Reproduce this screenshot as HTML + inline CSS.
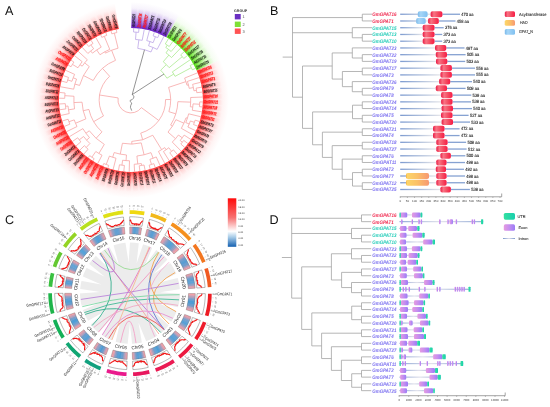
<!DOCTYPE html><html><head><meta charset="utf-8"><style>html,body{margin:0;padding:0;background:#fff;}svg{display:block;}</style></head><body>
<svg width="550" height="407" viewBox="0 0 550 407" font-family="&quot;Liberation Sans&quot;, sans-serif" text-rendering="geometricPrecision" style="will-change:transform">
<rect width="550" height="407" fill="#fff"/>
<defs>
<radialGradient id="gar" gradientUnits="userSpaceOnUse" cx="130.95" cy="99.9" r="98"><stop offset="0.735" stop-color="#ff2b2b" stop-opacity="0.85"/><stop offset="0.786" stop-color="#ff2b2b" stop-opacity="0.45"/><stop offset="0.857" stop-color="#ff2b2b" stop-opacity="0.16"/><stop offset="0.929" stop-color="#ff2b2b" stop-opacity="0.06"/><stop offset="1" stop-color="#ff2b2b" stop-opacity="0"/></radialGradient>
<radialGradient id="gsr" gradientUnits="userSpaceOnUse" cx="130.95" cy="99.9" r="97"><stop offset="0.742" stop-color="#ff2b2b" stop-opacity="0.55"/><stop offset="0.835" stop-color="#ff2b2b" stop-opacity="0.28"/><stop offset="0.897" stop-color="#ff2b2b" stop-opacity="0.08"/><stop offset="0.948" stop-color="#ff2b2b" stop-opacity="0"/><stop offset="1" stop-color="#ff2b2b" stop-opacity="0"/></radialGradient>
<radialGradient id="gap" gradientUnits="userSpaceOnUse" cx="130.95" cy="99.9" r="98"><stop offset="0.735" stop-color="#6a22c6" stop-opacity="1.0"/><stop offset="0.786" stop-color="#6a22c6" stop-opacity="0.62"/><stop offset="0.857" stop-color="#6a22c6" stop-opacity="0.26"/><stop offset="0.929" stop-color="#6a22c6" stop-opacity="0.06"/><stop offset="1" stop-color="#6a22c6" stop-opacity="0"/></radialGradient>
<radialGradient id="gsp" gradientUnits="userSpaceOnUse" cx="130.95" cy="99.9" r="97"><stop offset="0.742" stop-color="#6a22c6" stop-opacity="0.55"/><stop offset="0.835" stop-color="#6a22c6" stop-opacity="0.28"/><stop offset="0.897" stop-color="#6a22c6" stop-opacity="0.08"/><stop offset="0.948" stop-color="#6a22c6" stop-opacity="0"/><stop offset="1" stop-color="#6a22c6" stop-opacity="0"/></radialGradient>
<radialGradient id="gag" gradientUnits="userSpaceOnUse" cx="130.95" cy="99.9" r="98"><stop offset="0.735" stop-color="#5ee01e" stop-opacity="1.0"/><stop offset="0.786" stop-color="#5ee01e" stop-opacity="0.62"/><stop offset="0.857" stop-color="#5ee01e" stop-opacity="0.26"/><stop offset="0.929" stop-color="#5ee01e" stop-opacity="0.06"/><stop offset="1" stop-color="#5ee01e" stop-opacity="0"/></radialGradient>
<radialGradient id="gsg" gradientUnits="userSpaceOnUse" cx="130.95" cy="99.9" r="97"><stop offset="0.742" stop-color="#5ee01e" stop-opacity="0.55"/><stop offset="0.835" stop-color="#5ee01e" stop-opacity="0.28"/><stop offset="0.897" stop-color="#5ee01e" stop-opacity="0.08"/><stop offset="0.948" stop-color="#5ee01e" stop-opacity="0"/><stop offset="1" stop-color="#5ee01e" stop-opacity="0"/></radialGradient>
</defs>
<path d="M131.29,1.90A98.00,98.00 0 0 1 179.17,14.59L166.38,37.22A72.00,72.00 0 0 0 131.20,27.90Z" fill="url(#gap)"/>
<path d="M179.17,14.59A98.00,98.00 0 0 1 220.40,59.87L196.67,70.49A72.00,72.00 0 0 0 166.38,37.22Z" fill="url(#gag)"/>
<path d="M220.40,59.87A98.00,98.00 0 1 1 114.61,3.27L118.94,28.91A72.00,72.00 0 1 0 196.67,70.49Z" fill="url(#gar)"/>
<path d="M132.14,2.91A97.00,97.00 0 0 1 137.21,3.10L135.60,28.05A72.00,72.00 0 0 0 131.83,27.91Z" fill="url(#gsp)"/>
<path d="M139.34,3.26A97.00,97.00 0 0 1 144.39,3.84L140.92,28.59A72.00,72.00 0 0 0 137.18,28.17Z" fill="url(#gsp)"/>
<path d="M146.46,4.15A97.00,97.00 0 0 1 151.45,5.09L146.16,29.53A72.00,72.00 0 0 0 142.46,28.83Z" fill="url(#gsp)"/>
<path d="M153.45,5.55A97.00,97.00 0 0 1 158.36,6.85L151.29,30.83A72.00,72.00 0 0 0 147.65,29.86Z" fill="url(#gsp)"/>
<path d="M160.28,7.44A97.00,97.00 0 0 1 165.08,9.10L156.29,32.50A72.00,72.00 0 0 0 152.72,31.27Z" fill="url(#gsp)"/>
<path d="M166.93,9.82A97.00,97.00 0 0 1 171.59,11.82L161.12,34.52A72.00,72.00 0 0 0 157.65,33.03Z" fill="url(#gsp)"/>
<path d="M173.34,12.65A97.00,97.00 0 0 1 177.85,14.99L165.76,36.88A72.00,72.00 0 0 0 162.42,35.14Z" fill="url(#gsp)"/>
<path d="M179.51,15.93A97.00,97.00 0 0 1 183.83,18.58L170.20,39.54A72.00,72.00 0 0 0 166.99,37.57Z" fill="url(#gsg)"/>
<path d="M185.39,19.62A97.00,97.00 0 0 1 189.52,22.58L174.42,42.51A72.00,72.00 0 0 0 171.36,40.31Z" fill="url(#gsg)"/>
<path d="M190.97,23.70A97.00,97.00 0 0 1 194.88,26.95L178.40,45.75A72.00,72.00 0 0 0 175.50,43.34Z" fill="url(#gsg)"/>
<path d="M196.22,28.15A97.00,97.00 0 0 1 199.89,31.66L182.12,49.25A72.00,72.00 0 0 0 179.40,46.64Z" fill="url(#gsg)"/>
<path d="M201.13,32.94A97.00,97.00 0 0 1 204.54,36.70L185.57,52.99A72.00,72.00 0 0 0 183.04,50.20Z" fill="url(#gsg)"/>
<path d="M205.66,38.04A97.00,97.00 0 0 1 208.80,42.03L188.74,56.95A72.00,72.00 0 0 0 186.41,53.98Z" fill="url(#gsg)"/>
<path d="M209.82,43.43A97.00,97.00 0 0 1 212.66,47.63L191.60,61.10A72.00,72.00 0 0 0 189.49,57.98Z" fill="url(#gsg)"/>
<path d="M213.57,49.08A97.00,97.00 0 0 1 216.12,53.47L194.17,65.44A72.00,72.00 0 0 0 192.28,62.18Z" fill="url(#gsg)"/>
<path d="M216.91,54.96A97.00,97.00 0 0 1 219.14,59.52L196.41,69.92A72.00,72.00 0 0 0 194.75,66.54Z" fill="url(#gsg)"/>
<path d="M219.82,61.04A97.00,97.00 0 0 1 221.74,65.74L198.34,74.55A72.00,72.00 0 0 0 196.92,71.05Z" fill="url(#gsr)"/>
<path d="M222.31,67.29A97.00,97.00 0 0 1 223.89,72.12L199.93,79.28A72.00,72.00 0 0 0 198.76,75.70Z" fill="url(#gsr)"/>
<path d="M224.34,73.70A97.00,97.00 0 0 1 225.59,78.62L201.20,84.10A72.00,72.00 0 0 0 200.27,80.45Z" fill="url(#gsr)"/>
<path d="M225.93,80.21A97.00,97.00 0 0 1 226.83,85.21L202.12,89.00A72.00,72.00 0 0 0 201.45,85.29Z" fill="url(#gsr)"/>
<path d="M227.06,86.82A97.00,97.00 0 0 1 227.62,91.87L202.70,93.94A72.00,72.00 0 0 0 202.29,90.19Z" fill="url(#gsr)"/>
<path d="M227.74,93.48A97.00,97.00 0 0 1 227.94,98.56L202.94,98.90A72.00,72.00 0 0 0 202.79,95.14Z" fill="url(#gsr)"/>
<path d="M227.95,100.17A97.00,97.00 0 0 1 227.80,105.25L202.84,103.87A72.00,72.00 0 0 0 202.95,100.10Z" fill="url(#gsr)"/>
<path d="M227.70,106.87A97.00,97.00 0 0 1 227.20,111.92L202.39,108.82A72.00,72.00 0 0 0 202.76,105.07Z" fill="url(#gsr)"/>
<path d="M226.99,113.53A97.00,97.00 0 0 1 226.14,118.54L201.61,113.73A72.00,72.00 0 0 0 202.24,110.02Z" fill="url(#gsr)"/>
<path d="M225.82,120.13A97.00,97.00 0 0 1 224.63,125.07L200.48,118.58A72.00,72.00 0 0 0 201.37,114.92Z" fill="url(#gsr)"/>
<path d="M224.19,126.65A97.00,97.00 0 0 1 222.66,131.49L199.02,123.35A72.00,72.00 0 0 0 200.16,119.76Z" fill="url(#gsr)"/>
<path d="M222.11,133.05A97.00,97.00 0 0 1 220.25,137.78L197.23,128.01A72.00,72.00 0 0 0 198.61,124.51Z" fill="url(#gsr)"/>
<path d="M219.59,139.30A97.00,97.00 0 0 1 217.40,143.89L195.12,132.55A72.00,72.00 0 0 0 196.74,129.15Z" fill="url(#gsr)"/>
<path d="M216.63,145.38A97.00,97.00 0 0 1 214.13,149.80L192.69,136.94A72.00,72.00 0 0 0 194.55,133.66Z" fill="url(#gsr)"/>
<path d="M213.24,151.25A97.00,97.00 0 0 1 210.44,155.49L189.95,141.16A72.00,72.00 0 0 0 192.03,138.02Z" fill="url(#gsr)"/>
<path d="M209.44,156.89A97.00,97.00 0 0 1 206.35,160.92L186.92,145.19A72.00,72.00 0 0 0 189.21,142.20Z" fill="url(#gsr)"/>
<path d="M205.24,162.27A97.00,97.00 0 0 1 201.88,166.07L183.60,149.02A72.00,72.00 0 0 0 186.09,146.19Z" fill="url(#gsr)"/>
<path d="M200.66,167.35A97.00,97.00 0 0 1 197.03,170.91L180.00,152.61A72.00,72.00 0 0 0 182.69,149.97Z" fill="url(#gsr)"/>
<path d="M195.70,172.12A97.00,97.00 0 0 1 191.83,175.41L176.14,155.95A72.00,72.00 0 0 0 179.01,153.51Z" fill="url(#gsr)"/>
<path d="M190.40,176.55A97.00,97.00 0 0 1 186.30,179.56L172.04,159.03A72.00,72.00 0 0 0 175.08,156.79Z" fill="url(#gsr)"/>
<path d="M184.76,180.60A97.00,97.00 0 0 1 180.47,183.31L167.70,161.81A72.00,72.00 0 0 0 170.89,159.80Z" fill="url(#gsr)"/>
<path d="M178.83,184.26A97.00,97.00 0 0 1 174.35,186.65L163.16,164.29A72.00,72.00 0 0 0 166.49,162.52Z" fill="url(#gsr)"/>
<path d="M172.61,187.50A97.00,97.00 0 0 1 167.97,189.56L158.43,166.45A72.00,72.00 0 0 0 161.87,164.92Z" fill="url(#gsr)"/>
<path d="M166.14,190.29A97.00,97.00 0 0 1 161.36,192.01L153.52,168.27A72.00,72.00 0 0 0 157.07,166.99Z" fill="url(#gsr)"/>
<path d="M159.45,192.62A97.00,97.00 0 0 1 154.56,193.98L148.47,169.73A72.00,72.00 0 0 0 152.11,168.72Z" fill="url(#gsr)"/>
<path d="M152.57,194.46A97.00,97.00 0 0 1 147.59,195.46L143.30,170.83A72.00,72.00 0 0 0 147.00,170.09Z" fill="url(#gsr)"/>
<path d="M145.53,195.80A97.00,97.00 0 0 1 140.49,196.43L138.03,171.55A72.00,72.00 0 0 0 141.77,171.08Z" fill="url(#gsr)"/>
<path d="M138.38,196.62A97.00,97.00 0 0 1 133.30,196.87L132.70,171.88A72.00,72.00 0 0 0 136.46,171.69Z" fill="url(#gsr)"/>
<path d="M131.14,196.90A97.00,97.00 0 0 1 126.06,196.78L127.32,171.81A72.00,72.00 0 0 0 131.09,171.90Z" fill="url(#gsr)"/>
<path d="M123.85,196.64A97.00,97.00 0 0 1 118.80,196.14L121.93,171.33A72.00,72.00 0 0 0 125.68,171.71Z" fill="url(#gsr)"/>
<path d="M116.57,195.83A97.00,97.00 0 0 1 111.57,194.94L116.56,170.45A72.00,72.00 0 0 0 120.28,171.10Z" fill="url(#gsr)"/>
<path d="M109.33,194.46A97.00,97.00 0 0 1 104.41,193.20L111.25,169.15A72.00,72.00 0 0 0 114.90,170.09Z" fill="url(#gsr)"/>
<path d="M102.17,192.53A97.00,97.00 0 0 1 97.36,190.90L106.02,167.45A72.00,72.00 0 0 0 109.59,168.66Z" fill="url(#gsr)"/>
<path d="M95.14,190.05A97.00,97.00 0 0 1 90.47,188.05L100.91,165.33A72.00,72.00 0 0 0 104.37,166.81Z" fill="url(#gsr)"/>
<path d="M88.29,187.02A97.00,97.00 0 0 1 83.79,184.66L95.95,162.82A72.00,72.00 0 0 0 99.29,164.56Z" fill="url(#gsr)"/>
<path d="M81.66,183.45A97.00,97.00 0 0 1 77.36,180.75L91.17,159.91A72.00,72.00 0 0 0 94.37,161.91Z" fill="url(#gsr)"/>
<path d="M75.30,179.35A97.00,97.00 0 0 1 71.22,176.33L86.61,156.63A72.00,72.00 0 0 0 89.64,158.87Z" fill="url(#gsr)"/>
<path d="M69.25,174.75A97.00,97.00 0 0 1 65.42,171.42L82.31,152.98A72.00,72.00 0 0 0 85.15,155.46Z" fill="url(#gsr)"/>
<path d="M63.55,169.66A97.00,97.00 0 0 1 60.00,166.04L78.28,148.99A72.00,72.00 0 0 0 80.92,151.68Z" fill="url(#gsr)"/>
<path d="M58.26,164.12A97.00,97.00 0 0 1 54.99,160.23L74.57,144.68A72.00,72.00 0 0 0 76.99,147.57Z" fill="url(#gsr)"/>
<path d="M53.39,158.16A97.00,97.00 0 0 1 50.45,154.02L71.20,140.07A72.00,72.00 0 0 0 73.38,143.14Z" fill="url(#gsr)"/>
<path d="M49.01,151.81A97.00,97.00 0 0 1 46.40,147.45L68.19,135.19A72.00,72.00 0 0 0 70.13,138.43Z" fill="url(#gsr)"/>
<path d="M45.13,145.10A97.00,97.00 0 0 1 42.88,140.55L65.58,130.07A72.00,72.00 0 0 0 67.25,133.45Z" fill="url(#gsr)"/>
<path d="M41.79,138.10A97.00,97.00 0 0 1 39.91,133.38L63.37,124.75A72.00,72.00 0 0 0 64.77,128.25Z" fill="url(#gsr)"/>
<path d="M39.01,130.83A97.00,97.00 0 0 1 37.52,125.97L61.60,119.25A72.00,72.00 0 0 0 62.71,122.86Z" fill="url(#gsr)"/>
<path d="M36.83,123.35A97.00,97.00 0 0 1 35.73,118.39L60.27,113.62A72.00,72.00 0 0 0 61.09,117.30Z" fill="url(#gsr)"/>
<path d="M35.25,115.71A97.00,97.00 0 0 1 34.55,110.68L59.40,107.90A72.00,72.00 0 0 0 59.91,111.63Z" fill="url(#gsr)"/>
<path d="M34.29,107.96A97.00,97.00 0 0 1 34.00,102.89L58.98,102.12A72.00,72.00 0 0 0 59.20,105.88Z" fill="url(#gsr)"/>
<path d="M33.95,100.15A97.00,97.00 0 0 1 34.07,95.07L59.04,96.32A72.00,72.00 0 0 0 58.95,100.09Z" fill="url(#gsr)"/>
<path d="M34.24,92.34A97.00,97.00 0 0 1 34.77,87.29L59.56,90.54A72.00,72.00 0 0 0 59.17,94.29Z" fill="url(#gsr)"/>
<path d="M35.17,84.59A97.00,97.00 0 0 1 36.10,79.60L60.54,84.83A72.00,72.00 0 0 0 59.85,88.54Z" fill="url(#gsr)"/>
<path d="M36.70,76.95A97.00,97.00 0 0 1 38.04,72.05L61.98,79.22A72.00,72.00 0 0 0 60.99,82.86Z" fill="url(#gsr)"/>
<path d="M38.85,69.46A97.00,97.00 0 0 1 40.57,64.68L63.86,73.76A72.00,72.00 0 0 0 62.59,77.31Z" fill="url(#gsr)"/>
<path d="M41.58,62.18A97.00,97.00 0 0 1 43.68,57.56L66.17,68.47A72.00,72.00 0 0 0 64.62,71.90Z" fill="url(#gsr)"/>
<path d="M44.88,55.17A97.00,97.00 0 0 1 47.34,50.72L68.89,63.40A72.00,72.00 0 0 0 67.06,66.70Z" fill="url(#gsr)"/>
<path d="M48.72,48.45A97.00,97.00 0 0 1 51.52,44.22L71.99,58.57A72.00,72.00 0 0 0 69.91,61.71Z" fill="url(#gsr)"/>
<path d="M53.06,42.08A97.00,97.00 0 0 1 56.20,38.09L75.46,54.02A72.00,72.00 0 0 0 73.14,56.99Z" fill="url(#gsr)"/>
<path d="M57.88,36.10A97.00,97.00 0 0 1 61.32,32.37L79.27,49.77A72.00,72.00 0 0 0 76.71,52.55Z" fill="url(#gsr)"/>
<path d="M63.14,30.54A97.00,97.00 0 0 1 66.86,27.09L83.38,45.85A72.00,72.00 0 0 0 80.62,48.42Z" fill="url(#gsr)"/>
<path d="M68.79,25.43A97.00,97.00 0 0 1 72.77,22.28L87.77,42.29A72.00,72.00 0 0 0 84.81,44.63Z" fill="url(#gsr)"/>
<path d="M74.80,20.80A97.00,97.00 0 0 1 79.02,17.97L92.40,39.09A72.00,72.00 0 0 0 89.27,41.19Z" fill="url(#gsr)"/>
<path d="M81.12,16.68A97.00,97.00 0 0 1 85.55,14.18L97.25,36.27A72.00,72.00 0 0 0 93.96,38.13Z" fill="url(#gsr)"/>
<path d="M87.71,13.07A97.00,97.00 0 0 1 92.31,10.93L102.27,33.86A72.00,72.00 0 0 0 98.85,35.45Z" fill="url(#gsr)"/>
<path d="M94.52,10.00A97.00,97.00 0 0 1 99.28,8.22L107.44,31.85A72.00,72.00 0 0 0 103.91,33.17Z" fill="url(#gsr)"/>
<path d="M101.51,7.47A97.00,97.00 0 0 1 106.39,6.06L112.72,30.25A72.00,72.00 0 0 0 109.10,31.30Z" fill="url(#gsr)"/>
<path d="M108.64,5.50A97.00,97.00 0 0 1 113.61,4.46L118.08,29.06A72.00,72.00 0 0 0 114.39,29.83Z" fill="url(#gsr)"/>
<path d="M133.56,32.04L133.71,27.95 M138.59,32.42L139.05,28.36 M133.56,32.04A67.91,67.91 0 0 1 138.59,32.42 M135.53,39.46L136.08,32.18 M142.20,40.34L144.32,29.15 M135.53,39.46A60.62,60.62 0 0 1 142.20,40.34 M153.12,35.88L154.51,31.86 M157.72,37.66L159.39,33.76 M153.12,35.88A67.76,67.76 0 0 1 157.72,37.66 M146.74,40.62L149.48,30.33 M153.12,42.70L155.44,36.72 M146.74,40.62A61.35,61.35 0 0 1 153.12,42.70 M148.58,45.81L149.96,41.57 M157.14,49.40L164.10,35.99 M148.58,45.81A56.89,56.89 0 0 1 157.14,49.40 M137.75,48.37L138.88,39.81 M151.03,51.96L152.93,47.43 M137.75,48.37A51.97,51.97 0 0 1 151.03,51.96" fill="none" stroke="#b9a2e6" stroke-width="0.75"/>
<path d="M165.30,43.93L168.61,38.54 M169.22,46.54L172.91,41.39 M165.30,43.93A65.67,65.67 0 0 1 169.22,46.54 M165.77,47.48L167.28,45.20 M171.17,51.50L176.97,44.52 M165.77,47.48A62.93,62.93 0 0 1 171.17,51.50 M165.99,52.82L168.52,49.42 M171.56,57.54L180.78,47.93 M165.99,52.82A58.68,58.68 0 0 1 171.56,57.54 M180.69,54.87L184.32,51.58 M183.73,58.48L187.59,55.45 M180.69,54.87A67.10,67.10 0 0 1 183.73,58.48 M163.24,61.72L168.85,55.09 M169.17,67.67L182.24,56.65 M163.24,61.72A50.00,50.00 0 0 1 169.17,67.67 M190.14,65.59L193.24,63.79 M192.38,69.80L195.61,68.22 M190.14,65.59A68.41,68.41 0 0 1 192.38,69.80 M172.35,71.86L190.57,59.53 M175.06,76.35L191.30,67.68 M172.35,71.86A50.00,50.00 0 0 1 175.06,76.35 M160.67,70.22L166.33,64.57 M166.91,78.20L173.76,74.07 M160.67,70.22A42.00,42.00 0 0 1 166.91,78.20" fill="none" stroke="#a6e88a" stroke-width="0.75"/>
<path d="M196.12,88.16L201.81,87.14 M196.78,92.69L202.52,92.06 M196.12,88.16A66.22,66.22 0 0 1 196.78,92.69 M192.65,84.32L200.76,82.27 M193.93,90.79L196.49,90.42 M192.65,84.32A63.64,63.64 0 0 1 193.93,90.79 M187.41,81.40L199.37,77.48 M189.23,88.36L193.38,87.54 M187.41,81.40A59.41,59.41 0 0 1 189.23,88.36 M184.60,78.09L197.65,72.79 M186.98,85.23L188.43,84.85 M184.60,78.09A57.91,57.91 0 0 1 186.98,85.23 M199.71,101.90L202.92,101.99 M199.41,106.64L202.60,106.95 M199.71,101.90A68.79,68.79 0 0 1 199.41,106.64 M193.06,103.85L199.60,104.27 M192.32,110.26L201.95,111.88 M193.06,103.85A62.24,62.24 0 0 1 192.32,110.26 M190.65,97.51L202.89,97.02 M190.30,106.78L192.77,107.06 M190.65,97.51A59.74,59.74 0 0 1 190.30,106.78 M195.11,120.14L199.61,121.56 M193.56,124.54L197.95,126.27 M195.11,120.14A67.28,67.28 0 0 1 193.56,124.54 M190.38,120.94L194.37,122.35 M187.87,127.01L195.95,130.86 M190.38,120.94A63.04,63.04 0 0 1 187.87,127.01 M188.65,113.80L200.95,116.76 M185.79,122.59L189.20,124.01 M188.65,113.80A59.35,59.35 0 0 1 185.79,122.59 M185.97,117.79L187.39,118.25 M181.32,128.35L193.64,135.31 M185.97,117.79A57.85,57.85 0 0 1 181.32,128.35 M183.76,140.39L188.09,143.71 M180.78,144.01L184.86,147.62 M183.76,140.39A66.55,66.55 0 0 1 180.78,144.01 M184.17,135.08L191.01,139.60 M180.18,140.48L182.30,142.23 M184.17,135.08A63.80,63.80 0 0 1 180.18,140.48 M178.45,135.02L182.25,137.83 M172.31,142.08L181.36,151.31 M178.45,135.02A59.07,59.07 0 0 1 172.31,142.08 M175.90,119.66L183.91,123.19 M167.99,132.12L175.52,138.67 M175.90,119.66A49.10,49.10 0 0 1 167.99,132.12 M177.88,101.67L190.65,102.15 M170.61,125.05L172.42,126.19 M177.88,101.67A46.96,46.96 0 0 1 170.61,125.05 M168.64,87.37L185.90,81.62 M168.88,111.69L175.80,113.84 M168.64,87.37A39.72,39.72 0 0 1 168.88,111.69 M173.44,149.86L177.59,154.75 M169.77,152.76L173.57,157.93 M173.44,149.86A65.59,65.59 0 0 1 169.77,152.76 M168.78,147.74L171.63,151.34 M163.44,151.51L169.31,160.83 M168.78,147.74A60.99,60.99 0 0 1 163.44,151.51 M164.69,147.61L166.16,149.69 M158.45,151.46L164.84,163.43 M164.69,147.61A58.44,58.44 0 0 1 158.45,151.46 M153.87,163.65L155.31,167.66 M149.15,165.16L150.30,169.25 M153.87,163.65A67.75,67.75 0 0 1 149.15,165.16 M156.26,156.93L160.16,165.71 M149.90,159.34L151.52,164.45 M156.26,156.93A62.39,62.39 0 0 1 149.90,159.34 M144.05,164.99L145.16,170.48 M139.21,165.78L139.91,171.34 M144.05,164.99A66.39,66.39 0 0 1 139.21,165.78 M141.33,163.52L141.64,165.43 M134.20,164.28L134.58,171.81 M141.33,163.52A64.46,64.46 0 0 1 134.20,164.28 M151.00,152.65L153.11,158.22 M136.92,156.01L137.77,164.00 M151.00,152.65A56.43,56.43 0 0 1 136.92,156.01 M124.41,165.46L123.80,171.54 M119.48,164.77L118.41,170.80 M124.41,165.46A65.88,65.88 0 0 1 119.48,164.77 M129.47,160.78L129.20,171.88 M122.62,160.23L121.94,165.16 M129.47,160.78A60.90,60.90 0 0 1 122.62,160.23 M108.71,165.38L107.79,168.07 M103.75,163.48L102.63,166.10 M108.71,165.38A69.16,69.16 0 0 1 103.75,163.48 M116.00,158.22L113.07,169.64 M109.41,156.12L106.21,164.48 M116.00,158.22A60.21,60.21 0 0 1 109.41,156.12 M126.49,154.98L126.04,160.60 M114.18,152.55L112.67,157.26 M126.49,154.98A55.26,55.26 0 0 1 114.18,152.55 M141.22,142.88L144.07,154.78 M122.41,143.26L120.27,154.12 M141.22,142.88A44.19,44.19 0 0 1 122.41,143.26 M152.75,135.24L161.63,149.63 M131.78,141.41L131.83,144.08 M152.75,135.24A41.52,41.52 0 0 1 131.78,141.41 M165.58,99.56L170.67,99.51 M140.73,133.12L142.68,139.73 M165.58,99.56A34.63,34.63 0 0 1 140.73,133.12 M94.16,158.69L92.76,160.93 M89.69,155.65L88.11,157.77 M94.16,158.69A69.35,69.35 0 0 1 89.69,155.65 M102.04,155.23L97.60,163.71 M95.79,151.49L91.89,157.21 M102.04,155.23A62.43,62.43 0 0 1 95.79,151.49 M88.10,149.19L83.71,154.24 M84.36,145.67L79.59,150.36 M88.10,149.19A65.31,65.31 0 0 1 84.36,145.67 M80.87,141.86L75.76,146.14 M77.70,137.76L72.27,141.62 M80.87,141.86A65.34,65.34 0 0 1 77.70,137.76 M89.92,143.50L86.20,147.47 M83.57,136.50L79.24,139.84 M89.92,143.50A59.87,59.87 0 0 1 83.57,136.50 M89.46,137.54L86.61,140.13 M82.86,128.63L69.14,136.82 M89.46,137.54A56.02,56.02 0 0 1 82.86,128.63 M104.30,144.38L98.86,153.45 M89.29,130.77L85.94,133.25 M104.30,144.38A51.85,51.85 0 0 1 89.29,130.77 M69.85,124.20L64.05,126.51 M68.10,119.23L62.13,121.06 M69.85,124.20A65.76,65.76 0 0 1 68.10,119.23 M77.02,126.53L66.39,131.77 M74.22,119.87L68.92,121.73 M77.02,126.53A60.15,60.15 0 0 1 74.22,119.87 M65.83,108.91L59.63,109.77 M65.31,103.64L59.07,104.00 M65.83,108.91A65.74,65.74 0 0 1 65.31,103.64 M69.23,113.57L60.65,115.47 M68.03,106.04L65.52,106.28 M69.23,113.57A63.22,63.22 0 0 1 68.03,106.04 M64.71,98.34L58.97,98.20 M65.05,93.01L59.34,92.41 M64.71,98.34A66.26,66.26 0 0 1 65.05,93.01 M74.56,108.86L68.52,109.82 M73.97,96.26L64.82,95.67 M74.56,108.86A57.10,57.10 0 0 1 73.97,96.26 M85.84,118.90L75.52,123.24 M82.05,102.19L73.92,102.57 M85.84,118.90A48.95,48.95 0 0 1 82.05,102.19 M101.97,131.87L96.12,138.31 M88.87,109.43L83.21,110.71 M101.97,131.87A43.15,43.15 0 0 1 88.87,109.43 M66.94,82.52L61.46,81.04 M68.54,77.45L63.20,75.52 M66.94,82.52A66.32,66.32 0 0 1 68.54,77.45 M71.95,81.31L67.69,79.97 M74.61,74.36L65.37,70.18 M71.95,81.31A61.86,61.86 0 0 1 74.61,74.36 M73.68,89.20L60.17,86.68 M76.54,79.08L73.18,77.80 M73.68,89.20A58.26,58.26 0 0 1 76.54,79.08 M71.06,66.75L67.96,65.03 M73.89,62.09L70.93,60.13 M71.06,66.75A68.45,68.45 0 0 1 73.89,62.09 M77.98,67.76L72.43,64.39 M82.19,61.68L74.28,55.49 M77.98,67.76A61.95,61.95 0 0 1 82.19,61.68 M82.19,66.18L80.00,64.66 M87.33,59.75L77.97,51.14 M82.19,66.18A59.28,59.28 0 0 1 87.33,59.75 M79.59,85.41L74.88,84.08 M89.27,66.57L84.65,62.88 M79.59,85.41A53.37,53.37 0 0 1 89.27,66.57 M88.72,46.52L86.27,43.44 M93.02,43.38L90.82,40.12 M88.72,46.52A68.07,68.07 0 0 1 93.02,43.38 M87.88,53.48L81.98,47.12 M93.63,48.74L90.83,44.91 M87.88,53.48A63.33,63.33 0 0 1 93.63,48.74 M92.44,53.16L90.68,51.02 M101.21,47.14L95.59,37.18 M92.44,53.16A60.56,60.56 0 0 1 101.21,47.14 M101.84,37.40L100.55,34.63 M106.74,35.35L105.67,32.49 M101.84,37.40A68.94,68.94 0 0 1 106.74,35.35 M99.96,54.72L96.70,49.96 M109.75,49.38L104.27,36.33 M99.96,54.72A54.79,54.79 0 0 1 109.75,49.38 M111.80,33.83L110.90,30.75 M116.88,32.56L116.23,29.42 M111.80,33.83A68.79,68.79 0 0 1 116.88,32.56 M105.43,53.11L104.72,51.80 M118.07,48.19L114.33,33.15 M105.43,53.11A53.29,53.29 0 0 1 118.07,48.19 M93.18,80.49L83.49,75.51 M115.53,60.33L111.60,50.25 M93.18,80.49A42.47,42.47 0 0 1 115.53,60.33 M103.47,115.94L93.69,121.66 M109.64,76.27L102.51,68.36 M103.47,115.94A31.82,31.82 0 0 1 109.64,76.27 M141.40,107.64L158.79,120.51 M118.10,97.90L99.51,95.01 M141.40,107.64A13.00,13.00 0 0 1 118.10,97.90" fill="none" stroke="#f5a0a0" stroke-width="0.75"/>
<path d="M132.2,94.6L144.51,49.73M132.2,94.6L164.03,74.02M132.2,94.6q3.5,2 0,5q-3,0.5 -2,2q3,1 0.5,4q-1,1 1,5" fill="none" stroke="#666" stroke-width="0.7"/>
<text x="133.75" y="26.95" transform="rotate(-87.80 133.75 26.95)" font-size="4.1" font-weight="bold" font-style="italic" fill="#1a1a1a" stroke="#1a1a1a" stroke-width="0.05" dominant-baseline="middle" textLength="13.1" lengthAdjust="spacingAndGlyphs">AtGPAT26</text>
<text x="139.17" y="27.36" transform="rotate(-83.54 139.17 27.36)" font-size="4.2" font-weight="bold" font-style="italic" fill="#ff1c1c" stroke="#ff1c1c" stroke-width="0.2" dominant-baseline="middle" textLength="13.9" lengthAdjust="spacingAndGlyphs">ZmGPAT24</text>
<text x="144.50" y="28.17" transform="rotate(-79.30 144.50 28.17)" font-size="4.2" font-weight="bold" font-style="italic" fill="#ff1c1c" stroke="#ff1c1c" stroke-width="0.2" dominant-baseline="middle" textLength="13.5" lengthAdjust="spacingAndGlyphs">AtGPAT17</text>
<text x="149.74" y="29.36" transform="rotate(-75.09 149.74 29.36)" font-size="4.1" font-weight="bold" font-style="italic" fill="#1a1a1a" stroke="#1a1a1a" stroke-width="0.05" dominant-baseline="middle" textLength="14.2" lengthAdjust="spacingAndGlyphs">SbGPAT1</text>
<text x="154.84" y="30.92" transform="rotate(-70.90 154.84 30.92)" font-size="4.1" font-weight="bold" font-style="italic" fill="#1a1a1a" stroke="#1a1a1a" stroke-width="0.05" dominant-baseline="middle" textLength="13.2" lengthAdjust="spacingAndGlyphs">OsGPAT16</text>
<text x="159.79" y="32.84" transform="rotate(-66.73 159.79 32.84)" font-size="4.1" font-weight="bold" font-style="italic" fill="#1a1a1a" stroke="#1a1a1a" stroke-width="0.05" dominant-baseline="middle" textLength="14.1" lengthAdjust="spacingAndGlyphs">SbGPAT20</text>
<text x="164.56" y="35.10" transform="rotate(-62.59 164.56 35.10)" font-size="4.1" font-weight="bold" font-style="italic" fill="#1a1a1a" stroke="#1a1a1a" stroke-width="0.05" dominant-baseline="middle" textLength="14.1" lengthAdjust="spacingAndGlyphs">ZmGPAT26</text>
<text x="169.13" y="37.68" transform="rotate(-58.46 169.13 37.68)" font-size="4.1" font-weight="bold" font-style="italic" fill="#1a1a1a" stroke="#1a1a1a" stroke-width="0.05" dominant-baseline="middle" textLength="12.9" lengthAdjust="spacingAndGlyphs">OsGPAT12</text>
<text x="173.49" y="40.58" transform="rotate(-54.36 173.49 40.58)" font-size="4.1" font-weight="bold" font-style="italic" fill="#1a1a1a" stroke="#1a1a1a" stroke-width="0.05" dominant-baseline="middle" textLength="13.5" lengthAdjust="spacingAndGlyphs">GmGPAT8</text>
<text x="177.61" y="43.76" transform="rotate(-50.27 177.61 43.76)" font-size="4.2" font-weight="bold" font-style="italic" fill="#ff1c1c" stroke="#ff1c1c" stroke-width="0.2" dominant-baseline="middle" textLength="13.5" lengthAdjust="spacingAndGlyphs">OsGPAT7</text>
<text x="181.47" y="47.21" transform="rotate(-46.21 181.47 47.21)" font-size="4.2" font-weight="bold" font-style="italic" fill="#ff1c1c" stroke="#ff1c1c" stroke-width="0.2" dominant-baseline="middle" textLength="12.8" lengthAdjust="spacingAndGlyphs">BdGPAT27</text>
<text x="185.07" y="50.90" transform="rotate(-42.16 185.07 50.90)" font-size="4.2" font-weight="bold" font-style="italic" fill="#ff1c1c" stroke="#ff1c1c" stroke-width="0.2" dominant-baseline="middle" textLength="13.9" lengthAdjust="spacingAndGlyphs">SbGPAT12</text>
<text x="188.38" y="54.83" transform="rotate(-38.12 188.38 54.83)" font-size="4.1" font-weight="bold" font-style="italic" fill="#1a1a1a" stroke="#1a1a1a" stroke-width="0.05" dominant-baseline="middle" textLength="13.7" lengthAdjust="spacingAndGlyphs">GmGPAT27</text>
<text x="191.40" y="58.97" transform="rotate(-34.10 191.40 58.97)" font-size="4.1" font-weight="bold" font-style="italic" fill="#1a1a1a" stroke="#1a1a1a" stroke-width="0.05" dominant-baseline="middle" textLength="13.8" lengthAdjust="spacingAndGlyphs">ZmGPAT26</text>
<text x="194.11" y="63.29" transform="rotate(-30.10 194.11 63.29)" font-size="4.1" font-weight="bold" font-style="italic" fill="#1a1a1a" stroke="#1a1a1a" stroke-width="0.05" dominant-baseline="middle" textLength="14.0" lengthAdjust="spacingAndGlyphs">AtGPAT16</text>
<text x="196.50" y="67.78" transform="rotate(-26.10 196.50 67.78)" font-size="4.1" font-weight="bold" font-style="italic" fill="#1a1a1a" stroke="#1a1a1a" stroke-width="0.05" dominant-baseline="middle" textLength="13.7" lengthAdjust="spacingAndGlyphs">ZmGPAT26</text>
<text x="198.58" y="72.41" transform="rotate(-22.12 198.58 72.41)" font-size="4.2" font-weight="bold" font-style="italic" fill="#ff1c1c" stroke="#ff1c1c" stroke-width="0.2" dominant-baseline="middle" textLength="14.1" lengthAdjust="spacingAndGlyphs">GmGPAT26</text>
<text x="200.32" y="77.17" transform="rotate(-18.14 200.32 77.17)" font-size="4.2" font-weight="bold" font-style="italic" fill="#ff1c1c" stroke="#ff1c1c" stroke-width="0.2" dominant-baseline="middle" textLength="13.4" lengthAdjust="spacingAndGlyphs">SbGPAT13</text>
<text x="201.73" y="82.03" transform="rotate(-14.17 201.73 82.03)" font-size="4.2" font-weight="bold" font-style="italic" fill="#ff1c1c" stroke="#ff1c1c" stroke-width="0.2" dominant-baseline="middle" textLength="13.8" lengthAdjust="spacingAndGlyphs">SbGPAT3</text>
<text x="202.79" y="86.96" transform="rotate(-10.21 202.79 86.96)" font-size="4.1" font-weight="bold" font-style="italic" fill="#1a1a1a" stroke="#1a1a1a" stroke-width="0.05" dominant-baseline="middle" textLength="12.8" lengthAdjust="spacingAndGlyphs">AtGPAT5</text>
<text x="203.52" y="91.95" transform="rotate(-6.25 203.52 91.95)" font-size="4.1" font-weight="bold" font-style="italic" fill="#1a1a1a" stroke="#1a1a1a" stroke-width="0.05" dominant-baseline="middle" textLength="13.9" lengthAdjust="spacingAndGlyphs">BdGPAT15</text>
<text x="203.89" y="96.98" transform="rotate(-2.29 203.89 96.98)" font-size="4.2" font-weight="bold" font-style="italic" fill="#ff1c1c" stroke="#ff1c1c" stroke-width="0.2" dominant-baseline="middle" textLength="14.0" lengthAdjust="spacingAndGlyphs">AtGPAT20</text>
<text x="203.92" y="102.02" transform="rotate(1.66 203.92 102.02)" font-size="4.2" font-weight="bold" font-style="italic" fill="#ff1c1c" stroke="#ff1c1c" stroke-width="0.2" dominant-baseline="middle" textLength="14.1" lengthAdjust="spacingAndGlyphs">ZmGPAT22</text>
<text x="203.60" y="107.05" transform="rotate(5.62 203.60 107.05)" font-size="4.2" font-weight="bold" font-style="italic" fill="#ff1c1c" stroke="#ff1c1c" stroke-width="0.2" dominant-baseline="middle" textLength="13.6" lengthAdjust="spacingAndGlyphs">AtGPAT18</text>
<text x="202.93" y="112.05" transform="rotate(9.58 202.93 112.05)" font-size="4.2" font-weight="bold" font-style="italic" fill="#ff1c1c" stroke="#ff1c1c" stroke-width="0.2" dominant-baseline="middle" textLength="13.9" lengthAdjust="spacingAndGlyphs">GmGPAT1</text>
<text x="201.92" y="116.99" transform="rotate(13.54 201.92 116.99)" font-size="4.2" font-weight="bold" font-style="italic" fill="#ff1c1c" stroke="#ff1c1c" stroke-width="0.2" dominant-baseline="middle" textLength="12.9" lengthAdjust="spacingAndGlyphs">SbGPAT21</text>
<text x="200.57" y="121.86" transform="rotate(17.51 200.57 121.86)" font-size="4.1" font-weight="bold" font-style="italic" fill="#1a1a1a" stroke="#1a1a1a" stroke-width="0.05" dominant-baseline="middle" textLength="13.4" lengthAdjust="spacingAndGlyphs">SbGPAT5</text>
<text x="198.88" y="126.64" transform="rotate(21.48 198.88 126.64)" font-size="4.1" font-weight="bold" font-style="italic" fill="#1a1a1a" stroke="#1a1a1a" stroke-width="0.05" dominant-baseline="middle" textLength="14.0" lengthAdjust="spacingAndGlyphs">AtGPAT27</text>
<text x="196.86" y="131.29" transform="rotate(25.47 196.86 131.29)" font-size="4.1" font-weight="bold" font-style="italic" fill="#1a1a1a" stroke="#1a1a1a" stroke-width="0.05" dominant-baseline="middle" textLength="13.1" lengthAdjust="spacingAndGlyphs">GmGPAT9</text>
<text x="194.51" y="135.80" transform="rotate(29.46 194.51 135.80)" font-size="4.1" font-weight="bold" font-style="italic" fill="#1a1a1a" stroke="#1a1a1a" stroke-width="0.05" dominant-baseline="middle" textLength="13.9" lengthAdjust="spacingAndGlyphs">BdGPAT8</text>
<text x="191.85" y="140.15" transform="rotate(33.46 191.85 140.15)" font-size="4.1" font-weight="bold" font-style="italic" fill="#1a1a1a" stroke="#1a1a1a" stroke-width="0.05" dominant-baseline="middle" textLength="13.6" lengthAdjust="spacingAndGlyphs">OsGPAT9</text>
<text x="188.88" y="144.32" transform="rotate(37.48 188.88 144.32)" font-size="4.1" font-weight="bold" font-style="italic" fill="#1a1a1a" stroke="#1a1a1a" stroke-width="0.05" dominant-baseline="middle" textLength="14.1" lengthAdjust="spacingAndGlyphs">AtGPAT2</text>
<text x="185.61" y="148.28" transform="rotate(41.51 185.61 148.28)" font-size="4.1" font-weight="bold" font-style="italic" fill="#1a1a1a" stroke="#1a1a1a" stroke-width="0.05" dominant-baseline="middle" textLength="13.7" lengthAdjust="spacingAndGlyphs">OsGPAT15</text>
<text x="182.06" y="152.02" transform="rotate(45.56 182.06 152.02)" font-size="4.1" font-weight="bold" font-style="italic" fill="#1a1a1a" stroke="#1a1a1a" stroke-width="0.05" dominant-baseline="middle" textLength="14.0" lengthAdjust="spacingAndGlyphs">BdGPAT14</text>
<text x="178.24" y="155.51" transform="rotate(49.62 178.24 155.51)" font-size="4.1" font-weight="bold" font-style="italic" fill="#1a1a1a" stroke="#1a1a1a" stroke-width="0.05" dominant-baseline="middle" textLength="13.5" lengthAdjust="spacingAndGlyphs">BdGPAT5</text>
<text x="174.16" y="158.74" transform="rotate(53.70 174.16 158.74)" font-size="4.1" font-weight="bold" font-style="italic" fill="#1a1a1a" stroke="#1a1a1a" stroke-width="0.05" dominant-baseline="middle" textLength="12.8" lengthAdjust="spacingAndGlyphs">BdGPAT17</text>
<text x="169.85" y="161.67" transform="rotate(57.80 169.85 161.67)" font-size="4.1" font-weight="bold" font-style="italic" fill="#1a1a1a" stroke="#1a1a1a" stroke-width="0.05" dominant-baseline="middle" textLength="13.1" lengthAdjust="spacingAndGlyphs">ZmGPAT25</text>
<text x="165.31" y="164.31" transform="rotate(61.92 165.31 164.31)" font-size="4.1" font-weight="bold" font-style="italic" fill="#1a1a1a" stroke="#1a1a1a" stroke-width="0.05" dominant-baseline="middle" textLength="13.9" lengthAdjust="spacingAndGlyphs">GmGPAT25</text>
<text x="160.57" y="166.62" transform="rotate(66.06 160.57 166.62)" font-size="4.1" font-weight="bold" font-style="italic" fill="#1a1a1a" stroke="#1a1a1a" stroke-width="0.05" dominant-baseline="middle" textLength="13.5" lengthAdjust="spacingAndGlyphs">AtGPAT5</text>
<text x="155.64" y="168.60" transform="rotate(70.23 155.64 168.60)" font-size="4.1" font-weight="bold" font-style="italic" fill="#1a1a1a" stroke="#1a1a1a" stroke-width="0.05" dominant-baseline="middle" textLength="13.6" lengthAdjust="spacingAndGlyphs">SbGPAT4</text>
<text x="150.57" y="170.22" transform="rotate(74.41 150.57 170.22)" font-size="4.1" font-weight="bold" font-style="italic" fill="#1a1a1a" stroke="#1a1a1a" stroke-width="0.05" dominant-baseline="middle" textLength="13.5" lengthAdjust="spacingAndGlyphs">OsGPAT22</text>
<text x="145.35" y="171.47" transform="rotate(78.62 145.35 171.47)" font-size="4.1" font-weight="bold" font-style="italic" fill="#1a1a1a" stroke="#1a1a1a" stroke-width="0.05" dominant-baseline="middle" textLength="13.9" lengthAdjust="spacingAndGlyphs">BdGPAT16</text>
<text x="140.03" y="172.33" transform="rotate(82.85 140.03 172.33)" font-size="4.1" font-weight="bold" font-style="italic" fill="#1a1a1a" stroke="#1a1a1a" stroke-width="0.05" dominant-baseline="middle" textLength="12.9" lengthAdjust="spacingAndGlyphs">GmGPAT18</text>
<text x="134.63" y="172.81" transform="rotate(87.11 134.63 172.81)" font-size="4.1" font-weight="bold" font-style="italic" fill="#1a1a1a" stroke="#1a1a1a" stroke-width="0.05" dominant-baseline="middle" textLength="12.9" lengthAdjust="spacingAndGlyphs">AtGPAT9</text>
<text x="129.18" y="172.88" transform="rotate(271.39 129.18 172.88)" font-size="4.1" font-weight="bold" font-style="italic" fill="#1a1a1a" stroke="#1a1a1a" stroke-width="0.05" dominant-baseline="middle" text-anchor="end" textLength="13.4" lengthAdjust="spacingAndGlyphs">GmGPAT17</text>
<text x="123.70" y="172.54" transform="rotate(275.70 123.70 172.54)" font-size="4.1" font-weight="bold" font-style="italic" fill="#1a1a1a" stroke="#1a1a1a" stroke-width="0.05" dominant-baseline="middle" text-anchor="end" textLength="14.1" lengthAdjust="spacingAndGlyphs">GmGPAT25</text>
<text x="118.24" y="171.79" transform="rotate(280.03 118.24 171.79)" font-size="4.1" font-weight="bold" font-style="italic" fill="#1a1a1a" stroke="#1a1a1a" stroke-width="0.05" dominant-baseline="middle" text-anchor="end" textLength="13.3" lengthAdjust="spacingAndGlyphs">GmGPAT15</text>
<text x="112.82" y="170.61" transform="rotate(284.38 112.82 170.61)" font-size="4.1" font-weight="bold" font-style="italic" fill="#1a1a1a" stroke="#1a1a1a" stroke-width="0.05" dominant-baseline="middle" text-anchor="end" textLength="13.5" lengthAdjust="spacingAndGlyphs">BdGPAT20</text>
<text x="107.47" y="169.02" transform="rotate(288.76 107.47 169.02)" font-size="4.1" font-weight="bold" font-style="italic" fill="#1a1a1a" stroke="#1a1a1a" stroke-width="0.05" dominant-baseline="middle" text-anchor="end" textLength="13.4" lengthAdjust="spacingAndGlyphs">SbGPAT9</text>
<text x="102.24" y="167.02" transform="rotate(293.16 102.24 167.02)" font-size="4.2" font-weight="bold" font-style="italic" fill="#ff1c1c" stroke="#ff1c1c" stroke-width="0.2" dominant-baseline="middle" text-anchor="end" textLength="13.5" lengthAdjust="spacingAndGlyphs">BdGPAT26</text>
<text x="97.14" y="164.60" transform="rotate(297.59 97.14 164.60)" font-size="4.2" font-weight="bold" font-style="italic" fill="#ff1c1c" stroke="#ff1c1c" stroke-width="0.2" dominant-baseline="middle" text-anchor="end" textLength="13.5" lengthAdjust="spacingAndGlyphs">AtGPAT23</text>
<text x="92.22" y="161.78" transform="rotate(302.04 92.22 161.78)" font-size="4.2" font-weight="bold" font-style="italic" fill="#ff1c1c" stroke="#ff1c1c" stroke-width="0.2" dominant-baseline="middle" text-anchor="end" textLength="14.0" lengthAdjust="spacingAndGlyphs">OsGPAT18</text>
<text x="87.52" y="158.57" transform="rotate(306.51 87.52 158.57)" font-size="4.2" font-weight="bold" font-style="italic" fill="#ff1c1c" stroke="#ff1c1c" stroke-width="0.2" dominant-baseline="middle" text-anchor="end" textLength="13.4" lengthAdjust="spacingAndGlyphs">AtGPAT27</text>
<text x="83.06" y="154.99" transform="rotate(311.00 83.06 154.99)" font-size="4.1" font-weight="bold" font-style="italic" fill="#1a1a1a" stroke="#1a1a1a" stroke-width="0.05" dominant-baseline="middle" text-anchor="end" textLength="13.3" lengthAdjust="spacingAndGlyphs">ZmGPAT4</text>
<text x="78.87" y="151.06" transform="rotate(315.51 78.87 151.06)" font-size="4.1" font-weight="bold" font-style="italic" fill="#1a1a1a" stroke="#1a1a1a" stroke-width="0.05" dominant-baseline="middle" text-anchor="end" textLength="13.7" lengthAdjust="spacingAndGlyphs">OsGPAT3</text>
<text x="75.00" y="146.78" transform="rotate(320.04 75.00 146.78)" font-size="4.1" font-weight="bold" font-style="italic" fill="#1a1a1a" stroke="#1a1a1a" stroke-width="0.05" dominant-baseline="middle" text-anchor="end" textLength="13.1" lengthAdjust="spacingAndGlyphs">ZmGPAT3</text>
<text x="71.46" y="142.20" transform="rotate(324.59 71.46 142.20)" font-size="4.2" font-weight="bold" font-style="italic" fill="#ff1c1c" stroke="#ff1c1c" stroke-width="0.2" dominant-baseline="middle" text-anchor="end" textLength="13.0" lengthAdjust="spacingAndGlyphs">OsGPAT26</text>
<text x="68.28" y="137.34" transform="rotate(329.15 68.28 137.34)" font-size="4.2" font-weight="bold" font-style="italic" fill="#ff1c1c" stroke="#ff1c1c" stroke-width="0.2" dominant-baseline="middle" text-anchor="end" textLength="13.7" lengthAdjust="spacingAndGlyphs">AtGPAT23</text>
<text x="65.49" y="132.22" transform="rotate(333.72 65.49 132.22)" font-size="4.2" font-weight="bold" font-style="italic" fill="#ff1c1c" stroke="#ff1c1c" stroke-width="0.2" dominant-baseline="middle" text-anchor="end" textLength="13.2" lengthAdjust="spacingAndGlyphs">OsGPAT5</text>
<text x="63.12" y="126.88" transform="rotate(338.31 63.12 126.88)" font-size="4.2" font-weight="bold" font-style="italic" fill="#ff1c1c" stroke="#ff1c1c" stroke-width="0.2" dominant-baseline="middle" text-anchor="end" textLength="13.1" lengthAdjust="spacingAndGlyphs">AtGPAT15</text>
<text x="61.17" y="121.36" transform="rotate(342.91 61.17 121.36)" font-size="4.1" font-weight="bold" font-style="italic" fill="#1a1a1a" stroke="#1a1a1a" stroke-width="0.05" dominant-baseline="middle" text-anchor="end" textLength="14.0" lengthAdjust="spacingAndGlyphs">GmGPAT13</text>
<text x="59.68" y="115.69" transform="rotate(347.51 59.68 115.69)" font-size="4.1" font-weight="bold" font-style="italic" fill="#1a1a1a" stroke="#1a1a1a" stroke-width="0.05" dominant-baseline="middle" text-anchor="end" textLength="14.0" lengthAdjust="spacingAndGlyphs">AtGPAT22</text>
<text x="58.64" y="109.91" transform="rotate(352.12 58.64 109.91)" font-size="4.1" font-weight="bold" font-style="italic" fill="#1a1a1a" stroke="#1a1a1a" stroke-width="0.05" dominant-baseline="middle" text-anchor="end" textLength="13.4" lengthAdjust="spacingAndGlyphs">AtGPAT23</text>
<text x="58.07" y="104.06" transform="rotate(356.74 58.07 104.06)" font-size="4.1" font-weight="bold" font-style="italic" fill="#1a1a1a" stroke="#1a1a1a" stroke-width="0.05" dominant-baseline="middle" text-anchor="end" textLength="13.3" lengthAdjust="spacingAndGlyphs">BdGPAT13</text>
<text x="57.97" y="98.18" transform="rotate(361.35 57.97 98.18)" font-size="4.1" font-weight="bold" font-style="italic" fill="#1a1a1a" stroke="#1a1a1a" stroke-width="0.05" dominant-baseline="middle" text-anchor="end" textLength="13.2" lengthAdjust="spacingAndGlyphs">AtGPAT12</text>
<text x="58.35" y="92.31" transform="rotate(365.97 58.35 92.31)" font-size="4.1" font-weight="bold" font-style="italic" fill="#1a1a1a" stroke="#1a1a1a" stroke-width="0.05" dominant-baseline="middle" text-anchor="end" textLength="12.8" lengthAdjust="spacingAndGlyphs">SbGPAT12</text>
<text x="59.19" y="86.50" transform="rotate(370.58 59.19 86.50)" font-size="4.1" font-weight="bold" font-style="italic" fill="#1a1a1a" stroke="#1a1a1a" stroke-width="0.05" dominant-baseline="middle" text-anchor="end" textLength="13.4" lengthAdjust="spacingAndGlyphs">BdGPAT15</text>
<text x="60.50" y="80.77" transform="rotate(375.19 60.50 80.77)" font-size="4.1" font-weight="bold" font-style="italic" fill="#1a1a1a" stroke="#1a1a1a" stroke-width="0.05" dominant-baseline="middle" text-anchor="end" textLength="13.3" lengthAdjust="spacingAndGlyphs">GmGPAT13</text>
<text x="62.26" y="75.18" transform="rotate(379.79 62.26 75.18)" font-size="4.1" font-weight="bold" font-style="italic" fill="#1a1a1a" stroke="#1a1a1a" stroke-width="0.05" dominant-baseline="middle" text-anchor="end" textLength="13.5" lengthAdjust="spacingAndGlyphs">BdGPAT10</text>
<text x="64.46" y="69.76" transform="rotate(384.38 64.46 69.76)" font-size="4.1" font-weight="bold" font-style="italic" fill="#1a1a1a" stroke="#1a1a1a" stroke-width="0.05" dominant-baseline="middle" text-anchor="end" textLength="14.2" lengthAdjust="spacingAndGlyphs">GmGPAT4</text>
<text x="67.08" y="64.55" transform="rotate(388.96 67.08 64.55)" font-size="4.2" font-weight="bold" font-style="italic" fill="#ff1c1c" stroke="#ff1c1c" stroke-width="0.2" dominant-baseline="middle" text-anchor="end" textLength="12.9" lengthAdjust="spacingAndGlyphs">AtGPAT4</text>
<text x="70.10" y="59.57" transform="rotate(393.53 70.10 59.57)" font-size="4.2" font-weight="bold" font-style="italic" fill="#ff1c1c" stroke="#ff1c1c" stroke-width="0.2" dominant-baseline="middle" text-anchor="end" textLength="14.1" lengthAdjust="spacingAndGlyphs">OsGPAT2</text>
<text x="73.49" y="54.87" transform="rotate(398.09 73.49 54.87)" font-size="4.1" font-weight="bold" font-style="italic" fill="#1a1a1a" stroke="#1a1a1a" stroke-width="0.05" dominant-baseline="middle" text-anchor="end" textLength="13.9" lengthAdjust="spacingAndGlyphs">AtGPAT9</text>
<text x="77.24" y="50.46" transform="rotate(402.63 77.24 50.46)" font-size="4.1" font-weight="bold" font-style="italic" fill="#1a1a1a" stroke="#1a1a1a" stroke-width="0.05" dominant-baseline="middle" text-anchor="end" textLength="13.9" lengthAdjust="spacingAndGlyphs">ZmGPAT22</text>
<text x="81.30" y="46.38" transform="rotate(407.15 81.30 46.38)" font-size="4.1" font-weight="bold" font-style="italic" fill="#1a1a1a" stroke="#1a1a1a" stroke-width="0.05" dominant-baseline="middle" text-anchor="end" textLength="13.0" lengthAdjust="spacingAndGlyphs">OsGPAT13</text>
<text x="85.65" y="42.65" transform="rotate(411.65 85.65 42.65)" font-size="4.1" font-weight="bold" font-style="italic" fill="#1a1a1a" stroke="#1a1a1a" stroke-width="0.05" dominant-baseline="middle" text-anchor="end" textLength="13.5" lengthAdjust="spacingAndGlyphs">BdGPAT19</text>
<text x="90.27" y="39.29" transform="rotate(416.13 90.27 39.29)" font-size="4.1" font-weight="bold" font-style="italic" fill="#1a1a1a" stroke="#1a1a1a" stroke-width="0.05" dominant-baseline="middle" text-anchor="end" textLength="13.2" lengthAdjust="spacingAndGlyphs">OsGPAT3</text>
<text x="95.10" y="36.31" transform="rotate(420.59 95.10 36.31)" font-size="4.1" font-weight="bold" font-style="italic" fill="#1a1a1a" stroke="#1a1a1a" stroke-width="0.05" dominant-baseline="middle" text-anchor="end" textLength="13.4" lengthAdjust="spacingAndGlyphs">SbGPAT6</text>
<text x="100.13" y="33.72" transform="rotate(425.03 100.13 33.72)" font-size="4.1" font-weight="bold" font-style="italic" fill="#1a1a1a" stroke="#1a1a1a" stroke-width="0.05" dominant-baseline="middle" text-anchor="end" textLength="14.1" lengthAdjust="spacingAndGlyphs">GmGPAT9</text>
<text x="105.32" y="31.55" transform="rotate(429.44 105.32 31.55)" font-size="4.1" font-weight="bold" font-style="italic" fill="#1a1a1a" stroke="#1a1a1a" stroke-width="0.05" dominant-baseline="middle" text-anchor="end" textLength="13.9" lengthAdjust="spacingAndGlyphs">SbGPAT3</text>
<text x="110.62" y="29.79" transform="rotate(433.83 110.62 29.79)" font-size="4.1" font-weight="bold" font-style="italic" fill="#1a1a1a" stroke="#1a1a1a" stroke-width="0.05" dominant-baseline="middle" text-anchor="end" textLength="14.0" lengthAdjust="spacingAndGlyphs">GmGPAT20</text>
<text x="116.02" y="28.44" transform="rotate(438.20 116.02 28.44)" font-size="4.1" font-weight="bold" font-style="italic" fill="#1a1a1a" stroke="#1a1a1a" stroke-width="0.05" dominant-baseline="middle" text-anchor="end" textLength="14.0" lengthAdjust="spacingAndGlyphs">GmGPAT9</text>
<text x="234" y="11.6" font-size="3.6" font-weight="bold" fill="#333">GROUP</text>
<rect x="234.8" y="14" width="5.9" height="5.4" fill="#6a2fc2"/>
<text x="242.6" y="18.2" font-size="4" fill="#555">1</text>
<rect x="234.8" y="21.6" width="5.9" height="5.4" fill="#7ee035"/>
<text x="242.6" y="25.8" font-size="4" fill="#555">2</text>
<rect x="234.8" y="28.5" width="5.9" height="5.4" fill="#ff5353"/>
<text x="242.6" y="32.7" font-size="4" fill="#555">3</text>
<defs><linearGradient id="bl" x1="0" x2="1" y1="0" y2="0"><stop offset="0" stop-color="#7d9bd0"/><stop offset="0.6" stop-color="#b8c6de"/><stop offset="1" stop-color="#e6e6ea"/></linearGradient><linearGradient id="acy" x1="0" x2="1" y1="0" y2="0"><stop offset="0" stop-color="#e81a48"/><stop offset="0.1" stop-color="#f03a5a"/><stop offset="0.28" stop-color="#f77484"/><stop offset="0.65" stop-color="#f4485f"/><stop offset="1" stop-color="#f81a45"/></linearGradient><linearGradient id="had" x1="0" x2="1" y1="0" y2="0"><stop offset="0" stop-color="#f4b040"/><stop offset="0.06" stop-color="#fcd468"/><stop offset="0.5" stop-color="#fbc068"/><stop offset="1" stop-color="#f79872"/></linearGradient><linearGradient id="gpn" x1="0" x2="1" y1="0" y2="0"><stop offset="0" stop-color="#7cb8ea"/><stop offset="0.12" stop-color="#8cc6f0"/><stop offset="0.3" stop-color="#a6d6f8"/><stop offset="1" stop-color="#80c0f0"/></linearGradient></defs>
<g transform="translate(292.5,0)"><path d="M-9.80,57.10H0.00M0.00,17.57H69.80M69.80,14.20V20.94M69.80,14.20H79.50M69.80,20.94H79.50M0.00,32.73H59.80M59.80,27.68V37.79M59.80,27.68H79.50M59.80,37.79H69.80M69.80,34.42V41.16M69.80,34.42H79.50M69.80,41.16H79.50M59.80,47.90V58.01M59.80,47.90H79.50M59.80,58.01H69.80M69.80,54.64V61.38M69.80,54.64H79.50M69.80,61.38H79.50M69.80,68.12V74.86M69.80,68.12H79.50M69.80,74.86H79.50M69.80,88.34V95.08M69.80,88.34H79.50M69.80,95.08H79.50M59.80,81.60V91.71M59.80,81.60H79.50M59.80,91.71H69.80M49.90,71.49V86.66M49.90,71.49H69.80M49.90,86.66H59.80M39.70,52.95V79.07M39.70,52.95H59.80M39.70,79.07H49.90M69.80,101.82V108.56M69.80,115.30V122.04M69.80,101.82H79.50M69.80,108.56H79.50M69.80,115.30H79.50M69.80,122.04H79.50M60.00,105.19V118.67M60.00,105.19H69.80M60.00,118.67H69.80M69.80,128.78V135.52M69.80,128.78H79.50M69.80,135.52H79.50M69.80,142.26V149.00M69.80,142.26H79.50M69.80,149.00H79.50M69.80,155.74V162.48M69.80,155.74H79.50M69.80,162.48H79.50M69.80,169.22V175.96M69.80,169.22H79.50M69.80,175.96H79.50M69.80,182.70V189.44M69.80,182.70H79.50M69.80,189.44H79.50M60.00,172.59V186.07M60.00,172.59H69.80M60.00,186.07H69.80M49.70,159.11V179.33M49.70,159.11H69.80M49.70,179.33H60.00M39.70,145.63V169.22M39.70,145.63H69.80M39.70,169.22H49.70M29.90,132.15V157.42M29.90,132.15H69.80M29.90,157.42H39.70M20.10,111.93V144.79M20.10,111.93H60.00M20.10,144.79H29.90M10.00,66.01V128.36M10.00,66.01H39.70M10.00,128.36H20.10M0.00,17.57V97.19M0.00,97.19H10.00" fill="none" stroke="#a3a3a3" stroke-width="0.8"/></g>
<text x="372.2" y="16.10" font-size="5" font-style="italic" font-weight="bold" fill="#f0284e" textLength="24.2" lengthAdjust="spacingAndGlyphs">GmGPAT16</text>
<text x="372.2" y="22.84" font-size="5" font-style="italic" font-weight="bold" fill="#f0284e" textLength="21.4" lengthAdjust="spacingAndGlyphs">GmGPAT1</text>
<text x="372.2" y="29.58" font-size="5" font-style="italic" font-weight="bold" fill="#22ccb8" textLength="24.2" lengthAdjust="spacingAndGlyphs">GmGPAT15</text>
<text x="372.2" y="36.32" font-size="5" font-style="italic" font-weight="bold" fill="#22ccb8" textLength="24.2" lengthAdjust="spacingAndGlyphs">GmGPAT13</text>
<text x="372.2" y="43.06" font-size="5" font-style="italic" font-weight="bold" fill="#22ccb8" textLength="24.2" lengthAdjust="spacingAndGlyphs">GmGPAT10</text>
<text x="372.2" y="49.80" font-size="5" font-style="italic" font-weight="bold" fill="#7c70f0" textLength="24.2" lengthAdjust="spacingAndGlyphs">GmGPAT23</text>
<text x="372.2" y="56.54" font-size="5" font-style="italic" font-weight="bold" fill="#7c70f0" textLength="24.2" lengthAdjust="spacingAndGlyphs">GmGPAT22</text>
<text x="372.2" y="63.28" font-size="5" font-style="italic" font-weight="bold" fill="#7c70f0" textLength="24.2" lengthAdjust="spacingAndGlyphs">GmGPAT19</text>
<text x="372.2" y="70.02" font-size="5" font-style="italic" font-weight="bold" fill="#7c70f0" textLength="24.2" lengthAdjust="spacingAndGlyphs">GmGPAT17</text>
<text x="372.2" y="76.76" font-size="5" font-style="italic" font-weight="bold" fill="#7c70f0" textLength="21.4" lengthAdjust="spacingAndGlyphs">GmGPAT3</text>
<text x="372.2" y="83.50" font-size="5" font-style="italic" font-weight="bold" fill="#7c70f0" textLength="24.2" lengthAdjust="spacingAndGlyphs">GmGPAT26</text>
<text x="372.2" y="90.24" font-size="5" font-style="italic" font-weight="bold" fill="#7c70f0" textLength="21.4" lengthAdjust="spacingAndGlyphs">GmGPAT9</text>
<text x="372.2" y="96.98" font-size="5" font-style="italic" font-weight="bold" fill="#7c70f0" textLength="21.4" lengthAdjust="spacingAndGlyphs">GmGPAT8</text>
<text x="372.2" y="103.72" font-size="5" font-style="italic" font-weight="bold" fill="#7c70f0" textLength="24.2" lengthAdjust="spacingAndGlyphs">GmGPAT24</text>
<text x="372.2" y="110.46" font-size="5" font-style="italic" font-weight="bold" fill="#7c70f0" textLength="24.2" lengthAdjust="spacingAndGlyphs">GmGPAT14</text>
<text x="372.2" y="117.20" font-size="5" font-style="italic" font-weight="bold" fill="#7c70f0" textLength="21.4" lengthAdjust="spacingAndGlyphs">GmGPAT5</text>
<text x="372.2" y="123.94" font-size="5" font-style="italic" font-weight="bold" fill="#7c70f0" textLength="24.2" lengthAdjust="spacingAndGlyphs">GmGPAT20</text>
<text x="372.2" y="130.68" font-size="5" font-style="italic" font-weight="bold" fill="#7c70f0" textLength="24.2" lengthAdjust="spacingAndGlyphs">GmGPAT21</text>
<text x="372.2" y="137.42" font-size="5" font-style="italic" font-weight="bold" fill="#7c70f0" textLength="21.4" lengthAdjust="spacingAndGlyphs">GmGPAT4</text>
<text x="372.2" y="144.16" font-size="5" font-style="italic" font-weight="bold" fill="#7c70f0" textLength="24.2" lengthAdjust="spacingAndGlyphs">GmGPAT18</text>
<text x="372.2" y="150.90" font-size="5" font-style="italic" font-weight="bold" fill="#7c70f0" textLength="24.2" lengthAdjust="spacingAndGlyphs">GmGPAT27</text>
<text x="372.2" y="157.64" font-size="5" font-style="italic" font-weight="bold" fill="#7c70f0" textLength="21.4" lengthAdjust="spacingAndGlyphs">GmGPAT6</text>
<text x="372.2" y="164.38" font-size="5" font-style="italic" font-weight="bold" fill="#7c70f0" textLength="24.2" lengthAdjust="spacingAndGlyphs">GmGPAT11</text>
<text x="372.2" y="171.12" font-size="5" font-style="italic" font-weight="bold" fill="#7c70f0" textLength="21.4" lengthAdjust="spacingAndGlyphs">GmGPAT2</text>
<text x="372.2" y="177.86" font-size="5" font-style="italic" font-weight="bold" fill="#7c70f0" textLength="21.4" lengthAdjust="spacingAndGlyphs">GmGPAT7</text>
<text x="372.2" y="184.60" font-size="5" font-style="italic" font-weight="bold" fill="#7c70f0" textLength="24.2" lengthAdjust="spacingAndGlyphs">GmGPAT12</text>
<text x="372.2" y="191.34" font-size="5" font-style="italic" font-weight="bold" fill="#7c70f0" textLength="24.2" lengthAdjust="spacingAndGlyphs">GmGPAT25</text>
<rect x="400.2" y="13.60" width="30.40" height="1.3" fill="url(#bl)"/>
<rect x="442.40" y="13.60" width="17.60" height="1.3" fill="#86a2d2"/>
<rect x="417.80" y="11.20" width="9.80" height="6" rx="1.8" fill="url(#gpn)"/>
<rect x="430.60" y="11.20" width="11.80" height="6" rx="1.8" fill="url(#acy)"/>
<text x="461.30" y="15.80" font-size="4.7" fill="#222" stroke="#222" stroke-width="0.12" textLength="12.3" lengthAdjust="spacingAndGlyphs">470 aa</text>
<rect x="400.2" y="20.34" width="27.90" height="1.3" fill="url(#bl)"/>
<rect x="438.80" y="20.34" width="16.70" height="1.3" fill="#86a2d2"/>
<rect x="416.20" y="17.94" width="9.50" height="6" rx="1.8" fill="url(#gpn)"/>
<rect x="428.10" y="17.94" width="10.70" height="6" rx="1.8" fill="url(#acy)"/>
<text x="456.80" y="22.54" font-size="4.7" fill="#222" stroke="#222" stroke-width="0.12" textLength="12.3" lengthAdjust="spacingAndGlyphs">458 aa</text>
<rect x="400.2" y="27.08" width="22.50" height="1.3" fill="url(#bl)"/>
<rect x="434.50" y="27.08" width="9.20" height="1.3" fill="#86a2d2"/>
<rect x="422.70" y="24.68" width="11.80" height="6" rx="1.8" fill="url(#acy)"/>
<text x="445.00" y="29.28" font-size="4.7" fill="#222" stroke="#222" stroke-width="0.12" textLength="12.3" lengthAdjust="spacingAndGlyphs">376 aa</text>
<rect x="400.2" y="33.82" width="22.50" height="1.3" fill="url(#bl)"/>
<rect x="434.50" y="33.82" width="7.70" height="1.3" fill="#86a2d2"/>
<rect x="422.70" y="31.42" width="11.80" height="6" rx="1.8" fill="url(#acy)"/>
<text x="443.50" y="36.02" font-size="4.7" fill="#222" stroke="#222" stroke-width="0.12" textLength="12.3" lengthAdjust="spacingAndGlyphs">373 aa</text>
<rect x="400.2" y="40.56" width="22.50" height="1.3" fill="url(#bl)"/>
<rect x="434.50" y="40.56" width="7.70" height="1.3" fill="#86a2d2"/>
<rect x="422.70" y="38.16" width="11.80" height="6" rx="1.8" fill="url(#acy)"/>
<text x="443.50" y="42.76" font-size="4.7" fill="#222" stroke="#222" stroke-width="0.12" textLength="12.3" lengthAdjust="spacingAndGlyphs">373 aa</text>
<rect x="400.2" y="47.30" width="34.80" height="1.3" fill="url(#bl)"/>
<rect x="446.30" y="47.30" width="18.20" height="1.3" fill="#86a2d2"/>
<rect x="435.00" y="44.90" width="11.30" height="6" rx="1.8" fill="url(#acy)"/>
<text x="465.80" y="49.50" font-size="4.7" fill="#222" stroke="#222" stroke-width="0.12" textLength="12.3" lengthAdjust="spacingAndGlyphs">497 aa</text>
<rect x="400.2" y="54.04" width="35.60" height="1.3" fill="url(#bl)"/>
<rect x="447.00" y="54.04" width="18.60" height="1.3" fill="#86a2d2"/>
<rect x="435.80" y="51.64" width="11.20" height="6" rx="1.8" fill="url(#acy)"/>
<text x="466.90" y="56.24" font-size="4.7" fill="#222" stroke="#222" stroke-width="0.12" textLength="12.3" lengthAdjust="spacingAndGlyphs">505 aa</text>
<rect x="400.2" y="60.78" width="35.80" height="1.3" fill="url(#bl)"/>
<rect x="447.30" y="60.78" width="17.90" height="1.3" fill="#86a2d2"/>
<rect x="436.00" y="58.38" width="11.30" height="6" rx="1.8" fill="url(#acy)"/>
<text x="466.50" y="62.98" font-size="4.7" fill="#222" stroke="#222" stroke-width="0.12" textLength="12.3" lengthAdjust="spacingAndGlyphs">503 aa</text>
<rect x="400.2" y="67.52" width="40.20" height="1.3" fill="url(#bl)"/>
<rect x="451.90" y="67.52" width="23.10" height="1.3" fill="#86a2d2"/>
<rect x="440.40" y="65.12" width="11.50" height="6" rx="1.8" fill="url(#acy)"/>
<text x="476.30" y="69.72" font-size="4.7" fill="#222" stroke="#222" stroke-width="0.12" textLength="12.3" lengthAdjust="spacingAndGlyphs">556 aa</text>
<rect x="400.2" y="74.26" width="40.20" height="1.3" fill="url(#bl)"/>
<rect x="451.90" y="74.26" width="23.10" height="1.3" fill="#86a2d2"/>
<rect x="440.40" y="71.86" width="11.50" height="6" rx="1.8" fill="url(#acy)"/>
<text x="476.30" y="76.46" font-size="4.7" fill="#222" stroke="#222" stroke-width="0.12" textLength="12.3" lengthAdjust="spacingAndGlyphs">555 aa</text>
<rect x="400.2" y="81.00" width="38.90" height="1.3" fill="url(#bl)"/>
<rect x="450.20" y="81.00" width="21.80" height="1.3" fill="#86a2d2"/>
<rect x="439.10" y="78.60" width="11.10" height="6" rx="1.8" fill="url(#acy)"/>
<text x="473.30" y="83.20" font-size="4.7" fill="#222" stroke="#222" stroke-width="0.12" textLength="12.3" lengthAdjust="spacingAndGlyphs">540 aa</text>
<rect x="400.2" y="87.74" width="35.60" height="1.3" fill="url(#bl)"/>
<rect x="447.00" y="87.74" width="18.60" height="1.3" fill="#86a2d2"/>
<rect x="435.80" y="85.34" width="11.20" height="6" rx="1.8" fill="url(#acy)"/>
<text x="466.90" y="89.94" font-size="4.7" fill="#222" stroke="#222" stroke-width="0.12" textLength="12.3" lengthAdjust="spacingAndGlyphs">509 aa</text>
<rect x="400.2" y="94.48" width="40.90" height="1.3" fill="url(#bl)"/>
<rect x="452.50" y="94.48" width="18.80" height="1.3" fill="#86a2d2"/>
<rect x="441.10" y="92.08" width="11.40" height="6" rx="1.8" fill="url(#acy)"/>
<text x="472.60" y="96.68" font-size="4.7" fill="#222" stroke="#222" stroke-width="0.12" textLength="12.3" lengthAdjust="spacingAndGlyphs">539 aa</text>
<rect x="400.2" y="101.22" width="40.90" height="1.3" fill="url(#bl)"/>
<rect x="452.50" y="101.22" width="18.50" height="1.3" fill="#86a2d2"/>
<rect x="441.10" y="98.82" width="11.40" height="6" rx="1.8" fill="url(#acy)"/>
<text x="472.30" y="103.42" font-size="4.7" fill="#222" stroke="#222" stroke-width="0.12" textLength="12.3" lengthAdjust="spacingAndGlyphs">539 aa</text>
<rect x="400.2" y="107.96" width="41.40" height="1.3" fill="url(#bl)"/>
<rect x="453.00" y="107.96" width="19.00" height="1.3" fill="#86a2d2"/>
<rect x="441.60" y="105.56" width="11.40" height="6" rx="1.8" fill="url(#acy)"/>
<text x="473.30" y="110.16" font-size="4.7" fill="#222" stroke="#222" stroke-width="0.12" textLength="12.3" lengthAdjust="spacingAndGlyphs">540 aa</text>
<rect x="400.2" y="114.70" width="40.80" height="1.3" fill="url(#bl)"/>
<rect x="452.50" y="114.70" width="16.10" height="1.3" fill="#86a2d2"/>
<rect x="441.00" y="112.30" width="11.50" height="6" rx="1.8" fill="url(#acy)"/>
<text x="469.90" y="116.90" font-size="4.7" fill="#222" stroke="#222" stroke-width="0.12" textLength="12.3" lengthAdjust="spacingAndGlyphs">527 aa</text>
<rect x="400.2" y="121.44" width="41.40" height="1.3" fill="url(#bl)"/>
<rect x="453.00" y="121.44" width="17.00" height="1.3" fill="#86a2d2"/>
<rect x="441.60" y="119.04" width="11.40" height="6" rx="1.8" fill="url(#acy)"/>
<text x="471.30" y="123.64" font-size="4.7" fill="#222" stroke="#222" stroke-width="0.12" textLength="12.3" lengthAdjust="spacingAndGlyphs">533 aa</text>
<rect x="400.2" y="128.18" width="32.80" height="1.3" fill="url(#bl)"/>
<rect x="444.50" y="128.18" width="15.10" height="1.3" fill="#86a2d2"/>
<rect x="433.00" y="125.78" width="11.50" height="6" rx="1.8" fill="url(#acy)"/>
<text x="460.90" y="130.38" font-size="4.7" fill="#222" stroke="#222" stroke-width="0.12" textLength="12.3" lengthAdjust="spacingAndGlyphs">472 aa</text>
<rect x="400.2" y="134.92" width="32.80" height="1.3" fill="url(#bl)"/>
<rect x="444.50" y="134.92" width="15.10" height="1.3" fill="#86a2d2"/>
<rect x="433.00" y="132.52" width="11.50" height="6" rx="1.8" fill="url(#acy)"/>
<text x="460.90" y="137.12" font-size="4.7" fill="#222" stroke="#222" stroke-width="0.12" textLength="12.3" lengthAdjust="spacingAndGlyphs">472 aa</text>
<rect x="400.2" y="141.66" width="36.10" height="1.3" fill="url(#bl)"/>
<rect x="447.60" y="141.66" width="18.50" height="1.3" fill="#86a2d2"/>
<rect x="436.30" y="139.26" width="11.30" height="6" rx="1.8" fill="url(#acy)"/>
<text x="467.40" y="143.86" font-size="4.7" fill="#222" stroke="#222" stroke-width="0.12" textLength="12.3" lengthAdjust="spacingAndGlyphs">509 aa</text>
<rect x="400.2" y="148.40" width="36.10" height="1.3" fill="url(#bl)"/>
<rect x="447.60" y="148.40" width="19.00" height="1.3" fill="#86a2d2"/>
<rect x="436.30" y="146.00" width="11.30" height="6" rx="1.8" fill="url(#acy)"/>
<text x="467.90" y="150.60" font-size="4.7" fill="#222" stroke="#222" stroke-width="0.12" textLength="12.3" lengthAdjust="spacingAndGlyphs">512 aa</text>
<rect x="400.2" y="155.14" width="40.20" height="1.3" fill="url(#bl)"/>
<rect x="450.90" y="155.14" width="14.40" height="1.3" fill="#86a2d2"/>
<rect x="440.40" y="152.74" width="10.50" height="6" rx="1.8" fill="url(#acy)"/>
<text x="466.60" y="157.34" font-size="4.7" fill="#222" stroke="#222" stroke-width="0.12" textLength="12.3" lengthAdjust="spacingAndGlyphs">500 aa</text>
<rect x="400.2" y="161.88" width="36.10" height="1.3" fill="url(#bl)"/>
<rect x="446.50" y="161.88" width="18.50" height="1.3" fill="#86a2d2"/>
<rect x="436.30" y="159.48" width="10.20" height="6" rx="1.8" fill="url(#acy)"/>
<text x="466.30" y="164.08" font-size="4.7" fill="#222" stroke="#222" stroke-width="0.12" textLength="12.3" lengthAdjust="spacingAndGlyphs">499 aa</text>
<rect x="400.2" y="168.62" width="35.60" height="1.3" fill="url(#bl)"/>
<rect x="446.00" y="168.62" width="18.00" height="1.3" fill="#86a2d2"/>
<rect x="435.80" y="166.22" width="10.20" height="6" rx="1.8" fill="url(#acy)"/>
<text x="465.30" y="170.82" font-size="4.7" fill="#222" stroke="#222" stroke-width="0.12" textLength="12.3" lengthAdjust="spacingAndGlyphs">492 aa</text>
<rect x="400.2" y="175.36" width="36.10" height="1.3" fill="url(#bl)"/>
<rect x="446.60" y="175.36" width="18.40" height="1.3" fill="#86a2d2"/>
<rect x="406.00" y="172.96" width="23.00" height="6" rx="1.8" fill="url(#had)"/>
<rect x="436.30" y="172.96" width="10.30" height="6" rx="1.8" fill="url(#acy)"/>
<text x="466.30" y="177.56" font-size="4.7" fill="#222" stroke="#222" stroke-width="0.12" textLength="12.3" lengthAdjust="spacingAndGlyphs">498 aa</text>
<rect x="400.2" y="182.10" width="36.10" height="1.3" fill="url(#bl)"/>
<rect x="446.60" y="182.10" width="18.40" height="1.3" fill="#86a2d2"/>
<rect x="406.00" y="179.70" width="23.00" height="6" rx="1.8" fill="url(#had)"/>
<rect x="436.30" y="179.70" width="10.30" height="6" rx="1.8" fill="url(#acy)"/>
<text x="466.30" y="184.30" font-size="4.7" fill="#222" stroke="#222" stroke-width="0.12" textLength="12.3" lengthAdjust="spacingAndGlyphs">498 aa</text>
<rect x="400.2" y="188.84" width="40.20" height="1.3" fill="url(#bl)"/>
<rect x="450.90" y="188.84" width="19.00" height="1.3" fill="#86a2d2"/>
<rect x="440.40" y="186.44" width="10.50" height="6" rx="1.8" fill="url(#acy)"/>
<text x="471.20" y="191.04" font-size="4.7" fill="#222" stroke="#222" stroke-width="0.12" textLength="12.3" lengthAdjust="spacingAndGlyphs">539 aa</text>
<path d="M399.8,196.8H501.7M501.7,196.8V193.5" stroke="#666" stroke-width="0.6" fill="none"/>
<path d="M400.30,196.8V198" stroke="#666" stroke-width="0.4"/>
<text x="400.30" y="201.9" font-size="3.0" fill="#444" text-anchor="middle">0</text>
<path d="M407.42,196.8V198" stroke="#666" stroke-width="0.4"/>
<text x="407.42" y="201.9" font-size="3.0" fill="#444" text-anchor="middle">50</text>
<path d="M414.54,196.8V198" stroke="#666" stroke-width="0.4"/>
<text x="414.54" y="201.9" font-size="3.0" fill="#444" text-anchor="middle">100</text>
<path d="M421.66,196.8V198" stroke="#666" stroke-width="0.4"/>
<text x="421.66" y="201.9" font-size="3.0" fill="#444" text-anchor="middle">150</text>
<path d="M428.79,196.8V198" stroke="#666" stroke-width="0.4"/>
<text x="428.79" y="201.9" font-size="3.0" fill="#444" text-anchor="middle">200</text>
<path d="M435.91,196.8V198" stroke="#666" stroke-width="0.4"/>
<text x="435.91" y="201.9" font-size="3.0" fill="#444" text-anchor="middle">250</text>
<path d="M443.03,196.8V198" stroke="#666" stroke-width="0.4"/>
<text x="443.03" y="201.9" font-size="3.0" fill="#444" text-anchor="middle">300</text>
<path d="M450.15,196.8V198" stroke="#666" stroke-width="0.4"/>
<text x="450.15" y="201.9" font-size="3.0" fill="#444" text-anchor="middle">350</text>
<path d="M457.27,196.8V198" stroke="#666" stroke-width="0.4"/>
<text x="457.27" y="201.9" font-size="3.0" fill="#444" text-anchor="middle">400</text>
<path d="M464.39,196.8V198" stroke="#666" stroke-width="0.4"/>
<text x="464.39" y="201.9" font-size="3.0" fill="#444" text-anchor="middle">450</text>
<path d="M471.51,196.8V198" stroke="#666" stroke-width="0.4"/>
<text x="471.51" y="201.9" font-size="3.0" fill="#444" text-anchor="middle">500</text>
<path d="M478.64,196.8V198" stroke="#666" stroke-width="0.4"/>
<text x="478.64" y="201.9" font-size="3.0" fill="#444" text-anchor="middle">550</text>
<path d="M485.76,196.8V198" stroke="#666" stroke-width="0.4"/>
<text x="485.76" y="201.9" font-size="3.0" fill="#444" text-anchor="middle">600</text>
<path d="M492.88,196.8V198" stroke="#666" stroke-width="0.4"/>
<text x="492.88" y="201.9" font-size="3.0" fill="#444" text-anchor="middle">650</text>
<path d="M500.00,196.8V198" stroke="#666" stroke-width="0.4"/>
<text x="500.00" y="201.9" font-size="3.0" fill="#444" text-anchor="middle">700</text>
<rect x="504.8" y="11.3" width="10.2" height="5.8" rx="1.5" fill="url(#acy)"/>
<text x="519" y="15.600000000000001" font-size="4.4" fill="#222" stroke="#222" stroke-width="0.08" textLength="27.5" lengthAdjust="spacingAndGlyphs">Acyltransferase</text>
<rect x="504.8" y="20" width="10.2" height="5.8" rx="1.5" fill="url(#had)"/>
<text x="520" y="24.3" font-size="4.4" fill="#222" stroke="#222" stroke-width="0.08" textLength="7.6" lengthAdjust="spacingAndGlyphs">HAD</text>
<rect x="504.8" y="29" width="10.2" height="5.8" rx="1.5" fill="url(#gpn)"/>
<text x="519" y="33.3" font-size="4.4" fill="#222" stroke="#222" stroke-width="0.08" textLength="14.0" lengthAdjust="spacingAndGlyphs">GPAT_N</text>
<ellipse cx="130.0" cy="293.2" rx="50" ry="50.75" fill="#ececec"/>
<path d="M179.05,307.39L177.54,311.93L158.44,302.89Z" fill="#fff"/>
<path d="M172.19,322.28L169.36,326.12L154.01,311.45Z" fill="#fff"/>
<path d="M161.63,333.81L157.80,336.60L147.50,317.94Z" fill="#fff"/>
<path d="M146.60,342.15L142.07,343.49L138.44,322.42Z" fill="#fff"/>
<path d="M132.23,344.92L127.51,344.90L129.92,323.65Z" fill="#fff"/>
<path d="M115.47,342.82L111.02,341.25L120.14,321.96Z" fill="#fff"/>
<path d="M101.70,336.26L97.90,333.43L112.22,317.72Z" fill="#fff"/>
<path d="M89.95,325.25L87.20,321.35L105.61,310.92Z" fill="#fff"/>
<path d="M81.93,310.50L80.56,305.92L101.29,302.04Z" fill="#fff"/>
<path d="M79.00,293.58L79.18,288.80L100.02,292.01Z" fill="#fff"/>
<path d="M80.51,280.68L81.87,276.09L101.26,284.48Z" fill="#fff"/>
<path d="M85.79,267.40L88.32,263.36L104.71,276.82Z" fill="#fff"/>
<path d="M95.22,255.34L98.81,252.24L110.58,269.99Z" fill="#fff"/>
<path d="M108.91,246.07L113.29,244.29L118.87,264.92Z" fill="#fff"/>
<path d="M125.33,241.65L130.04,241.44L128.64,262.78Z" fill="#fff"/>
<path d="M138.88,242.23L143.48,243.28L136.58,263.49Z" fill="#fff"/>
<path d="M152.63,246.81L156.76,249.13L144.54,266.57Z" fill="#fff"/>
<path d="M168.16,258.86L171.12,262.59L153.34,274.08Z" fill="#fff"/>
<path d="M177.04,273.20L178.66,277.70L158.18,282.75Z" fill="#fff"/>
<path d="M180.83,289.00L181.00,293.79L159.98,292.14Z" fill="#fff"/>
<ellipse cx="130.0" cy="293.2" rx="53" ry="53.79" fill="none" stroke="#fff" stroke-width="3"/>
<path d="M211.70,293.71L211.65,296.00L211.55,298.29L211.38,300.58L211.14,302.87L210.85,305.14L210.49,307.41L210.07,309.67L209.59,311.91L209.05,314.14L208.45,316.35L204.90,315.30L205.47,313.19L205.99,311.06L206.45,308.92L206.85,306.77L207.19,304.60L207.47,302.43L207.69,300.25L207.85,298.06L207.96,295.87L208.00,293.68Z" fill="#ee1c24"/>
<path d="M205.30,293.67L205.26,295.78L205.16,297.90L205.00,300.01L204.79,302.11L204.51,304.21L204.19,306.30L203.80,308.38L203.36,310.44L202.86,312.50L202.31,314.54L194.34,312.19L194.83,310.37L195.27,308.54L195.67,306.70L196.01,304.85L196.30,302.99L196.54,301.13L196.73,299.26L196.87,297.38L196.96,295.50L197.00,293.62Z" fill="#fff" stroke="#333" stroke-width="0.35"/>
<path d="M202.15,293.65L201.84,294.32L201.51,294.98L201.15,295.64L199.72,296.25L198.90,296.86L198.77,297.50L198.12,298.10L197.76,298.71L197.66,299.34L197.45,299.96L197.52,300.60L197.55,301.25L197.47,301.88L197.83,302.57L197.28,303.14L197.40,303.80L196.98,304.38L197.04,305.04L196.62,305.61L196.75,306.28L196.44,306.86L197.11,307.66L196.98,308.29L196.80,308.90L197.40,309.71L198.33,310.62L198.09,311.24L199.30,312.25L199.26,312.94L199.32,313.66" fill="none" stroke="#f01818" stroke-width="1.15"/>
<path d="M195.30,293.60L195.29,294.16L195.28,294.72L195.27,295.27L195.25,295.83L188.45,295.55L188.47,295.06L188.48,294.56L188.49,294.06L188.50,293.56Z" fill="rgb(244, 160, 168)"/>
<path d="M195.27,295.13L195.25,295.69L195.23,296.24L195.20,296.80L195.17,297.35L188.38,296.92L188.41,296.42L188.44,295.93L188.46,295.43L188.48,294.93Z" fill="rgb(209, 160, 178)"/>
<path d="M195.21,296.66L195.18,297.22L195.14,297.77L195.10,298.33L195.06,298.88L188.28,298.29L188.32,297.79L188.36,297.30L188.39,296.80L188.42,296.30Z" fill="rgb(174, 159, 187)"/>
<path d="M195.11,298.19L195.07,298.74L195.02,299.30L194.97,299.85L194.91,300.40L188.15,299.65L188.20,299.16L188.25,298.66L188.30,298.16L188.33,297.67Z" fill="rgb(134, 161, 201)"/>
<path d="M194.98,299.71L194.93,300.26L194.87,300.82L194.80,301.37L194.73,301.92L187.99,301.01L188.05,300.52L188.11,300.02L188.17,299.53L188.22,299.03Z" fill="rgb(101, 159, 209)"/>
<path d="M194.82,301.23L194.75,301.78L194.68,302.33L194.60,302.88L194.52,303.43L187.80,302.37L187.87,301.87L187.94,301.38L188.01,300.89L188.07,300.39Z" fill="rgb(77, 155, 212)"/>
<path d="M194.62,302.75L194.54,303.30L194.45,303.84L194.36,304.39L194.27,304.94L187.57,303.72L187.66,303.23L187.74,302.74L187.82,302.24L187.89,301.75Z" fill="rgb(76, 155, 213)"/>
<path d="M194.38,304.26L194.29,304.80L194.19,305.35L194.09,305.90L193.98,306.44L187.32,305.06L187.42,304.57L187.51,304.09L187.60,303.60L187.68,303.11Z" fill="rgb(102, 157, 207)"/>
<path d="M194.12,305.76L194.01,306.31L193.90,306.85L193.78,307.39L193.67,307.94L187.04,306.40L187.14,305.92L187.25,305.43L187.34,304.94L187.44,304.45Z" fill="rgb(110, 156, 204)"/>
<path d="M193.81,307.26L193.70,307.80L193.57,308.34L193.45,308.88L193.31,309.42L186.72,307.73L186.84,307.25L186.95,306.77L187.06,306.28L187.17,305.80Z" fill="rgb(174, 161, 190)"/>
<path d="M193.48,308.75L193.35,309.29L193.21,309.83L193.07,310.37L192.93,310.90L186.37,309.06L186.50,308.58L186.63,308.10L186.75,307.61L186.87,307.13Z" fill="rgb(212, 159, 176)"/>
<path d="M193.11,310.23L193.01,310.60L192.91,310.97L192.81,311.34L192.70,311.71L186.17,309.78L186.27,309.45L186.36,309.12L186.45,308.79L186.54,308.46Z" fill="rgb(232, 159, 171)"/>
<path d="M195.30,293.60L195.26,295.44L195.18,297.27L195.04,299.10L194.85,300.93L194.62,302.75L194.33,304.56L194.00,306.36L193.62,308.15L193.18,309.94L192.70,311.71L186.17,309.78L186.60,308.19L186.99,306.60L187.34,304.99L187.63,303.38L187.89,301.75L188.10,300.12L188.27,298.49L188.39,296.85L188.47,295.21L188.50,293.56Z" fill="none" stroke="#666" stroke-width="0.35"/>
<text x="183.44" y="301.09" transform="rotate(-81.72 183.44 301.09)" font-size="4.7" fill="#1a1a1a" text-anchor="middle" dominant-baseline="middle" textLength="12" lengthAdjust="spacingAndGlyphs">Chr01</text>
<path d="M212.50,293.71L213.80,293.72" stroke="#888" stroke-width="0.3"/>
<text x="216.00" y="293.73" font-size="2.3" fill="#555" text-anchor="middle" dominant-baseline="middle" transform="rotate(90.3 216.00 293.73)">0</text>
<path d="M212.38,297.79L213.67,297.86" stroke="#888" stroke-width="0.3"/>
<text x="215.87" y="297.99" font-size="2.3" fill="#555" text-anchor="middle" dominant-baseline="middle" transform="rotate(93.1 215.87 297.99)">10</text>
<path d="M212.06,301.86L213.35,302.00" stroke="#888" stroke-width="0.3"/>
<text x="215.54" y="302.23" font-size="2.3" fill="#555" text-anchor="middle" dominant-baseline="middle" transform="rotate(95.9 215.54 302.23)">20</text>
<path d="M211.54,305.91L212.83,306.11" stroke="#888" stroke-width="0.3"/>
<text x="215.00" y="306.45" font-size="2.3" fill="#555" text-anchor="middle" dominant-baseline="middle" transform="rotate(98.7 215.00 306.45)">30</text>
<path d="M210.84,309.92L212.11,310.19" stroke="#888" stroke-width="0.3"/>
<text x="214.27" y="310.63" font-size="2.3" fill="#555" text-anchor="middle" dominant-baseline="middle" transform="rotate(101.5 214.27 310.63)">40</text>
<path d="M209.94,313.90L211.20,314.23" stroke="#888" stroke-width="0.3"/>
<text x="213.33" y="314.78" font-size="2.3" fill="#555" text-anchor="middle" dominant-baseline="middle" transform="rotate(104.3 213.33 314.78)">50</text>
<path d="M206.32,322.80L205.52,324.83L204.68,326.83L203.78,328.82L202.83,330.78L201.83,332.71L200.78,334.61L199.68,336.49L198.54,338.34L197.34,340.15L194.29,338.02L195.43,336.29L196.53,334.53L197.58,332.74L198.58,330.92L199.53,329.07L200.44,327.20L201.30,325.31L202.10,323.40L202.86,321.46Z" fill="#ee1c2c"/>
<path d="M200.34,320.48L199.61,322.35L198.83,324.20L198.00,326.03L197.13,327.83L196.20,329.61L195.24,331.37L194.23,333.10L193.17,334.80L192.07,336.47L185.23,331.70L186.21,330.21L187.15,328.70L188.05,327.16L188.91,325.60L189.73,324.01L190.51,322.41L191.24,320.78L191.94,319.14L192.59,317.47Z" fill="#fff" stroke="#333" stroke-width="0.35"/>
<path d="M197.41,319.34L196.74,319.70L196.31,320.14L195.27,320.33L195.01,320.83L194.20,321.09L193.15,321.24L192.36,321.48L192.62,322.21L191.71,322.39L191.49,322.88L190.92,323.21L191.02,323.86L190.86,324.39L190.64,324.89L190.12,325.24L190.14,325.86L189.44,326.10L189.41,326.70L189.01,327.10L189.02,327.73L188.48,328.04L188.28,328.55L188.40,329.27L188.33,329.87L188.75,330.79L188.96,331.58L189.47,332.59L189.68,333.42L189.85,334.23L189.83,334.91" fill="none" stroke="#f01818" stroke-width="1.15"/>
<path d="M191.00,316.86L190.82,317.32L190.64,317.79L190.45,318.25L190.27,318.72L183.99,316.06L184.16,315.65L184.32,315.23L184.49,314.81L184.65,314.39Z" fill="rgb(236, 159, 170)"/>
<path d="M190.53,318.08L190.34,318.54L190.15,319.00L189.96,319.46L189.76,319.92L183.54,317.14L183.71,316.73L183.89,316.31L184.06,315.90L184.22,315.48Z" fill="rgb(220, 159, 174)"/>
<path d="M190.03,319.28L189.84,319.74L189.64,320.20L189.43,320.66L189.23,321.11L183.06,318.21L183.24,317.80L183.43,317.39L183.60,316.98L183.78,316.57Z" fill="rgb(169, 160, 190)"/>
<path d="M189.51,320.48L189.31,320.94L189.10,321.39L188.89,321.84L188.67,322.29L182.56,319.26L182.76,318.86L182.95,318.45L183.13,318.05L183.31,317.64Z" fill="rgb(116, 162, 208)"/>
<path d="M188.97,321.67L188.76,322.12L188.54,322.57L188.32,323.02L188.10,323.46L182.05,320.31L182.25,319.91L182.44,319.51L182.64,319.11L182.83,318.70Z" fill="rgb(111, 161, 208)"/>
<path d="M188.40,322.84L188.18,323.29L187.96,323.74L187.73,324.18L187.50,324.62L181.51,321.35L181.72,320.95L181.92,320.56L182.12,320.16L182.32,319.76Z" fill="rgb(98, 162, 213)"/>
<path d="M187.82,324.01L187.59,324.45L187.35,324.89L187.11,325.33L186.87,325.77L180.95,322.38L181.17,321.98L181.38,321.59L181.59,321.20L181.80,320.80Z" fill="rgb(82, 160, 215)"/>
<path d="M187.21,325.16L186.97,325.60L186.72,326.03L186.48,326.47L186.23,326.90L180.37,323.39L180.60,323.00L180.82,322.61L181.03,322.22L181.25,321.83Z" fill="rgb(104, 162, 211)"/>
<path d="M186.57,326.30L186.33,326.73L186.07,327.16L185.82,327.59L185.56,328.02L179.78,324.39L180.01,324.01L180.24,323.63L180.46,323.24L180.68,322.85Z" fill="rgb(135, 162, 202)"/>
<path d="M185.92,327.43L185.66,327.85L185.40,328.28L185.14,328.70L184.88,329.13L179.16,325.38L179.40,325.01L179.63,324.63L179.87,324.25L180.10,323.86Z" fill="rgb(168, 161, 192)"/>
<path d="M185.24,328.54L184.98,328.96L184.71,329.38L184.44,329.80L184.17,330.22L178.53,326.36L178.77,325.99L179.01,325.62L179.25,325.24L179.49,324.86Z" fill="rgb(213, 160, 177)"/>
<path d="M184.54,329.64L184.37,329.91L184.19,330.19L184.01,330.46L183.83,330.73L178.22,326.82L178.38,326.58L178.54,326.33L178.71,326.09L178.86,325.85Z" fill="rgb(232, 159, 171)"/>
<path d="M191.00,316.86L190.36,318.48L189.69,320.08L188.97,321.67L188.21,323.23L187.41,324.78L186.57,326.30L185.70,327.80L184.78,329.28L183.83,330.73L178.22,326.82L179.08,325.52L179.90,324.20L180.68,322.85L181.43,321.49L182.15,320.11L182.83,318.70L183.47,317.28L184.08,315.85L184.65,314.39Z" fill="none" stroke="#666" stroke-width="0.35"/>
<text x="177.81" y="318.68" transform="rotate(-62.30 177.81 318.68)" font-size="4.7" fill="#1a1a1a" text-anchor="middle" dominant-baseline="middle" textLength="12" lengthAdjust="spacingAndGlyphs">Chr02</text>
<path d="M207.07,323.09L208.28,323.56" stroke="#888" stroke-width="0.3"/>
<text x="210.34" y="324.36" font-size="2.3" fill="#555" text-anchor="middle" dominant-baseline="middle" transform="rotate(110.9 210.34 324.36)">0</text>
<path d="M205.54,326.86L206.73,327.40" stroke="#888" stroke-width="0.3"/>
<text x="208.74" y="328.29" font-size="2.3" fill="#555" text-anchor="middle" dominant-baseline="middle" transform="rotate(113.7 208.74 328.29)">10</text>
<path d="M203.83,330.56L205.00,331.15" stroke="#888" stroke-width="0.3"/>
<text x="206.97" y="332.15" font-size="2.3" fill="#555" text-anchor="middle" dominant-baseline="middle" transform="rotate(116.5 206.97 332.15)">20</text>
<path d="M201.95,334.17L203.09,334.81" stroke="#888" stroke-width="0.3"/>
<text x="205.01" y="335.91" font-size="2.3" fill="#555" text-anchor="middle" dominant-baseline="middle" transform="rotate(119.3 205.01 335.91)">30</text>
<path d="M199.90,337.68L201.00,338.38" stroke="#888" stroke-width="0.3"/>
<text x="202.87" y="339.56" font-size="2.3" fill="#555" text-anchor="middle" dominant-baseline="middle" transform="rotate(122.1 202.87 339.56)">40</text>
<path d="M193.33,345.59L191.86,347.37L190.35,349.10L188.79,350.79L187.18,352.43L185.53,354.02L183.84,355.57L182.10,357.07L180.33,358.52L178.05,355.57L179.74,354.18L181.40,352.75L183.02,351.27L184.59,349.75L186.13,348.18L187.62,346.57L189.06,344.91L190.46,343.22Z" fill="#ec1a40"/>
<path d="M188.37,341.49L187.02,343.12L185.62,344.72L184.18,346.27L182.70,347.79L181.18,349.26L179.62,350.69L178.02,352.07L176.39,353.41L171.27,346.77L172.73,345.58L174.15,344.35L175.54,343.08L176.89,341.77L178.21,340.42L179.49,339.04L180.73,337.62L181.93,336.17Z" fill="#fff" stroke="#333" stroke-width="0.35"/>
<path d="M185.68,339.27L185.37,339.71L184.43,339.62L184.09,340.03L182.97,339.76L182.19,339.77L181.49,339.83L180.95,340.04L180.32,340.16L179.55,340.14L179.75,341.03L179.35,341.36L178.81,341.55L178.48,341.94L178.21,342.39L177.43,342.33L177.54,343.17L176.83,343.17L176.35,343.40L176.11,343.89L176.06,344.60L175.36,344.59L175.40,345.41L175.30,346.07L174.80,346.29L174.66,346.92L174.74,347.84L174.94,348.92L175.03,349.89L174.85,350.53L174.56,351.04" fill="none" stroke="#f01818" stroke-width="1.15"/>
<path d="M180.62,335.08L180.31,335.45L180.01,335.82L179.70,336.19L179.39,336.55L174.25,332.04L174.53,331.71L174.80,331.38L175.07,331.05L175.34,330.72Z" fill="rgb(228, 159, 172)"/>
<path d="M179.84,336.03L179.53,336.39L179.22,336.76L178.91,337.12L178.59,337.48L173.53,332.87L173.81,332.54L174.09,332.22L174.37,331.89L174.65,331.57Z" fill="rgb(202, 160, 180)"/>
<path d="M179.05,336.96L178.73,337.32L178.41,337.68L178.09,338.03L177.77,338.39L172.80,333.68L173.09,333.37L173.37,333.05L173.66,332.73L173.94,332.40Z" fill="rgb(158, 160, 193)"/>
<path d="M178.23,337.88L177.91,338.23L177.59,338.58L177.26,338.93L176.93,339.28L172.05,334.48L172.34,334.17L172.63,333.86L172.92,333.54L173.21,333.22Z" fill="rgb(105, 156, 205)"/>
<path d="M177.41,338.78L177.08,339.13L176.75,339.47L176.42,339.82L176.08,340.16L171.28,335.27L171.58,334.96L171.88,334.66L172.18,334.35L172.47,334.03Z" fill="rgb(95, 161, 213)"/>
<path d="M176.56,339.67L176.23,340.01L175.89,340.35L175.55,340.69L175.21,341.02L170.51,336.04L170.81,335.74L171.11,335.44L171.42,335.14L171.72,334.83Z" fill="rgb(95, 161, 213)"/>
<path d="M175.70,340.54L175.36,340.87L175.02,341.21L174.68,341.54L174.33,341.87L169.71,336.80L170.02,336.50L170.33,336.21L170.64,335.91L170.95,335.61Z" fill="rgb(82, 160, 215)"/>
<path d="M174.83,341.39L174.48,341.72L174.13,342.05L173.78,342.37L173.43,342.70L168.91,337.54L169.22,337.25L169.54,336.96L169.85,336.67L170.16,336.37Z" fill="rgb(98, 159, 210)"/>
<path d="M173.94,342.23L173.59,342.55L173.23,342.87L172.87,343.19L172.52,343.51L168.09,338.27L168.41,337.99L168.73,337.70L169.05,337.41L169.36,337.13Z" fill="rgb(118, 163, 207)"/>
<path d="M173.03,343.05L172.67,343.37L172.31,343.68L171.95,343.99L171.59,344.30L167.26,338.98L167.58,338.70L167.91,338.43L168.23,338.14L168.55,337.86Z" fill="rgb(159, 162, 195)"/>
<path d="M172.11,343.86L171.75,344.17L171.38,344.47L171.01,344.78L170.64,345.08L166.41,339.68L166.74,339.41L167.07,339.13L167.40,338.86L167.73,338.58Z" fill="rgb(218, 159, 174)"/>
<path d="M171.18,344.64L170.94,344.84L170.70,345.03L170.46,345.22L170.23,345.41L166.04,339.97L166.25,339.80L166.46,339.63L166.68,339.46L166.89,339.29Z" fill="rgb(238, 160, 169)"/>
<path d="M180.62,335.08L179.44,336.49L178.23,337.88L176.99,339.23L175.70,340.54L174.39,341.81L173.03,343.05L171.64,344.25L170.23,345.41L166.04,339.97L167.31,338.94L168.55,337.86L169.76,336.75L170.95,335.61L172.09,334.43L173.21,333.22L174.30,331.99L175.34,330.72Z" fill="none" stroke="#666" stroke-width="0.35"/>
<text x="167.80" y="332.35" transform="rotate(-44.42 167.80 332.35)" font-size="4.7" fill="#1a1a1a" text-anchor="middle" dominant-baseline="middle" textLength="12" lengthAdjust="spacingAndGlyphs">Chr03</text>
<path d="M193.95,346.11L194.95,346.94" stroke="#888" stroke-width="0.3"/>
<text x="196.66" y="348.35" font-size="2.3" fill="#555" text-anchor="middle" dominant-baseline="middle" transform="rotate(129.2 196.66 348.35)">0</text>
<path d="M191.33,349.21L192.30,350.09" stroke="#888" stroke-width="0.3"/>
<text x="193.93" y="351.58" font-size="2.3" fill="#555" text-anchor="middle" dominant-baseline="middle" transform="rotate(132.0 193.93 351.58)">10</text>
<path d="M188.57,352.17L189.49,353.10" stroke="#888" stroke-width="0.3"/>
<text x="191.05" y="354.67" font-size="2.3" fill="#555" text-anchor="middle" dominant-baseline="middle" transform="rotate(134.8 191.05 354.67)">20</text>
<path d="M185.67,355.00L186.55,355.97" stroke="#888" stroke-width="0.3"/>
<text x="188.03" y="357.62" font-size="2.3" fill="#555" text-anchor="middle" dominant-baseline="middle" transform="rotate(137.6 188.03 357.62)">30</text>
<path d="M182.64,357.68L183.47,358.70" stroke="#888" stroke-width="0.3"/>
<text x="184.87" y="360.41" font-size="2.3" fill="#555" text-anchor="middle" dominant-baseline="middle" transform="rotate(140.4 184.87 360.41)">40</text>
<path d="M174.89,362.49L172.93,363.75L170.94,364.96L168.92,366.11L166.86,367.20L164.78,368.24L162.67,369.21L160.53,370.12L158.37,370.97L156.18,371.75L155.00,368.19L157.08,367.44L159.15,366.63L161.19,365.77L163.21,364.84L165.19,363.85L167.16,362.81L169.09,361.71L170.99,360.56L172.85,359.35Z" fill="#ea1a52"/>
<path d="M171.37,357.06L169.57,358.23L167.73,359.34L165.87,360.40L163.98,361.41L162.06,362.36L160.11,363.25L158.14,364.09L156.15,364.87L154.13,365.60L151.47,357.62L153.26,356.97L155.04,356.28L156.79,355.53L158.52,354.74L160.23,353.89L161.92,352.99L163.57,352.05L165.21,351.06L166.81,350.02Z" fill="#fff" stroke="#333" stroke-width="0.35"/>
<path d="M169.92,354.83L169.02,354.57L168.13,354.30L167.20,353.95L166.68,354.26L165.46,353.37L164.89,353.57L164.01,353.20L163.60,353.67L163.25,354.25L162.33,353.76L162.13,354.64L161.47,354.63L161.12,355.24L160.52,355.34L159.79,355.17L159.55,356.03L158.85,355.91L158.13,355.73L157.60,355.96L157.28,356.67L156.75,356.90L156.19,357.08L155.66,357.33L155.32,358.04L154.94,358.70L154.80,360.03L154.21,360.15L154.14,361.76L153.77,362.56L153.02,362.25" fill="none" stroke="#f01818" stroke-width="1.15"/>
<path d="M165.88,348.58L165.44,348.87L165.00,349.15L164.57,349.43L164.12,349.71L160.57,343.82L160.97,343.58L161.36,343.33L161.75,343.07L162.14,342.81Z" fill="rgb(244, 160, 168)"/>
<path d="M164.71,349.34L164.27,349.62L163.82,349.90L163.38,350.17L162.93,350.43L159.50,344.47L159.90,344.23L160.30,343.99L160.70,343.75L161.09,343.50Z" fill="rgb(218, 159, 175)"/>
<path d="M163.52,350.08L163.07,350.35L162.63,350.61L162.18,350.87L161.72,351.13L158.42,345.10L158.83,344.87L159.23,344.63L159.63,344.40L160.03,344.16Z" fill="rgb(159, 159, 192)"/>
<path d="M162.32,350.79L161.87,351.05L161.42,351.31L160.96,351.56L160.50,351.80L157.33,345.70L157.74,345.48L158.14,345.25L158.55,345.03L158.95,344.79Z" fill="rgb(137, 160, 199)"/>
<path d="M161.11,351.48L160.65,351.73L160.19,351.97L159.73,352.21L159.27,352.45L156.22,346.28L156.63,346.07L157.05,345.85L157.46,345.63L157.87,345.41Z" fill="rgb(94, 159, 211)"/>
<path d="M159.88,352.14L159.41,352.37L158.95,352.61L158.49,352.84L158.02,353.07L155.10,346.83L155.52,346.63L155.94,346.42L156.35,346.21L156.77,346.00Z" fill="rgb(75, 155, 213)"/>
<path d="M158.63,352.77L158.17,353.00L157.70,353.22L157.23,353.44L156.76,353.66L153.97,347.36L154.39,347.17L154.81,346.97L155.23,346.77L155.65,346.56Z" fill="rgb(87, 163, 217)"/>
<path d="M157.38,353.37L156.91,353.59L156.43,353.81L155.96,354.02L155.48,354.22L152.83,347.87L153.26,347.68L153.68,347.49L154.11,347.30L154.53,347.11Z" fill="rgb(100, 164, 214)"/>
<path d="M156.11,353.95L155.63,354.16L155.16,354.36L154.68,354.56L154.20,354.76L151.68,348.35L152.11,348.17L152.54,347.99L152.97,347.81L153.39,347.62Z" fill="rgb(114, 158, 204)"/>
<path d="M154.83,354.50L154.35,354.70L153.87,354.89L153.39,355.08L152.90,355.27L150.52,348.81L150.95,348.64L151.38,348.47L151.82,348.29L152.25,348.12Z" fill="rgb(161, 158, 190)"/>
<path d="M153.54,355.02L153.06,355.21L152.57,355.39L152.08,355.57L151.59,355.75L149.35,349.24L149.78,349.08L150.22,348.92L150.66,348.75L151.09,348.59Z" fill="rgb(206, 161, 180)"/>
<path d="M152.24,355.52L151.91,355.64L151.58,355.75L151.26,355.87L150.93,355.98L148.75,349.45L149.04,349.34L149.34,349.24L149.63,349.13L149.92,349.03Z" fill="rgb(244, 160, 168)"/>
<path d="M165.88,348.58L164.31,349.59L162.72,350.56L161.11,351.48L159.46,352.35L157.80,353.17L156.11,353.95L154.40,354.68L152.67,355.36L150.93,355.98L148.75,349.45L150.31,348.88L151.86,348.28L153.39,347.62L154.90,346.93L156.40,346.19L157.87,345.41L159.31,344.58L160.74,343.72L162.14,342.81Z" fill="none" stroke="#666" stroke-width="0.35"/>
<text x="153.68" y="342.46" transform="rotate(-26.01 153.68 342.46)" font-size="4.7" fill="#1a1a1a" text-anchor="middle" dominant-baseline="middle" textLength="12" lengthAdjust="spacingAndGlyphs">Chr04</text>
<path d="M175.32,363.17L176.04,364.27" stroke="#888" stroke-width="0.3"/>
<text x="177.25" y="366.14" font-size="2.3" fill="#555" text-anchor="middle" dominant-baseline="middle" transform="rotate(146.7 177.25 366.14)">0</text>
<path d="M171.91,365.33L172.57,366.46" stroke="#888" stroke-width="0.3"/>
<text x="173.69" y="368.39" font-size="2.3" fill="#555" text-anchor="middle" dominant-baseline="middle" transform="rotate(149.5 173.69 368.39)">10</text>
<path d="M168.40,367.31L169.01,368.48" stroke="#888" stroke-width="0.3"/>
<text x="170.03" y="370.46" font-size="2.3" fill="#555" text-anchor="middle" dominant-baseline="middle" transform="rotate(152.3 170.03 370.46)">20</text>
<path d="M164.80,369.12L165.35,370.32" stroke="#888" stroke-width="0.3"/>
<text x="166.27" y="372.35" font-size="2.3" fill="#555" text-anchor="middle" dominant-baseline="middle" transform="rotate(155.1 166.27 372.35)">30</text>
<path d="M161.11,370.76L161.60,371.98" stroke="#888" stroke-width="0.3"/>
<text x="162.43" y="374.05" font-size="2.3" fill="#555" text-anchor="middle" dominant-baseline="middle" transform="rotate(157.8 162.43 374.05)">40</text>
<path d="M157.35,372.20L157.78,373.45" stroke="#888" stroke-width="0.3"/>
<text x="158.51" y="375.55" font-size="2.3" fill="#555" text-anchor="middle" dominant-baseline="middle" transform="rotate(160.6 158.51 375.55)">50</text>
<path d="M149.75,373.67L147.42,374.22L145.06,374.70L142.70,375.12L140.32,375.46L137.94,375.73L135.54,375.93L133.15,376.06L133.00,372.31L135.29,372.19L137.58,372.00L139.85,371.74L142.12,371.41L144.38,371.01L146.63,370.55L148.86,370.02Z" fill="#e8185e"/>
<path d="M148.21,367.36L146.05,367.87L143.88,368.32L141.70,368.70L139.51,369.02L137.31,369.27L135.11,369.45L132.90,369.57L132.58,361.15L134.55,361.05L136.51,360.88L138.46,360.66L140.41,360.38L142.35,360.04L144.28,359.64L146.20,359.19Z" fill="#fff" stroke="#333" stroke-width="0.35"/>
<path d="M147.49,364.44L147.03,364.65L146.43,364.27L145.70,363.29L145.11,362.82L144.36,361.61L143.94,361.90L143.36,361.40L142.92,361.61L142.42,361.49L141.88,361.17L141.38,361.00L141.06,361.95L140.48,361.22L140.07,361.64L139.59,361.58L139.12,361.59L138.71,362.10L138.28,362.40L137.73,361.74L137.31,362.21L136.81,361.95L136.38,362.35L135.91,362.42L135.45,362.55L135.02,363.08L134.59,363.82L134.20,365.31L133.73,365.65L133.25,365.93L132.80,366.84" fill="none" stroke="#f01818" stroke-width="1.15"/>
<path d="M145.79,357.51L145.35,357.62L144.91,357.73L144.47,357.83L144.03,357.93L142.57,351.19L142.97,351.10L143.36,351.01L143.75,350.91L144.14,350.82Z" fill="rgb(244, 160, 168)"/>
<path d="M144.70,357.78L144.26,357.88L143.82,357.98L143.38,358.07L142.94,358.17L141.59,351.40L141.99,351.32L142.38,351.23L142.78,351.14L143.17,351.05Z" fill="rgb(197, 159, 180)"/>
<path d="M143.61,358.02L143.17,358.12L142.72,358.21L142.28,358.30L141.84,358.38L140.61,351.59L141.00,351.52L141.40,351.44L141.80,351.36L142.19,351.27Z" fill="rgb(151, 159, 194)"/>
<path d="M142.51,358.25L142.07,358.34L141.62,358.42L141.18,358.50L140.74,358.58L139.62,351.77L140.02,351.70L140.41,351.63L140.81,351.55L141.21,351.48Z" fill="rgb(110, 157, 205)"/>
<path d="M141.41,358.46L140.97,358.54L140.52,358.61L140.08,358.69L139.63,358.75L138.63,351.93L139.03,351.87L139.43,351.80L139.82,351.73L140.22,351.66Z" fill="rgb(94, 160, 212)"/>
<path d="M140.31,358.65L139.86,358.72L139.42,358.79L138.97,358.85L138.52,358.91L137.63,352.07L138.04,352.01L138.43,351.96L138.83,351.90L139.23,351.83Z" fill="rgb(101, 162, 212)"/>
<path d="M139.20,358.82L138.75,358.88L138.31,358.94L137.86,359.00L137.41,359.05L136.64,352.19L137.04,352.15L137.44,352.10L137.84,352.04L138.24,351.99Z" fill="rgb(84, 159, 214)"/>
<path d="M138.09,358.97L137.64,359.02L137.20,359.08L136.75,359.12L136.30,359.17L135.64,352.30L136.04,352.26L136.45,352.22L136.85,352.17L137.25,352.12Z" fill="rgb(98, 158, 209)"/>
<path d="M136.98,359.10L136.53,359.15L136.08,359.19L135.63,359.23L135.18,359.27L134.64,352.39L135.05,352.36L135.45,352.32L135.85,352.28L136.25,352.24Z" fill="rgb(114, 156, 202)"/>
<path d="M135.86,359.21L135.42,359.25L134.97,359.29L134.52,359.32L134.07,359.35L133.64,352.46L134.05,352.44L134.45,352.41L134.85,352.37L135.25,352.34Z" fill="rgb(161, 162, 194)"/>
<path d="M134.75,359.30L134.30,359.34L133.85,359.36L133.40,359.39L132.95,359.41L132.64,352.52L133.05,352.50L133.45,352.47L133.85,352.45L134.25,352.42Z" fill="rgb(198, 160, 181)"/>
<path d="M133.63,359.38L133.35,359.39L133.07,359.41L132.79,359.42L132.51,359.43L132.25,352.53L132.50,352.52L132.75,352.51L133.00,352.50L133.25,352.49Z" fill="rgb(242, 160, 168)"/>
<path d="M145.79,357.51L143.92,357.96L142.04,358.34L140.15,358.67L138.25,358.95L136.34,359.17L134.43,359.33L132.51,359.43L132.25,352.53L133.97,352.44L135.68,352.30L137.39,352.10L139.09,351.86L140.79,351.56L142.47,351.21L144.14,350.82Z" fill="none" stroke="#666" stroke-width="0.35"/>
<text x="137.61" y="347.46" transform="rotate(-8.10 137.61 347.46)" font-size="4.7" fill="#1a1a1a" text-anchor="middle" dominant-baseline="middle" textLength="12" lengthAdjust="spacingAndGlyphs">Chr05</text>
<path d="M149.95,374.45L150.26,375.73" stroke="#888" stroke-width="0.3"/>
<text x="150.79" y="377.90" font-size="2.3" fill="#555" text-anchor="middle" dominant-baseline="middle" transform="rotate(166.0 150.79 377.90)">0</text>
<path d="M146.02,375.34L146.28,376.64" stroke="#888" stroke-width="0.3"/>
<text x="146.70" y="378.83" font-size="2.3" fill="#555" text-anchor="middle" dominant-baseline="middle" transform="rotate(168.8 146.70 378.83)">10</text>
<path d="M142.06,376.04L142.25,377.34" stroke="#888" stroke-width="0.3"/>
<text x="142.57" y="379.55" font-size="2.3" fill="#555" text-anchor="middle" dominant-baseline="middle" transform="rotate(171.6 142.57 379.55)">20</text>
<path d="M138.07,376.54L138.20,377.85" stroke="#888" stroke-width="0.3"/>
<text x="138.41" y="380.07" font-size="2.3" fill="#555" text-anchor="middle" dominant-baseline="middle" transform="rotate(174.4 138.41 380.07)">30</text>
<path d="M134.06,376.84L134.12,378.15" stroke="#888" stroke-width="0.3"/>
<text x="134.23" y="380.38" font-size="2.3" fill="#555" text-anchor="middle" dominant-baseline="middle" transform="rotate(177.2 134.23 380.38)">40</text>
<path d="M126.45,376.05L124.18,375.91L121.91,375.72L119.65,375.46L117.40,375.13L115.16,374.75L112.93,374.29L110.71,373.78L108.51,373.20L106.32,372.57L107.39,368.97L109.48,369.58L111.58,370.13L113.70,370.62L115.83,371.05L117.97,371.42L120.12,371.73L122.28,371.98L124.44,372.17L126.61,372.30Z" fill="#ea1a8c"/>
<path d="M126.72,369.56L124.63,369.44L122.54,369.25L120.46,369.01L118.39,368.71L116.32,368.36L114.26,367.94L112.22,367.47L110.19,366.94L108.18,366.35L110.58,358.29L112.37,358.81L114.18,359.28L116.00,359.70L117.83,360.07L119.67,360.39L121.51,360.66L123.37,360.87L125.22,361.03L127.09,361.14Z" fill="#fff" stroke="#333" stroke-width="0.35"/>
<path d="M126.87,366.13L126.28,365.96L125.71,365.37L125.16,364.76L124.62,364.00L124.05,363.81L123.53,363.16L122.98,362.80L122.53,361.69L121.97,361.54L121.33,362.11L120.74,362.20L120.23,361.69L119.65,361.71L119.19,361.03L118.56,361.33L117.91,361.77L117.36,361.56L116.79,361.48L116.21,361.49L115.79,360.67L115.26,360.46L114.68,360.47L113.99,360.88L113.32,361.22L112.57,361.81L111.90,362.08L111.15,362.59L110.36,363.24L109.72,363.28L109.06,363.39" fill="none" stroke="#f01818" stroke-width="1.15"/>
<path d="M127.16,359.42L126.65,359.39L126.14,359.36L125.63,359.33L125.12,359.29L125.62,352.41L126.08,352.44L126.54,352.47L127.00,352.50L127.46,352.52Z" fill="rgb(228, 160, 172)"/>
<path d="M125.80,359.34L125.29,359.31L124.78,359.27L124.27,359.22L123.76,359.18L124.41,352.31L124.86,352.35L125.32,352.39L125.78,352.42L126.24,352.45Z" fill="rgb(203, 161, 181)"/>
<path d="M124.44,359.24L123.93,359.19L123.42,359.14L122.91,359.09L122.40,359.03L123.19,352.17L123.65,352.23L124.10,352.28L124.56,352.32L125.02,352.36Z" fill="rgb(165, 159, 190)"/>
<path d="M123.08,359.11L122.57,359.05L122.06,358.99L121.56,358.92L121.05,358.85L121.98,352.02L122.44,352.08L122.89,352.14L123.35,352.19L123.80,352.24Z" fill="rgb(111, 158, 205)"/>
<path d="M121.73,358.95L121.22,358.88L120.71,358.81L120.21,358.73L119.70,358.65L120.77,351.83L121.23,351.91L121.68,351.97L122.13,352.04L122.59,352.10Z" fill="rgb(105, 161, 210)"/>
<path d="M120.38,358.76L119.87,358.68L119.37,358.59L118.86,358.51L118.36,358.42L119.57,351.63L120.02,351.71L120.47,351.78L120.93,351.86L121.38,351.93Z" fill="rgb(76, 155, 213)"/>
<path d="M119.03,358.54L118.53,358.45L118.02,358.36L117.52,358.26L117.02,358.16L118.37,351.39L118.82,351.48L119.27,351.57L119.72,351.65L120.17,351.73Z" fill="rgb(89, 160, 214)"/>
<path d="M117.69,358.29L117.19,358.19L116.69,358.09L116.19,357.98L115.69,357.87L117.18,351.13L117.62,351.23L118.07,351.33L118.52,351.42L118.97,351.51Z" fill="rgb(92, 157, 210)"/>
<path d="M116.35,358.02L115.85,357.91L115.35,357.79L114.86,357.67L114.36,357.55L115.99,350.85L116.43,350.96L116.88,351.06L117.33,351.17L117.77,351.27Z" fill="rgb(121, 156, 200)"/>
<path d="M115.02,357.71L114.53,357.59L114.03,357.47L113.53,357.34L113.04,357.20L114.80,350.54L115.25,350.66L115.69,350.77L116.14,350.89L116.58,350.99Z" fill="rgb(157, 159, 193)"/>
<path d="M113.70,357.38L113.20,357.25L112.71,357.11L112.22,356.97L111.73,356.83L113.63,350.20L114.07,350.33L114.51,350.46L114.95,350.58L115.40,350.70Z" fill="rgb(220, 160, 175)"/>
<path d="M112.38,357.02L112.06,356.93L111.73,356.83L111.40,356.73L111.07,356.63L113.05,350.03L113.34,350.12L113.63,350.21L113.92,350.29L114.22,350.38Z" fill="rgb(244, 160, 168)"/>
<path d="M127.16,359.42L125.34,359.31L123.53,359.15L121.73,358.95L119.93,358.69L118.14,358.38L116.35,358.02L114.58,357.61L112.82,357.14L111.07,356.63L113.05,350.03L114.61,350.49L116.19,350.90L117.77,351.27L119.37,351.59L120.98,351.87L122.59,352.10L124.21,352.29L125.83,352.43L127.46,352.52Z" fill="none" stroke="#666" stroke-width="0.35"/>
<text x="120.93" y="347.23" transform="rotate(9.67 120.93 347.23)" font-size="4.7" fill="#1a1a1a" text-anchor="middle" dominant-baseline="middle" textLength="12" lengthAdjust="spacingAndGlyphs">Chr06</text>
<path d="M126.41,376.86L126.35,378.18" stroke="#888" stroke-width="0.3"/>
<text x="126.26" y="380.41" font-size="2.3" fill="#555" text-anchor="middle" dominant-baseline="middle" transform="rotate(2.5 126.26 380.41)">0</text>
<path d="M122.40,376.58L122.28,377.90" stroke="#888" stroke-width="0.3"/>
<text x="122.08" y="380.12" font-size="2.3" fill="#555" text-anchor="middle" dominant-baseline="middle" transform="rotate(5.3 122.08 380.12)">10</text>
<path d="M118.41,376.11L118.22,377.41" stroke="#888" stroke-width="0.3"/>
<text x="117.91" y="379.62" font-size="2.3" fill="#555" text-anchor="middle" dominant-baseline="middle" transform="rotate(8.1 117.91 379.62)">20</text>
<path d="M114.44,375.43L114.20,376.73" stroke="#888" stroke-width="0.3"/>
<text x="113.78" y="378.92" font-size="2.3" fill="#555" text-anchor="middle" dominant-baseline="middle" transform="rotate(10.9 113.78 378.92)">30</text>
<path d="M110.51,374.57L110.20,375.85" stroke="#888" stroke-width="0.3"/>
<text x="109.68" y="378.02" font-size="2.3" fill="#555" text-anchor="middle" dominant-baseline="middle" transform="rotate(13.7 109.68 378.02)">40</text>
<path d="M106.63,373.51L106.26,374.77" stroke="#888" stroke-width="0.3"/>
<text x="105.64" y="376.91" font-size="2.3" fill="#555" text-anchor="middle" dominant-baseline="middle" transform="rotate(16.5 105.64 376.91)">50</text>
<path d="M99.99,370.33L97.94,369.47L95.91,368.56L93.91,367.59L91.93,366.57L89.98,365.49L88.06,364.36L86.17,363.18L84.31,361.95L86.38,358.83L88.15,360.01L89.96,361.14L91.79,362.22L93.65,363.25L95.54,364.22L97.45,365.15L99.39,366.02L101.35,366.84Z" fill="#12a07e"/>
<path d="M102.34,364.29L100.45,363.50L98.58,362.66L96.73,361.77L94.91,360.82L93.11,359.83L91.34,358.79L89.60,357.70L87.89,356.56L92.53,349.58L94.05,350.59L95.60,351.56L97.18,352.49L98.78,353.37L100.40,354.21L102.04,355.00L103.71,355.75L105.39,356.45Z" fill="#fff" stroke="#333" stroke-width="0.35"/>
<path d="M103.58,361.11L103.16,360.75L102.61,360.72L102.51,359.61L102.48,358.33L102.40,357.26L101.94,357.04L101.55,356.70L101.28,356.09L100.94,355.64L100.34,355.75L99.79,355.75L99.66,354.89L99.31,354.49L98.73,354.53L98.26,354.38L97.70,354.38L97.49,353.71L96.77,354.00L96.36,353.71L96.04,353.27L95.74,352.79L94.87,353.29L94.69,352.62L93.83,353.08L93.46,352.72L92.69,353.00L91.57,353.83L91.00,353.76L89.91,354.47L89.63,353.95" fill="none" stroke="#f01818" stroke-width="1.15"/>
<path d="M106.02,354.85L105.58,354.67L105.15,354.49L104.72,354.31L104.29,354.13L106.97,347.78L107.35,347.95L107.74,348.11L108.13,348.27L108.51,348.43Z" fill="rgb(231, 159, 171)"/>
<path d="M104.92,354.40L104.49,354.21L104.06,354.03L103.63,353.84L103.21,353.64L106.00,347.35L106.38,347.52L106.76,347.69L107.15,347.86L107.53,348.02Z" fill="rgb(206, 160, 179)"/>
<path d="M103.83,353.93L103.41,353.73L102.98,353.54L102.56,353.34L102.13,353.14L105.04,346.90L105.41,347.08L105.79,347.26L106.18,347.43L106.56,347.60Z" fill="rgb(172, 158, 187)"/>
<path d="M102.75,353.43L102.33,353.23L101.91,353.03L101.49,352.83L101.07,352.62L104.08,346.43L104.46,346.62L104.83,346.80L105.21,346.98L105.59,347.16Z" fill="rgb(117, 157, 203)"/>
<path d="M101.68,352.92L101.26,352.72L100.84,352.51L100.43,352.29L100.01,352.08L103.14,345.95L103.51,346.14L103.88,346.33L104.26,346.52L104.63,346.70Z" fill="rgb(107, 157, 205)"/>
<path d="M100.62,352.39L100.21,352.18L99.79,351.96L99.38,351.74L98.97,351.52L102.20,345.44L102.57,345.64L102.94,345.84L103.31,346.04L103.68,346.23Z" fill="rgb(75, 155, 213)"/>
<path d="M99.57,351.84L99.16,351.62L98.75,351.40L98.34,351.17L97.93,350.94L101.27,344.92L101.64,345.13L102.00,345.34L102.37,345.54L102.74,345.74Z" fill="rgb(91, 163, 216)"/>
<path d="M98.53,351.27L98.12,351.04L97.71,350.81L97.31,350.58L96.91,350.34L100.35,344.39L100.71,344.60L101.08,344.81L101.44,345.02L101.81,345.23Z" fill="rgb(112, 161, 208)"/>
<path d="M97.50,350.69L97.09,350.45L96.69,350.21L96.29,349.97L95.89,349.72L99.44,343.83L99.80,344.05L100.16,344.27L100.52,344.49L100.88,344.70Z" fill="rgb(141, 162, 200)"/>
<path d="M96.48,350.08L96.08,349.83L95.68,349.59L95.28,349.34L94.89,349.08L98.54,343.26L98.90,343.49L99.25,343.71L99.61,343.94L99.97,344.16Z" fill="rgb(156, 158, 192)"/>
<path d="M95.47,349.45L95.07,349.20L94.68,348.95L94.29,348.69L93.90,348.43L97.66,342.68L98.01,342.91L98.36,343.14L98.71,343.37L99.06,343.60Z" fill="rgb(220, 160, 175)"/>
<path d="M94.47,348.81L94.22,348.64L93.97,348.48L93.73,348.31L93.48,348.15L97.28,342.42L97.50,342.57L97.73,342.72L97.95,342.87L98.17,343.02Z" fill="rgb(227, 160, 172)"/>
<path d="M106.02,354.85L104.38,354.16L102.75,353.43L101.15,352.66L99.57,351.84L98.01,350.98L96.48,350.08L94.97,349.13L93.48,348.15L97.28,342.42L98.61,343.31L99.97,344.16L101.34,344.97L102.74,345.74L104.16,346.47L105.59,347.16L107.04,347.81L108.51,348.43Z" fill="none" stroke="#666" stroke-width="0.35"/>
<text x="104.84" y="341.69" transform="rotate(27.78 104.84 341.69)" font-size="4.7" fill="#1a1a1a" text-anchor="middle" dominant-baseline="middle" textLength="12" lengthAdjust="spacingAndGlyphs">Chr07</text>
<path d="M99.70,371.09L99.22,372.31" stroke="#888" stroke-width="0.3"/>
<text x="98.41" y="374.39" font-size="2.3" fill="#555" text-anchor="middle" dominant-baseline="middle" transform="rotate(21.5 98.41 374.39)">0</text>
<path d="M96.00,369.49L95.46,370.70" stroke="#888" stroke-width="0.3"/>
<text x="94.55" y="372.73" font-size="2.3" fill="#555" text-anchor="middle" dominant-baseline="middle" transform="rotate(24.3 94.55 372.73)">10</text>
<path d="M92.38,367.72L91.78,368.90" stroke="#888" stroke-width="0.3"/>
<text x="90.78" y="370.88" font-size="2.3" fill="#555" text-anchor="middle" dominant-baseline="middle" transform="rotate(27.1 90.78 370.88)">20</text>
<path d="M88.84,365.77L88.19,366.92" stroke="#888" stroke-width="0.3"/>
<text x="87.10" y="368.85" font-size="2.3" fill="#555" text-anchor="middle" dominant-baseline="middle" transform="rotate(29.9 87.10 368.85)">30</text>
<path d="M85.41,363.65L84.71,364.76" stroke="#888" stroke-width="0.3"/>
<text x="83.52" y="366.64" font-size="2.3" fill="#555" text-anchor="middle" dominant-baseline="middle" transform="rotate(32.7 83.52 366.64)">40</text>
<path d="M78.91,357.92L77.08,356.38L75.29,354.79L73.55,353.14L71.85,351.45L70.20,349.71L68.61,347.92L67.06,346.08L65.57,344.20L68.49,341.89L69.91,343.68L71.39,345.44L72.91,347.15L74.48,348.81L76.10,350.43L77.77,352.00L79.48,353.52L81.23,354.98Z" fill="#10a672"/>
<path d="M82.92,352.85L81.23,351.43L79.58,349.96L77.97,348.45L76.41,346.89L74.89,345.28L73.42,343.63L71.99,341.94L70.62,340.20L77.17,335.02L78.39,336.56L79.65,338.07L80.96,339.54L82.31,340.97L83.70,342.36L85.13,343.71L86.60,345.01L88.11,346.27Z" fill="#fff" stroke="#333" stroke-width="0.35"/>
<path d="M84.93,350.29L84.62,349.78L84.55,348.98L84.69,347.93L84.87,346.87L84.70,346.22L84.57,345.55L83.99,345.40L84.27,344.27L83.38,344.47L83.54,343.51L83.06,343.23L82.36,343.20L81.98,342.82L81.88,342.16L81.78,341.50L81.11,341.42L80.81,340.96L80.05,340.96L80.21,340.07L79.71,339.80L78.93,339.80L79.15,338.87L78.38,338.85L77.48,338.92L76.80,338.79L76.51,338.32L75.59,338.38L74.66,338.42L73.23,338.86L73.26,338.11" fill="none" stroke="#f01818" stroke-width="1.15"/>
<path d="M89.17,344.92L88.79,344.61L88.41,344.30L88.04,343.98L87.66,343.66L92.07,338.41L92.41,338.69L92.74,338.98L93.08,339.26L93.42,339.54Z" fill="rgb(244, 160, 168)"/>
<path d="M88.19,344.11L87.81,343.79L87.44,343.47L87.07,343.15L86.71,342.82L91.22,337.65L91.54,337.95L91.87,338.24L92.21,338.52L92.54,338.81Z" fill="rgb(203, 159, 179)"/>
<path d="M87.22,343.28L86.85,342.95L86.49,342.62L86.13,342.29L85.77,341.96L90.37,336.88L90.70,337.18L91.02,337.48L91.35,337.77L91.68,338.06Z" fill="rgb(175, 160, 188)"/>
<path d="M86.27,342.42L85.91,342.09L85.55,341.76L85.20,341.42L84.84,341.08L89.54,336.09L89.86,336.40L90.18,336.70L90.50,337.00L90.83,337.30Z" fill="rgb(120, 161, 205)"/>
<path d="M85.34,341.55L84.98,341.21L84.63,340.87L84.28,340.53L83.93,340.18L88.73,335.29L89.04,335.60L89.36,335.91L89.67,336.21L89.99,336.52Z" fill="rgb(91, 157, 210)"/>
<path d="M84.42,340.66L84.07,340.32L83.73,339.97L83.39,339.62L83.05,339.26L87.93,334.46L88.24,334.78L88.55,335.10L88.86,335.41L89.17,335.72Z" fill="rgb(86, 162, 216)"/>
<path d="M83.52,339.76L83.18,339.40L82.84,339.05L82.51,338.69L82.17,338.33L87.15,333.63L87.45,333.95L87.75,334.27L88.06,334.59L88.36,334.91Z" fill="rgb(100, 161, 211)"/>
<path d="M82.64,338.83L82.31,338.47L81.97,338.11L81.65,337.74L81.32,337.38L86.39,332.78L86.68,333.11L86.98,333.43L87.27,333.76L87.57,334.08Z" fill="rgb(105, 156, 205)"/>
<path d="M81.78,337.89L81.45,337.52L81.12,337.15L80.80,336.78L80.48,336.41L85.64,331.91L85.93,332.24L86.21,332.58L86.51,332.91L86.80,333.24Z" fill="rgb(116, 159, 205)"/>
<path d="M80.93,336.93L80.61,336.56L80.29,336.18L79.98,335.80L79.67,335.42L84.91,331.03L85.19,331.37L85.47,331.71L85.75,332.04L86.04,332.38Z" fill="rgb(177, 161, 189)"/>
<path d="M80.10,335.96L79.79,335.58L79.48,335.20L79.17,334.81L78.87,334.42L84.19,330.13L84.47,330.48L84.74,330.82L85.02,331.16L85.30,331.50Z" fill="rgb(204, 159, 179)"/>
<path d="M79.30,334.97L79.10,334.72L78.90,334.46L78.70,334.21L78.51,333.96L83.87,329.71L84.04,329.94L84.22,330.17L84.40,330.39L84.58,330.62Z" fill="rgb(237, 159, 169)"/>
<path d="M89.17,344.92L87.70,343.70L86.27,342.42L84.88,341.11L83.52,339.76L82.21,338.36L80.93,336.93L79.70,335.46L78.51,333.96L83.87,329.71L84.94,331.06L86.04,332.38L87.18,333.66L88.36,334.91L89.58,336.12L90.83,337.30L92.11,338.44L93.42,339.54Z" fill="none" stroke="#666" stroke-width="0.35"/>
<text x="91.57" y="331.70" transform="rotate(45.38 91.57 331.70)" font-size="4.7" fill="#1a1a1a" text-anchor="middle" dominant-baseline="middle" textLength="12" lengthAdjust="spacingAndGlyphs">Chr08</text>
<path d="M78.41,358.55L77.60,359.58" stroke="#888" stroke-width="0.3"/>
<text x="76.23" y="361.32" font-size="2.3" fill="#555" text-anchor="middle" dominant-baseline="middle" transform="rotate(38.7 76.23 361.32)">0</text>
<path d="M75.34,355.92L74.48,356.91" stroke="#888" stroke-width="0.3"/>
<text x="73.02" y="358.58" font-size="2.3" fill="#555" text-anchor="middle" dominant-baseline="middle" transform="rotate(41.5 73.02 358.58)">10</text>
<path d="M72.39,353.14L71.49,354.09" stroke="#888" stroke-width="0.3"/>
<text x="69.95" y="355.69" font-size="2.3" fill="#555" text-anchor="middle" dominant-baseline="middle" transform="rotate(44.3 69.95 355.69)">20</text>
<path d="M69.58,350.22L68.63,351.12" stroke="#888" stroke-width="0.3"/>
<text x="67.02" y="352.64" font-size="2.3" fill="#555" text-anchor="middle" dominant-baseline="middle" transform="rotate(47.1 67.02 352.64)">30</text>
<path d="M66.92,347.17L65.92,348.02" stroke="#888" stroke-width="0.3"/>
<text x="64.24" y="349.46" font-size="2.3" fill="#555" text-anchor="middle" dominant-baseline="middle" transform="rotate(49.9 64.24 349.46)">40</text>
<path d="M61.67,338.67L60.48,336.76L59.34,334.83L58.25,332.86L57.22,330.87L56.23,328.85L55.31,326.80L54.43,324.73L53.62,322.63L52.86,320.51L56.35,319.27L57.08,321.30L57.86,323.30L58.69,325.28L59.57,327.23L60.51,329.16L61.50,331.07L62.54,332.94L63.63,334.79L64.77,336.61Z" fill="#14b058"/>
<path d="M67.03,335.10L65.93,333.35L64.88,331.57L63.87,329.76L62.92,327.92L62.01,326.06L61.16,324.17L60.35,322.26L59.60,320.32L58.90,318.37L66.74,315.60L67.36,317.33L68.03,319.05L68.75,320.75L69.51,322.43L70.31,324.09L71.16,325.73L72.05,327.34L72.99,328.93L73.97,330.49Z" fill="#fff" stroke="#333" stroke-width="0.35"/>
<path d="M69.26,333.62L69.73,332.60L69.33,332.15L69.69,331.23L69.95,330.37L70.25,329.51L70.53,328.68L70.76,327.88L70.66,327.29L70.43,326.77L69.83,326.46L70.21,325.62L69.85,325.17L69.10,324.93L69.30,324.19L69.22,323.61L69.00,323.09L68.30,322.81L68.26,322.20L67.43,321.97L67.27,321.42L66.91,320.96L67.27,320.19L67.05,319.67L66.53,319.27L65.49,319.08L64.48,318.86L63.82,318.49L63.15,318.12L62.28,317.80L61.71,317.38" fill="none" stroke="#f01818" stroke-width="1.15"/>
<path d="M75.39,329.54L75.11,329.11L74.84,328.68L74.58,328.25L74.31,327.81L80.11,324.21L80.35,324.60L80.59,324.98L80.83,325.37L81.08,325.75Z" fill="rgb(244, 160, 168)"/>
<path d="M74.67,328.40L74.40,327.97L74.14,327.53L73.88,327.09L73.63,326.65L79.50,323.17L79.73,323.56L79.96,323.96L80.19,324.35L80.43,324.74Z" fill="rgb(217, 160, 176)"/>
<path d="M73.98,327.25L73.72,326.81L73.46,326.37L73.21,325.92L72.97,325.48L78.91,322.12L79.13,322.52L79.35,322.91L79.58,323.31L79.81,323.70Z" fill="rgb(156, 161, 195)"/>
<path d="M73.30,326.08L73.05,325.64L72.81,325.19L72.57,324.74L72.33,324.29L78.34,321.05L78.55,321.46L78.77,321.86L78.98,322.26L79.21,322.66Z" fill="rgb(119, 160, 205)"/>
<path d="M72.65,324.90L72.41,324.45L72.18,324.00L71.95,323.55L71.72,323.09L77.79,319.98L77.99,320.39L78.20,320.79L78.41,321.20L78.63,321.60Z" fill="rgb(99, 162, 212)"/>
<path d="M72.03,323.71L71.80,323.25L71.57,322.80L71.35,322.34L71.13,321.88L77.26,318.89L77.46,319.30L77.66,319.72L77.86,320.12L78.07,320.53Z" fill="rgb(78, 157, 214)"/>
<path d="M71.43,322.50L71.21,322.04L70.99,321.58L70.78,321.12L70.57,320.65L76.75,317.80L76.94,318.21L77.14,318.63L77.33,319.04L77.53,319.45Z" fill="rgb(77, 156, 213)"/>
<path d="M70.85,321.28L70.64,320.82L70.43,320.36L70.23,319.89L70.03,319.42L76.27,316.69L76.45,317.11L76.64,317.53L76.82,317.94L77.01,318.36Z" fill="rgb(110, 160, 207)"/>
<path d="M70.30,320.05L70.10,319.59L69.90,319.12L69.70,318.65L69.51,318.17L75.81,315.57L75.98,316.00L76.16,316.42L76.34,316.84L76.52,317.26Z" fill="rgb(118, 159, 204)"/>
<path d="M69.77,318.81L69.58,318.34L69.39,317.87L69.21,317.39L69.02,316.92L75.37,314.45L75.54,314.87L75.70,315.30L75.87,315.72L76.04,316.15Z" fill="rgb(175, 160, 188)"/>
<path d="M69.27,317.56L69.09,317.09L68.91,316.61L68.73,316.13L68.56,315.65L74.96,313.31L75.11,313.74L75.27,314.17L75.43,314.60L75.60,315.03Z" fill="rgb(202, 160, 180)"/>
<path d="M68.79,316.30L68.68,315.98L68.57,315.67L68.45,315.35L68.34,315.03L74.76,312.76L74.86,313.04L74.96,313.33L75.06,313.61L75.17,313.89Z" fill="rgb(243, 160, 168)"/>
<path d="M75.39,329.54L74.44,328.02L73.52,326.47L72.65,324.90L71.83,323.31L71.04,321.69L70.30,320.05L69.60,318.40L68.95,316.72L68.34,315.03L74.76,312.76L75.31,314.27L75.89,315.77L76.52,317.26L77.18,318.73L77.88,320.17L78.63,321.60L79.41,323.01L80.22,324.39L81.08,325.75Z" fill="none" stroke="#666" stroke-width="0.35"/>
<text x="81.56" y="317.43" transform="rotate(63.76 81.56 317.43)" font-size="4.7" fill="#1a1a1a" text-anchor="middle" dominant-baseline="middle" textLength="12" lengthAdjust="spacingAndGlyphs">Chr09</text>
<path d="M61.01,339.11L59.92,339.83" stroke="#888" stroke-width="0.3"/>
<text x="58.08" y="341.06" font-size="2.3" fill="#555" text-anchor="middle" dominant-baseline="middle" transform="rotate(56.8 58.08 341.06)">0</text>
<path d="M58.88,335.64L57.76,336.31" stroke="#888" stroke-width="0.3"/>
<text x="55.87" y="337.44" font-size="2.3" fill="#555" text-anchor="middle" dominant-baseline="middle" transform="rotate(59.5 55.87 337.44)">10</text>
<path d="M56.93,332.08L55.78,332.69" stroke="#888" stroke-width="0.3"/>
<text x="53.83" y="333.73" font-size="2.3" fill="#555" text-anchor="middle" dominant-baseline="middle" transform="rotate(62.3 53.83 333.73)">20</text>
<path d="M55.15,328.42L53.97,328.97" stroke="#888" stroke-width="0.3"/>
<text x="51.98" y="329.91" font-size="2.3" fill="#555" text-anchor="middle" dominant-baseline="middle" transform="rotate(65.1 51.98 329.91)">30</text>
<path d="M53.55,324.67L52.34,325.17" stroke="#888" stroke-width="0.3"/>
<text x="50.31" y="326.01" font-size="2.3" fill="#555" text-anchor="middle" dominant-baseline="middle" transform="rotate(67.9 50.31 326.01)">40</text>
<path d="M52.13,320.86L50.90,321.29" stroke="#888" stroke-width="0.3"/>
<text x="48.83" y="322.03" font-size="2.3" fill="#555" text-anchor="middle" dominant-baseline="middle" transform="rotate(70.7 48.83 322.03)">50</text>
<path d="M50.91,314.00L50.37,311.75L49.89,309.49L49.47,307.21L49.12,304.92L48.83,302.62L48.60,300.32L48.44,298.00L48.34,295.69L48.30,293.37L52.00,293.36L52.04,295.58L52.13,297.79L52.29,299.99L52.51,302.19L52.78,304.39L53.12,306.57L53.52,308.75L53.98,310.91L54.49,313.06Z" fill="#1eb44a"/>
<path d="M57.11,312.37L56.61,310.30L56.17,308.21L55.78,306.11L55.46,304.00L55.19,301.88L54.98,299.76L54.83,297.63L54.73,295.49L54.70,293.36L63.00,293.34L63.03,295.24L63.11,297.14L63.25,299.04L63.43,300.93L63.67,302.81L63.96,304.69L64.31,306.56L64.70,308.41L65.14,310.26Z" fill="#fff" stroke="#333" stroke-width="0.35"/>
<path d="M60.49,311.48L60.17,310.94L60.20,310.30L60.74,309.54L61.27,308.80L62.63,307.89L62.74,307.27L63.12,306.60L63.12,306.01L62.34,305.56L62.67,304.91L62.25,304.39L62.72,303.73L62.15,303.23L62.48,302.59L62.59,301.99L62.01,301.48L61.78,300.92L62.55,300.25L62.00,299.73L61.90,299.15L62.21,298.55L61.92,297.99L61.93,297.40L61.51,296.84L60.95,296.29L59.93,295.73L59.11,295.16L58.83,294.56L58.49,293.96L57.97,293.35" fill="none" stroke="#f01818" stroke-width="1.15"/>
<path d="M66.79,309.83L66.66,309.32L66.54,308.82L66.42,308.31L66.30,307.80L72.94,306.28L73.04,306.74L73.15,307.19L73.26,307.64L73.37,308.10Z" fill="rgb(244, 160, 168)"/>
<path d="M66.46,308.48L66.34,307.97L66.23,307.46L66.12,306.96L66.02,306.45L72.68,305.07L72.77,305.52L72.87,305.98L72.97,306.43L73.08,306.89Z" fill="rgb(202, 159, 179)"/>
<path d="M66.16,307.12L66.05,306.61L65.95,306.10L65.85,305.59L65.76,305.08L72.45,303.84L72.53,304.30L72.62,304.76L72.71,305.22L72.81,305.67Z" fill="rgb(171, 160, 189)"/>
<path d="M65.88,305.76L65.79,305.25L65.70,304.74L65.61,304.23L65.53,303.71L72.24,302.62L72.32,303.08L72.39,303.54L72.48,304.00L72.56,304.46Z" fill="rgb(107, 156, 205)"/>
<path d="M65.64,304.40L65.55,303.88L65.47,303.37L65.40,302.85L65.32,302.34L72.06,301.39L72.12,301.85L72.19,302.31L72.26,302.77L72.34,303.23Z" fill="rgb(97, 160, 211)"/>
<path d="M65.42,303.03L65.35,302.51L65.28,301.99L65.21,301.48L65.15,300.96L71.90,300.15L71.96,300.62L72.02,301.08L72.08,301.54L72.15,302.00Z" fill="rgb(85, 156, 210)"/>
<path d="M65.23,301.65L65.17,301.13L65.11,300.62L65.05,300.10L65.00,299.58L71.77,298.92L71.82,299.38L71.87,299.84L71.92,300.31L71.98,300.77Z" fill="rgb(85, 161, 216)"/>
<path d="M65.07,300.27L65.02,299.75L64.97,299.23L64.93,298.71L64.89,298.20L71.67,297.68L71.70,298.14L71.74,298.61L71.79,299.07L71.83,299.53Z" fill="rgb(94, 158, 210)"/>
<path d="M64.94,298.89L64.90,298.37L64.86,297.85L64.83,297.33L64.80,296.81L71.59,296.43L71.61,296.90L71.64,297.36L71.68,297.83L71.72,298.30Z" fill="rgb(124, 163, 206)"/>
<path d="M64.84,297.50L64.81,296.98L64.78,296.46L64.76,295.94L64.74,295.42L71.53,295.19L71.55,295.66L71.57,296.12L71.60,296.59L71.62,297.05Z" fill="rgb(158, 160, 193)"/>
<path d="M64.76,296.12L64.74,295.59L64.73,295.07L64.71,294.55L64.71,294.03L71.50,293.95L71.51,294.41L71.52,294.88L71.54,295.35L71.56,295.81Z" fill="rgb(204, 159, 179)"/>
<path d="M64.72,294.73L64.71,294.38L64.71,294.03L64.70,293.69L64.70,293.34L71.50,293.32L71.50,293.63L71.50,293.95L71.51,294.26L71.52,294.57Z" fill="rgb(244, 160, 168)"/>
<path d="M66.79,309.83L66.36,308.03L65.97,306.22L65.64,304.40L65.36,302.57L65.12,300.73L64.94,298.89L64.81,297.04L64.73,295.19L64.70,293.34L71.50,293.32L71.53,294.98L71.60,296.64L71.72,298.30L71.88,299.95L72.09,301.59L72.34,303.23L72.64,304.86L72.98,306.48L73.37,308.10Z" fill="none" stroke="#666" stroke-width="0.35"/>
<text x="76.44" y="300.19" transform="rotate(82.68 76.44 300.19)" font-size="4.7" fill="#1a1a1a" text-anchor="middle" dominant-baseline="middle" textLength="12" lengthAdjust="spacingAndGlyphs">Chr10</text>
<path d="M50.14,314.21L48.88,314.54" stroke="#888" stroke-width="0.3"/>
<text x="46.75" y="315.10" font-size="2.3" fill="#555" text-anchor="middle" dominant-baseline="middle" transform="rotate(75.5 46.75 315.10)">0</text>
<path d="M49.22,310.23L47.95,310.50" stroke="#888" stroke-width="0.3"/>
<text x="45.80" y="310.96" font-size="2.3" fill="#555" text-anchor="middle" dominant-baseline="middle" transform="rotate(78.3 45.80 310.96)">10</text>
<path d="M48.50,306.22L47.22,306.42" stroke="#888" stroke-width="0.3"/>
<text x="45.05" y="306.77" font-size="2.3" fill="#555" text-anchor="middle" dominant-baseline="middle" transform="rotate(81.1 45.05 306.77)">20</text>
<path d="M47.97,302.17L46.68,302.31" stroke="#888" stroke-width="0.3"/>
<text x="44.50" y="302.55" font-size="2.3" fill="#555" text-anchor="middle" dominant-baseline="middle" transform="rotate(83.8 44.50 302.55)">30</text>
<path d="M47.64,298.11L46.34,298.18" stroke="#888" stroke-width="0.3"/>
<text x="44.15" y="298.31" font-size="2.3" fill="#555" text-anchor="middle" dominant-baseline="middle" transform="rotate(86.6 44.15 298.31)">40</text>
<path d="M47.50,294.03L46.20,294.04" stroke="#888" stroke-width="0.3"/>
<text x="44.00" y="294.06" font-size="2.3" fill="#555" text-anchor="middle" dominant-baseline="middle" transform="rotate(89.4 44.00 294.06)">50</text>
<path d="M48.56,286.58L48.78,284.24L49.06,281.92L49.41,279.60L49.82,277.29L50.29,275.00L50.83,272.72L54.42,273.65L53.90,275.82L53.45,278.01L53.06,280.21L52.73,282.43L52.46,284.65L52.25,286.88Z" fill="#38c040"/>
<path d="M54.94,287.10L55.14,284.94L55.40,282.80L55.72,280.66L56.10,278.54L56.54,276.42L57.03,274.32L65.08,276.40L64.63,278.27L64.24,280.15L63.91,282.05L63.62,283.95L63.39,285.85L63.21,287.77Z" fill="#fff" stroke="#333" stroke-width="0.35"/>
<path d="M58.17,287.36L58.56,286.98L58.59,286.57L59.86,286.28L60.84,285.98L60.64,285.55L61.65,285.27L61.62,284.86L62.26,284.55L61.93,284.11L62.44,283.78L62.81,283.44L63.02,283.08L62.55,282.61L62.52,282.21L62.32,281.78L63.19,281.53L62.73,281.05L63.05,280.71L62.98,280.30L63.39,279.98L63.28,279.57L63.03,279.11L62.53,278.61L63.10,278.33L62.34,277.75L61.48,277.14L60.69,276.53L60.83,276.15L60.49,275.64L59.61,274.99" fill="none" stroke="#f01818" stroke-width="1.15"/>
<path d="M64.91,287.91L64.94,287.50L64.98,287.09L65.02,286.69L65.06,286.28L71.82,287.00L71.78,287.37L71.75,287.73L71.72,288.09L71.69,288.46Z" fill="rgb(244, 160, 168)"/>
<path d="M64.99,286.97L65.03,286.57L65.07,286.16L65.11,285.76L65.16,285.35L71.91,286.17L71.87,286.53L71.83,286.89L71.79,287.26L71.76,287.62Z" fill="rgb(198, 161, 182)"/>
<path d="M65.08,286.04L65.13,285.64L65.17,285.23L65.22,284.83L65.28,284.42L72.02,285.34L71.97,285.70L71.92,286.06L71.88,286.42L71.84,286.79Z" fill="rgb(163, 162, 193)"/>
<path d="M65.19,285.11L65.24,284.71L65.29,284.30L65.35,283.90L65.40,283.49L72.13,284.51L72.08,284.87L72.03,285.23L71.98,285.59L71.94,285.95Z" fill="rgb(130, 162, 203)"/>
<path d="M65.31,284.18L65.36,283.78L65.42,283.37L65.48,282.97L65.55,282.57L72.26,283.68L72.20,284.04L72.15,284.40L72.09,284.76L72.04,285.12Z" fill="rgb(94, 162, 214)"/>
<path d="M65.44,283.25L65.50,282.85L65.56,282.45L65.63,282.05L65.70,281.65L72.40,282.85L72.33,283.21L72.27,283.57L72.22,283.93L72.16,284.29Z" fill="rgb(81, 159, 215)"/>
<path d="M65.58,282.33L65.65,281.93L65.72,281.53L65.79,281.12L65.87,280.72L72.55,282.02L72.48,282.38L72.41,282.74L72.35,283.10L72.29,283.46Z" fill="rgb(101, 162, 212)"/>
<path d="M65.74,281.41L65.81,281.01L65.89,280.60L65.97,280.20L66.05,279.80L72.71,281.20L72.64,281.56L72.57,281.92L72.50,282.27L72.43,282.63Z" fill="rgb(87, 157, 211)"/>
<path d="M65.91,280.49L65.99,280.09L66.07,279.69L66.15,279.29L66.24,278.89L72.88,280.38L72.80,280.74L72.73,281.09L72.66,281.45L72.59,281.81Z" fill="rgb(121, 160, 204)"/>
<path d="M66.10,279.57L66.18,279.17L66.27,278.77L66.35,278.37L66.45,277.98L73.06,279.56L72.98,279.92L72.90,280.27L72.83,280.63L72.75,280.99Z" fill="rgb(157, 158, 191)"/>
<path d="M66.29,278.65L66.38,278.25L66.47,277.86L66.57,277.46L66.66,277.07L73.26,278.75L73.17,279.10L73.09,279.46L73.01,279.81L72.93,280.17Z" fill="rgb(202, 160, 180)"/>
<path d="M66.50,277.74L66.56,277.51L66.61,277.28L66.67,277.06L66.72,276.83L73.31,278.53L73.26,278.74L73.21,278.94L73.16,279.15L73.11,279.35Z" fill="rgb(244, 160, 168)"/>
<path d="M64.91,287.91L65.08,286.04L65.31,284.18L65.58,282.33L65.91,280.49L66.29,278.65L66.72,276.83L73.31,278.53L72.93,280.17L72.59,281.81L72.29,283.46L72.04,285.12L71.84,286.79L71.69,288.46Z" fill="none" stroke="#666" stroke-width="0.35"/>
<text x="76.73" y="284.21" transform="rotate(279.44 76.73 284.21)" font-size="4.7" fill="#1a1a1a" text-anchor="middle" dominant-baseline="middle" textLength="12" lengthAdjust="spacingAndGlyphs">Chr11</text>
<path d="M47.76,286.51L46.47,286.41" stroke="#888" stroke-width="0.3"/>
<text x="44.27" y="286.23" font-size="2.3" fill="#555" text-anchor="middle" dominant-baseline="middle" transform="rotate(94.6 44.27 286.23)">0</text>
<path d="M48.18,282.45L46.89,282.28" stroke="#888" stroke-width="0.3"/>
<text x="44.71" y="282.00" font-size="2.3" fill="#555" text-anchor="middle" dominant-baseline="middle" transform="rotate(97.4 44.71 282.00)">10</text>
<path d="M48.80,278.42L47.52,278.19" stroke="#888" stroke-width="0.3"/>
<text x="45.35" y="277.79" font-size="2.3" fill="#555" text-anchor="middle" dominant-baseline="middle" transform="rotate(100.2 45.35 277.79)">20</text>
<path d="M49.60,274.42L48.33,274.13" stroke="#888" stroke-width="0.3"/>
<text x="46.19" y="273.63" font-size="2.3" fill="#555" text-anchor="middle" dominant-baseline="middle" transform="rotate(103.0 46.19 273.63)">30</text>
<path d="M52.75,266.20L53.52,264.02L54.36,261.87L55.25,259.74L56.20,257.63L57.20,255.55L58.27,253.51L59.39,251.49L62.59,253.38L61.52,255.30L60.50,257.26L59.54,259.24L58.63,261.25L57.78,263.29L56.99,265.35L56.25,267.43Z" fill="#64c832"/>
<path d="M58.80,268.32L59.51,266.31L60.28,264.32L61.10,262.36L61.98,260.42L62.91,258.50L63.89,256.62L64.92,254.76L72.09,258.99L71.17,260.65L70.30,262.33L69.48,264.03L68.70,265.76L67.97,267.51L67.28,269.27L66.65,271.06Z" fill="#fff" stroke="#333" stroke-width="0.35"/>
<path d="M61.67,269.32L61.83,268.87L63.15,268.85L63.24,268.38L64.77,268.46L65.09,268.09L65.76,267.86L66.15,267.52L66.78,267.29L66.93,266.87L67.00,266.41L67.33,266.06L67.30,265.56L67.67,265.23L67.86,264.82L68.42,264.59L68.07,263.92L68.37,263.57L68.79,263.28L68.50,262.63L68.67,262.21L69.12,261.93L69.48,261.62L69.26,260.99L69.51,260.61L69.27,259.97L68.65,259.10L68.51,258.49L67.80,257.55L67.52,256.85L67.99,256.57" fill="none" stroke="#f01818" stroke-width="1.15"/>
<path d="M68.26,271.62L68.40,271.20L68.55,270.79L68.70,270.37L68.85,269.95L75.22,272.37L75.08,272.75L74.95,273.12L74.82,273.49L74.69,273.87Z" fill="rgb(243, 159, 168)"/>
<path d="M68.61,270.60L68.76,270.19L68.92,269.77L69.07,269.36L69.23,268.95L75.56,271.47L75.42,271.84L75.28,272.21L75.14,272.58L75.00,272.96Z" fill="rgb(215, 160, 176)"/>
<path d="M68.98,269.59L69.14,269.18L69.30,268.77L69.46,268.35L69.63,267.94L75.91,270.57L75.77,270.94L75.62,271.31L75.48,271.68L75.34,272.05Z" fill="rgb(160, 157, 190)"/>
<path d="M69.37,268.59L69.53,268.18L69.70,267.77L69.87,267.36L70.04,266.95L76.28,269.68L76.13,270.05L75.98,270.41L75.83,270.78L75.68,271.15Z" fill="rgb(122, 159, 202)"/>
<path d="M69.77,267.59L69.94,267.18L70.12,266.77L70.29,266.37L70.47,265.96L76.67,268.80L76.51,269.16L76.35,269.52L76.20,269.89L76.04,270.26Z" fill="rgb(106, 157, 205)"/>
<path d="M70.19,266.60L70.37,266.19L70.55,265.79L70.73,265.38L70.91,264.98L77.07,267.92L76.90,268.28L76.74,268.64L76.58,269.00L76.42,269.37Z" fill="rgb(104, 164, 213)"/>
<path d="M70.63,265.61L70.81,265.21L71.00,264.81L71.18,264.41L71.37,264.01L77.48,267.05L77.31,267.41L77.14,267.76L76.97,268.12L76.81,268.48Z" fill="rgb(98, 162, 213)"/>
<path d="M71.08,264.63L71.27,264.23L71.46,263.84L71.65,263.44L71.85,263.04L77.91,266.18L77.73,266.54L77.55,266.89L77.38,267.25L77.21,267.61Z" fill="rgb(98, 164, 215)"/>
<path d="M71.54,263.66L71.74,263.27L71.94,262.87L72.14,262.48L72.34,262.09L78.35,265.33L78.16,265.68L77.98,266.03L77.81,266.38L77.63,266.74Z" fill="rgb(128, 163, 205)"/>
<path d="M72.02,262.70L72.23,262.31L72.43,261.92L72.64,261.53L72.85,261.14L78.80,264.48L78.61,264.82L78.43,265.17L78.24,265.52L78.06,265.88Z" fill="rgb(171, 158, 187)"/>
<path d="M72.52,261.75L72.73,261.36L72.94,260.97L73.16,260.58L73.37,260.20L79.27,263.63L79.07,263.98L78.88,264.32L78.69,264.67L78.51,265.02Z" fill="rgb(216, 160, 176)"/>
<path d="M73.03,260.80L73.16,260.56L73.30,260.33L73.43,260.10L73.56,259.86L79.44,263.33L79.32,263.54L79.20,263.75L79.08,263.96L78.97,264.17Z" fill="rgb(228, 159, 172)"/>
<path d="M68.26,271.62L68.87,269.88L69.54,268.16L70.25,266.45L71.01,264.77L71.82,263.11L72.67,261.47L73.56,259.86L79.44,263.33L78.64,264.78L77.88,266.24L77.15,267.73L76.47,269.24L75.84,270.77L75.24,272.31L74.69,273.87Z" fill="none" stroke="#666" stroke-width="0.35"/>
<text x="80.90" y="270.38" transform="rotate(294.60 80.90 270.38)" font-size="4.7" fill="#1a1a1a" text-anchor="middle" dominant-baseline="middle" textLength="12" lengthAdjust="spacingAndGlyphs">Chr12</text>
<path d="M51.99,265.94L50.77,265.51" stroke="#888" stroke-width="0.3"/>
<text x="48.69" y="264.78" font-size="2.3" fill="#555" text-anchor="middle" dominant-baseline="middle" transform="rotate(109.0 48.69 264.78)">0</text>
<path d="M53.40,262.11L52.19,261.62" stroke="#888" stroke-width="0.3"/>
<text x="50.15" y="260.79" font-size="2.3" fill="#555" text-anchor="middle" dominant-baseline="middle" transform="rotate(111.8 50.15 260.79)">10</text>
<path d="M54.98,258.36L53.80,257.81" stroke="#888" stroke-width="0.3"/>
<text x="51.80" y="256.88" font-size="2.3" fill="#555" text-anchor="middle" dominant-baseline="middle" transform="rotate(114.6 51.80 256.88)">20</text>
<path d="M56.74,254.69L55.59,254.09" stroke="#888" stroke-width="0.3"/>
<text x="53.63" y="253.06" font-size="2.3" fill="#555" text-anchor="middle" dominant-baseline="middle" transform="rotate(117.4 53.63 253.06)">30</text>
<path d="M58.68,251.12L57.55,250.45" stroke="#888" stroke-width="0.3"/>
<text x="55.65" y="249.33" font-size="2.3" fill="#555" text-anchor="middle" dominant-baseline="middle" transform="rotate(120.2 55.65 249.33)">40</text>
<path d="M62.99,245.76L64.28,243.93L65.62,242.15L67.00,240.40L68.43,238.69L69.91,237.02L71.43,235.39L72.99,233.80L74.59,232.26L77.10,235.02L75.57,236.49L74.08,238.01L72.63,239.56L71.22,241.16L69.85,242.79L68.53,244.46L67.26,246.17L66.03,247.91Z" fill="#94d424"/>
<path d="M68.24,249.47L69.43,247.79L70.66,246.15L71.94,244.54L73.25,242.96L74.61,241.42L76.01,239.92L77.45,238.46L78.93,237.03L84.56,243.22L83.25,244.49L81.96,245.79L80.72,247.13L79.51,248.50L78.34,249.90L77.20,251.33L76.11,252.80L75.05,254.29Z" fill="#fff" stroke="#333" stroke-width="0.35"/>
<path d="M70.57,251.12L71.52,251.15L71.65,250.60L73.03,250.98L73.50,250.69L74.86,251.08L75.27,250.76L75.49,250.30L76.50,250.46L76.84,250.10L76.99,249.59L77.46,249.33L78.00,249.14L78.21,248.66L78.54,248.30L78.28,247.41L78.80,247.20L78.96,246.68L79.83,246.80L79.70,246.01L80.51,246.09L80.52,245.41L80.71,244.91L81.12,244.61L80.88,243.66L81.11,243.18L81.00,242.33L80.63,241.20L81.04,240.89L80.45,239.48L80.95,239.25" fill="none" stroke="#f01818" stroke-width="1.15"/>
<path d="M76.44,255.28L76.71,254.89L76.98,254.51L77.25,254.13L77.53,253.75L82.99,257.86L82.75,258.20L82.50,258.54L82.26,258.88L82.02,259.23Z" fill="rgb(237, 160, 170)"/>
<path d="M77.13,254.31L77.40,253.92L77.68,253.55L77.96,253.17L78.24,252.79L83.63,257.00L83.38,257.34L83.13,257.67L82.88,258.01L82.63,258.36Z" fill="rgb(204, 161, 180)"/>
<path d="M77.82,253.34L78.11,252.97L78.39,252.59L78.68,252.22L78.97,251.85L84.28,256.16L84.02,256.49L83.76,256.82L83.51,257.16L83.26,257.50Z" fill="rgb(164, 159, 190)"/>
<path d="M78.54,252.40L78.83,252.03L79.12,251.66L79.41,251.29L79.71,250.92L84.95,255.33L84.68,255.65L84.42,255.98L84.16,256.31L83.90,256.65Z" fill="rgb(130, 159, 201)"/>
<path d="M79.27,251.46L79.57,251.10L79.87,250.73L80.17,250.37L80.47,250.01L85.63,254.51L85.35,254.83L85.09,255.15L84.82,255.48L84.56,255.81Z" fill="rgb(94, 162, 214)"/>
<path d="M80.02,250.54L80.33,250.18L80.63,249.82L80.93,249.46L81.24,249.11L86.32,253.70L86.04,254.02L85.77,254.34L85.50,254.66L85.23,254.98Z" fill="rgb(87, 163, 217)"/>
<path d="M80.79,249.63L81.10,249.28L81.41,248.92L81.72,248.57L82.03,248.23L87.03,252.91L86.75,253.22L86.47,253.53L86.19,253.85L85.91,254.17Z" fill="rgb(84, 161, 216)"/>
<path d="M81.57,248.74L81.89,248.39L82.20,248.04L82.52,247.70L82.84,247.36L87.75,252.13L87.46,252.44L87.18,252.74L86.90,253.06L86.62,253.37Z" fill="rgb(113, 160, 207)"/>
<path d="M82.37,247.86L82.69,247.52L83.01,247.17L83.34,246.84L83.66,246.50L88.49,251.36L88.20,251.66L87.90,251.97L87.62,252.27L87.33,252.58Z" fill="rgb(126, 158, 201)"/>
<path d="M83.18,246.99L83.51,246.66L83.84,246.32L84.17,245.99L84.50,245.66L89.24,250.61L88.94,250.91L88.64,251.20L88.35,251.50L88.06,251.81Z" fill="rgb(146, 157, 194)"/>
<path d="M84.01,246.15L84.34,245.81L84.68,245.48L85.01,245.16L85.35,244.83L90.00,249.87L89.70,250.16L89.40,250.45L89.10,250.75L88.80,251.05Z" fill="rgb(199, 160, 181)"/>
<path d="M84.86,245.31L85.07,245.10L85.28,244.90L85.50,244.70L85.71,244.49L90.33,249.56L90.13,249.75L89.94,249.93L89.75,250.11L89.56,250.30Z" fill="rgb(237, 160, 169)"/>
<path d="M76.44,255.28L77.47,253.82L78.54,252.40L79.65,251.00L80.79,249.63L81.97,248.30L83.18,246.99L84.43,245.73L85.71,244.49L90.33,249.56L89.18,250.67L88.06,251.81L86.97,252.97L85.91,254.17L84.89,255.39L83.90,256.65L82.94,257.92L82.02,259.23Z" fill="none" stroke="#666" stroke-width="0.35"/>
<text x="89.31" y="257.17" transform="rotate(311.10 89.31 257.17)" font-size="4.7" fill="#1a1a1a" text-anchor="middle" dominant-baseline="middle" textLength="12" lengthAdjust="spacingAndGlyphs">Chr13</text>
<path d="M62.34,245.29L61.27,244.54" stroke="#888" stroke-width="0.3"/>
<text x="59.47" y="243.26" font-size="2.3" fill="#555" text-anchor="middle" dominant-baseline="middle" transform="rotate(124.9 59.47 243.26)">0</text>
<path d="M64.72,242.00L63.69,241.20" stroke="#888" stroke-width="0.3"/>
<text x="61.95" y="239.83" font-size="2.3" fill="#555" text-anchor="middle" dominant-baseline="middle" transform="rotate(127.7 61.95 239.83)">10</text>
<path d="M67.25,238.84L66.26,237.98" stroke="#888" stroke-width="0.3"/>
<text x="64.59" y="236.53" font-size="2.3" fill="#555" text-anchor="middle" dominant-baseline="middle" transform="rotate(130.5 64.59 236.53)">20</text>
<path d="M69.93,235.80L68.99,234.89" stroke="#888" stroke-width="0.3"/>
<text x="67.39" y="233.36" font-size="2.3" fill="#555" text-anchor="middle" dominant-baseline="middle" transform="rotate(133.3 67.39 233.36)">30</text>
<path d="M72.76,232.89L71.86,231.94" stroke="#888" stroke-width="0.3"/>
<text x="70.33" y="230.34" font-size="2.3" fill="#555" text-anchor="middle" dominant-baseline="middle" transform="rotate(136.1 70.33 230.34)">40</text>
<path d="M79.70,227.86L81.45,226.51L83.23,225.20L85.05,223.95L86.91,222.75L88.79,221.60L90.70,220.50L92.65,219.45L94.61,218.46L96.61,217.52L98.12,220.94L96.22,221.84L94.34,222.79L92.48,223.79L90.66,224.84L88.86,225.94L87.09,227.09L85.35,228.28L83.65,229.53L81.98,230.82Z" fill="#b8e01e"/>
<path d="M83.64,232.98L85.25,231.73L86.90,230.53L88.57,229.38L90.28,228.27L92.02,227.21L93.78,226.19L95.57,225.23L97.39,224.31L99.22,223.45L102.62,231.13L100.98,231.90L99.37,232.72L97.77,233.58L96.20,234.48L94.66,235.42L93.14,236.41L91.65,237.44L90.18,238.51L88.75,239.61Z" fill="#fff" stroke="#333" stroke-width="0.35"/>
<path d="M85.30,235.14L86.35,235.54L87.07,235.53L87.70,235.42L88.98,236.21L89.82,236.43L90.35,236.21L91.13,236.36L91.55,235.99L92.13,235.87L92.42,235.30L92.89,235.00L93.56,235.04L93.81,234.38L94.35,234.22L95.00,234.22L95.06,233.24L95.89,233.56L96.41,233.36L96.91,233.13L97.12,232.36L97.47,231.85L97.96,231.57L98.54,231.49L98.95,231.07L99.34,230.60L99.27,229.18L99.50,228.32L99.80,227.61L99.98,226.60L100.51,226.37" fill="none" stroke="#f01818" stroke-width="1.15"/>
<path d="M89.79,240.97L90.19,240.66L90.59,240.35L90.99,240.05L91.39,239.75L95.41,245.31L95.05,245.58L94.69,245.86L94.34,246.13L93.98,246.41Z" fill="rgb(244, 160, 168)"/>
<path d="M90.84,240.16L91.24,239.86L91.65,239.56L92.05,239.26L92.46,238.97L96.37,244.61L96.01,244.88L95.64,245.14L95.28,245.41L94.92,245.68Z" fill="rgb(203, 161, 180)"/>
<path d="M91.90,239.37L92.31,239.07L92.72,238.78L93.13,238.49L93.55,238.21L97.34,243.93L96.97,244.19L96.60,244.45L96.24,244.71L95.87,244.97Z" fill="rgb(151, 160, 195)"/>
<path d="M92.98,238.60L93.40,238.31L93.81,238.03L94.23,237.75L94.65,237.47L98.33,243.28L97.95,243.52L97.58,243.77L97.21,244.03L96.84,244.28Z" fill="rgb(118, 158, 203)"/>
<path d="M94.08,237.85L94.50,237.57L94.92,237.30L95.34,237.03L95.76,236.76L99.33,242.64L98.95,242.88L98.57,243.12L98.19,243.37L97.82,243.62Z" fill="rgb(92, 162, 215)"/>
<path d="M95.18,237.13L95.61,236.86L96.04,236.59L96.46,236.33L96.89,236.07L100.34,242.02L99.96,242.25L99.57,242.49L99.19,242.72L98.81,242.97Z" fill="rgb(83, 160, 215)"/>
<path d="M96.31,236.42L96.74,236.16L97.17,235.91L97.60,235.65L98.04,235.40L101.37,241.42L100.98,241.65L100.59,241.87L100.20,242.10L99.82,242.34Z" fill="rgb(94, 156, 208)"/>
<path d="M97.44,235.75L97.88,235.49L98.31,235.25L98.75,235.00L99.19,234.76L102.40,240.85L102.01,241.06L101.61,241.28L101.22,241.50L100.83,241.73Z" fill="rgb(93, 161, 213)"/>
<path d="M98.59,235.09L99.03,234.85L99.47,234.61L99.92,234.37L100.36,234.14L103.45,240.29L103.05,240.50L102.65,240.71L102.26,240.92L101.86,241.14Z" fill="rgb(125, 161, 203)"/>
<path d="M99.75,234.46L100.20,234.23L100.64,234.00L101.09,233.77L101.54,233.55L104.51,239.76L104.10,239.96L103.70,240.16L103.30,240.37L102.90,240.58Z" fill="rgb(169, 158, 188)"/>
<path d="M100.93,233.85L101.38,233.63L101.83,233.41L102.28,233.19L102.73,232.97L105.57,239.25L105.17,239.44L104.76,239.63L104.36,239.83L103.96,240.03Z" fill="rgb(202, 159, 179)"/>
<path d="M102.11,233.27L102.41,233.13L102.71,232.99L103.01,232.85L103.31,232.71L106.09,239.01L105.82,239.13L105.55,239.26L105.29,239.38L105.02,239.51Z" fill="rgb(228, 160, 172)"/>
<path d="M89.79,240.97L91.19,239.89L92.62,238.85L94.08,237.85L95.56,236.89L97.06,235.97L98.59,235.09L100.14,234.25L101.72,233.46L103.31,232.71L106.09,239.01L104.66,239.68L103.25,240.39L101.86,241.14L100.49,241.93L99.14,242.75L97.82,243.62L96.51,244.51L95.24,245.44L93.98,246.41Z" fill="none" stroke="#666" stroke-width="0.35"/>
<text x="102.14" y="246.25" transform="rotate(328.94 102.14 246.25)" font-size="4.7" fill="#1a1a1a" text-anchor="middle" dominant-baseline="middle" textLength="12" lengthAdjust="spacingAndGlyphs">Chr14</text>
<path d="M79.20,227.22L78.40,226.18" stroke="#888" stroke-width="0.3"/>
<text x="77.05" y="224.42" font-size="2.3" fill="#555" text-anchor="middle" dominant-baseline="middle" transform="rotate(142.0 77.05 224.42)">0</text>
<path d="M82.43,224.78L81.68,223.70" stroke="#888" stroke-width="0.3"/>
<text x="80.41" y="221.88" font-size="2.3" fill="#555" text-anchor="middle" dominant-baseline="middle" transform="rotate(144.8 80.41 221.88)">10</text>
<path d="M85.77,222.51L85.08,221.40" stroke="#888" stroke-width="0.3"/>
<text x="83.90" y="219.51" font-size="2.3" fill="#555" text-anchor="middle" dominant-baseline="middle" transform="rotate(147.6 83.90 219.51)">20</text>
<path d="M89.22,220.41L88.58,219.26" stroke="#888" stroke-width="0.3"/>
<text x="87.49" y="217.32" font-size="2.3" fill="#555" text-anchor="middle" dominant-baseline="middle" transform="rotate(150.4 87.49 217.32)">30</text>
<path d="M92.76,218.48L92.17,217.30" stroke="#888" stroke-width="0.3"/>
<text x="91.18" y="215.31" font-size="2.3" fill="#555" text-anchor="middle" dominant-baseline="middle" transform="rotate(153.2 91.18 215.31)">40</text>
<path d="M102.83,214.99L105.00,214.25L107.19,213.57L109.40,212.95L111.63,212.40L113.87,211.91L116.12,211.48L118.39,211.12L120.66,210.82L122.94,210.58L123.26,214.33L121.08,214.55L118.91,214.83L116.75,215.18L114.60,215.59L112.46,216.06L110.34,216.59L108.23,217.18L106.14,217.83L104.06,218.54Z" fill="#dfe016"/>
<path d="M104.96,221.12L106.96,220.44L108.98,219.81L111.02,219.24L113.07,218.73L115.13,218.27L117.21,217.88L119.30,217.55L121.39,217.27L123.49,217.06L124.21,225.45L122.34,225.64L120.48,225.89L118.62,226.18L116.77,226.53L114.94,226.94L113.11,227.39L111.30,227.90L109.50,228.46L107.72,229.07Z" fill="#fff" stroke="#333" stroke-width="0.35"/>
<path d="M105.90,223.82L106.56,223.86L107.52,224.85L108.05,224.55L108.88,225.18L109.72,225.91L110.33,225.94L111.06,226.37L111.73,226.62L112.34,226.68L112.87,226.45L113.47,226.51L113.96,226.09L114.42,225.55L115.00,225.47L115.53,225.20L116.12,225.21L116.77,225.53L117.28,225.13L117.86,225.14L118.36,224.67L118.97,224.79L119.56,224.86L120.04,224.21L120.53,223.48L121.14,223.66L121.56,222.26L122.16,222.31L122.65,221.27L123.20,220.71L123.74,219.94" fill="none" stroke="#f01818" stroke-width="1.15"/>
<path d="M108.28,230.69L108.77,230.52L109.26,230.35L109.75,230.19L110.24,230.03L112.29,236.61L111.86,236.75L111.42,236.90L110.98,237.05L110.55,237.20Z" fill="rgb(244, 160, 168)"/>
<path d="M109.59,230.24L110.07,230.08L110.56,229.92L111.06,229.77L111.55,229.62L113.47,236.24L113.03,236.38L112.59,236.51L112.15,236.65L111.71,236.80Z" fill="rgb(205, 160, 180)"/>
<path d="M110.89,229.82L111.39,229.67L111.88,229.52L112.38,229.38L112.87,229.24L114.66,235.90L114.21,236.03L113.77,236.15L113.33,236.29L112.88,236.42Z" fill="rgb(156, 158, 192)"/>
<path d="M112.21,229.43L112.71,229.29L113.20,229.15L113.70,229.02L114.20,228.89L115.85,235.59L115.40,235.70L114.95,235.82L114.51,235.94L114.06,236.07Z" fill="rgb(135, 160, 200)"/>
<path d="M113.54,229.06L114.04,228.93L114.54,228.81L115.04,228.68L115.54,228.57L117.04,235.30L116.59,235.40L116.15,235.51L115.70,235.62L115.25,235.74Z" fill="rgb(106, 161, 209)"/>
<path d="M114.87,228.72L115.37,228.60L115.87,228.49L116.38,228.38L116.88,228.27L118.25,235.03L117.80,235.13L117.35,235.23L116.90,235.33L116.45,235.44Z" fill="rgb(100, 159, 210)"/>
<path d="M116.21,228.42L116.71,228.31L117.22,228.20L117.72,228.10L118.23,228.01L119.45,234.80L119.00,234.88L118.55,234.97L118.10,235.06L117.65,235.16Z" fill="rgb(99, 161, 212)"/>
<path d="M117.56,228.13L118.06,228.04L118.57,227.94L119.08,227.85L119.58,227.77L120.67,234.58L120.21,234.66L119.76,234.74L119.31,234.82L118.85,234.91Z" fill="rgb(107, 159, 207)"/>
<path d="M118.91,227.88L119.42,227.80L119.92,227.71L120.43,227.64L120.94,227.56L121.88,234.40L121.43,234.46L120.97,234.53L120.52,234.61L120.06,234.69Z" fill="rgb(130, 160, 201)"/>
<path d="M120.26,227.66L120.77,227.59L121.28,227.51L121.79,227.45L122.30,227.38L123.11,234.24L122.65,234.29L122.19,234.35L121.73,234.42L121.28,234.49Z" fill="rgb(155, 158, 192)"/>
<path d="M121.63,227.47L122.14,227.40L122.65,227.34L123.16,227.29L123.67,227.23L124.33,234.10L123.87,234.15L123.41,234.20L122.95,234.25L122.50,234.31Z" fill="rgb(210, 159, 177)"/>
<path d="M122.99,227.30L123.33,227.27L123.67,227.23L124.01,227.20L124.36,227.17L124.94,234.04L124.64,234.07L124.33,234.10L124.03,234.13L123.72,234.17Z" fill="rgb(244, 160, 168)"/>
<path d="M108.28,230.69L110.02,230.10L111.77,229.56L113.54,229.06L115.32,228.62L117.11,228.23L118.91,227.88L120.72,227.59L122.53,227.36L124.36,227.17L124.94,234.04L123.31,234.21L121.68,234.43L120.06,234.69L118.45,234.99L116.85,235.34L115.25,235.74L113.67,236.18L112.10,236.67L110.55,237.20Z" fill="none" stroke="#666" stroke-width="0.35"/>
<text x="118.60" y="239.63" transform="rotate(347.81 118.60 239.63)" font-size="4.7" fill="#1a1a1a" text-anchor="middle" dominant-baseline="middle" textLength="12" lengthAdjust="spacingAndGlyphs">Chr15</text>
<path d="M102.57,214.23L102.13,212.98" stroke="#888" stroke-width="0.3"/>
<text x="101.40" y="210.88" font-size="2.3" fill="#555" text-anchor="middle" dominant-baseline="middle" transform="rotate(160.6 101.40 210.88)">0</text>
<path d="M106.39,212.97L106.02,211.70" stroke="#888" stroke-width="0.3"/>
<text x="105.39" y="209.56" font-size="2.3" fill="#555" text-anchor="middle" dominant-baseline="middle" transform="rotate(163.4 105.39 209.56)">10</text>
<path d="M110.27,211.89L109.96,210.61" stroke="#888" stroke-width="0.3"/>
<text x="109.43" y="208.44" font-size="2.3" fill="#555" text-anchor="middle" dominant-baseline="middle" transform="rotate(166.2 109.43 208.44)">20</text>
<path d="M114.19,211.01L113.95,209.72" stroke="#888" stroke-width="0.3"/>
<text x="113.52" y="207.53" font-size="2.3" fill="#555" text-anchor="middle" dominant-baseline="middle" transform="rotate(169.0 113.52 207.53)">30</text>
<path d="M118.16,210.33L117.97,209.02" stroke="#888" stroke-width="0.3"/>
<text x="117.66" y="206.81" font-size="2.3" fill="#555" text-anchor="middle" dominant-baseline="middle" transform="rotate(171.7 117.66 206.81)">40</text>
<path d="M122.15,209.84L122.03,208.53" stroke="#888" stroke-width="0.3"/>
<text x="121.82" y="206.31" font-size="2.3" fill="#555" text-anchor="middle" dominant-baseline="middle" transform="rotate(174.5 121.82 206.31)">50</text>
<path d="M129.63,210.28L131.79,210.29L133.94,210.37L136.10,210.51L138.24,210.70L140.39,210.95L142.52,211.25L144.65,211.62L143.98,215.31L141.95,214.97L139.91,214.67L137.87,214.43L135.82,214.25L133.76,214.12L131.71,214.05L129.65,214.03Z" fill="#f0d812"/>
<path d="M129.66,216.77L131.65,216.79L133.63,216.86L135.62,216.98L137.60,217.16L139.57,217.39L141.54,217.67L143.50,218.01L142.01,226.30L140.27,226.00L138.52,225.75L136.76,225.54L135.00,225.38L133.23,225.27L131.47,225.21L129.70,225.20Z" fill="#fff" stroke="#333" stroke-width="0.35"/>
<path d="M129.68,220.40L130.12,220.51L130.56,220.21L130.99,221.54L131.40,222.51L131.81,223.30L132.22,223.79L132.65,223.47L133.07,223.74L133.49,223.79L133.91,223.82L134.28,224.54L134.74,224.05L135.14,224.31L135.59,223.89L136.01,223.92L136.44,223.89L136.78,224.76L137.28,223.99L137.70,223.99L138.13,223.99L138.45,224.84L138.89,224.70L139.32,224.66L139.77,224.47L140.38,223.23L140.90,222.68L141.42,222.18L142.00,221.34L142.49,221.09L142.90,221.32" fill="none" stroke="#f01818" stroke-width="1.15"/>
<path d="M129.71,226.92L130.13,226.92L130.55,226.92L130.97,226.93L131.40,226.94L131.25,233.84L130.87,233.83L130.49,233.82L130.12,233.82L129.74,233.82Z" fill="rgb(228, 159, 172)"/>
<path d="M130.71,226.92L131.13,226.93L131.56,226.94L131.98,226.95L132.40,226.97L132.15,233.86L131.77,233.85L131.39,233.84L131.02,233.83L130.64,233.83Z" fill="rgb(214, 159, 176)"/>
<path d="M131.72,226.94L132.14,226.96L132.56,226.97L132.98,226.99L133.40,227.01L133.05,233.90L132.67,233.88L132.29,233.87L131.92,233.85L131.54,233.84Z" fill="rgb(157, 159, 192)"/>
<path d="M132.72,226.98L133.14,227.00L133.57,227.02L133.99,227.04L134.41,227.07L133.95,233.96L133.57,233.93L133.19,233.91L132.82,233.89L132.44,233.87Z" fill="rgb(108, 158, 205)"/>
<path d="M133.73,227.03L134.15,227.05L134.57,227.08L134.99,227.11L135.41,227.15L134.85,234.03L134.47,234.00L134.09,233.97L133.72,233.94L133.34,233.92Z" fill="rgb(96, 162, 213)"/>
<path d="M134.73,227.09L135.15,227.13L135.57,227.16L135.99,227.20L136.41,227.24L135.74,234.11L135.37,234.07L134.99,234.04L134.61,234.01L134.24,233.98Z" fill="rgb(82, 158, 213)"/>
<path d="M135.73,227.18L136.15,227.22L136.57,227.26L136.99,227.30L137.41,227.35L136.64,234.21L136.26,234.16L135.89,234.12L135.51,234.09L135.13,234.05Z" fill="rgb(100, 160, 210)"/>
<path d="M136.73,227.27L137.15,227.32L137.57,227.37L137.99,227.42L138.41,227.47L137.53,234.32L137.16,234.27L136.78,234.22L136.41,234.18L136.03,234.14Z" fill="rgb(110, 160, 208)"/>
<path d="M137.73,227.39L138.15,227.44L138.57,227.49L138.99,227.55L139.40,227.61L138.43,234.44L138.05,234.39L137.68,234.34L137.30,234.29L136.93,234.24Z" fill="rgb(110, 159, 206)"/>
<path d="M138.73,227.52L139.15,227.57L139.56,227.64L139.98,227.70L140.40,227.77L139.32,234.58L138.94,234.52L138.57,234.46L138.19,234.41L137.82,234.36Z" fill="rgb(163, 161, 192)"/>
<path d="M139.72,227.66L140.14,227.72L140.56,227.79L140.97,227.86L141.39,227.94L140.20,234.73L139.83,234.67L139.46,234.60L139.08,234.54L138.71,234.48Z" fill="rgb(205, 160, 179)"/>
<path d="M140.72,227.82L140.96,227.86L141.21,227.90L141.46,227.95L141.71,227.99L140.49,234.78L140.27,234.74L140.04,234.70L139.82,234.67L139.60,234.63Z" fill="rgb(240, 159, 168)"/>
<path d="M129.71,226.92L131.43,226.94L133.15,227.00L134.87,227.11L136.59,227.26L138.30,227.46L140.01,227.70L141.71,227.99L140.49,234.78L138.96,234.52L137.44,234.30L135.90,234.13L134.36,233.99L132.82,233.89L131.28,233.84L129.74,233.82Z" fill="none" stroke="#666" stroke-width="0.35"/>
<text x="134.74" y="238.60" transform="rotate(365.03 134.74 238.60)" font-size="4.7" fill="#1a1a1a" text-anchor="middle" dominant-baseline="middle" textLength="12" lengthAdjust="spacingAndGlyphs">Chr16</text>
<path d="M129.63,209.46L129.62,208.14" stroke="#888" stroke-width="0.3"/>
<text x="129.61" y="205.91" font-size="2.3" fill="#555" text-anchor="middle" dominant-baseline="middle" transform="rotate(179.7 129.61 205.91)">0</text>
<path d="M133.65,209.54L133.71,208.23" stroke="#888" stroke-width="0.3"/>
<text x="133.80" y="206.00" font-size="2.3" fill="#555" text-anchor="middle" dominant-baseline="middle" transform="rotate(362.5 133.80 206.00)">10</text>
<path d="M137.66,209.82L137.78,208.51" stroke="#888" stroke-width="0.3"/>
<text x="137.99" y="206.29" font-size="2.3" fill="#555" text-anchor="middle" dominant-baseline="middle" transform="rotate(365.3 137.99 206.29)">20</text>
<path d="M141.65,210.30L141.84,209.00" stroke="#888" stroke-width="0.3"/>
<text x="142.15" y="206.79" font-size="2.3" fill="#555" text-anchor="middle" dominant-baseline="middle" transform="rotate(368.1 142.15 206.79)">30</text>
<path d="M151.18,213.11L153.46,213.77L155.72,214.49L157.95,215.28L160.16,216.13L162.35,217.05L164.51,218.03L166.64,219.08L164.98,222.44L162.95,221.44L160.88,220.50L158.80,219.62L156.68,218.81L154.55,218.05L152.40,217.36L150.22,216.74Z" fill="#f2b81c"/>
<path d="M149.52,219.38L151.62,219.99L153.70,220.66L155.76,221.38L157.80,222.17L159.81,223.02L161.80,223.92L163.77,224.89L160.05,232.42L158.30,231.56L156.53,230.75L154.74,230.00L152.92,229.30L151.09,228.65L149.24,228.06L147.37,227.52Z" fill="#fff" stroke="#333" stroke-width="0.35"/>
<path d="M148.81,222.07L149.03,223.14L149.55,223.07L149.64,224.54L149.83,225.57L150.15,226.15L150.62,226.22L151.03,226.46L151.11,227.73L151.67,227.50L152.10,227.69L152.63,227.57L152.86,228.32L153.39,228.18L153.77,228.48L154.38,228.19L154.60,228.90L155.28,228.42L155.47,229.22L155.87,229.45L156.49,229.16L156.85,229.49L157.16,229.95L157.87,229.47L158.19,229.88L159.11,228.98L159.78,228.66L160.57,228.10L161.25,227.80L161.79,227.79L162.33,227.79" fill="none" stroke="#f01818" stroke-width="1.15"/>
<path d="M146.93,229.19L147.36,229.31L147.79,229.43L148.22,229.55L148.65,229.68L146.71,236.30L146.32,236.18L145.94,236.07L145.55,235.96L145.17,235.85Z" fill="rgb(237, 160, 170)"/>
<path d="M147.99,229.49L148.42,229.61L148.85,229.74L149.28,229.87L149.70,230.01L147.65,236.59L147.27,236.47L146.89,236.35L146.50,236.23L146.12,236.12Z" fill="rgb(199, 161, 182)"/>
<path d="M149.05,229.80L149.48,229.94L149.90,230.07L150.33,230.21L150.75,230.36L148.59,236.90L148.21,236.77L147.83,236.65L147.45,236.53L147.07,236.41Z" fill="rgb(148, 158, 194)"/>
<path d="M150.10,230.14L150.53,230.28L150.95,230.43L151.38,230.57L151.80,230.72L149.53,237.23L149.15,237.09L148.77,236.96L148.39,236.83L148.01,236.71Z" fill="rgb(122, 163, 206)"/>
<path d="M151.15,230.49L151.57,230.64L151.99,230.79L152.41,230.95L152.83,231.10L150.46,237.57L150.08,237.43L149.70,237.29L149.33,237.16L148.95,237.02Z" fill="rgb(97, 158, 209)"/>
<path d="M152.19,230.87L152.61,231.02L153.03,231.18L153.45,231.34L153.86,231.51L151.38,237.93L151.01,237.78L150.63,237.64L150.26,237.50L149.88,237.36Z" fill="rgb(94, 157, 209)"/>
<path d="M153.23,231.25L153.64,231.42L154.06,231.58L154.47,231.75L154.89,231.92L152.30,238.30L151.93,238.15L151.55,238.00L151.18,237.85L150.81,237.71Z" fill="rgb(87, 160, 214)"/>
<path d="M154.25,231.66L154.67,231.83L155.08,232.00L155.49,232.18L155.90,232.36L153.21,238.69L152.84,238.53L152.47,238.38L152.10,238.22L151.73,238.07Z" fill="rgb(109, 162, 209)"/>
<path d="M155.28,232.09L155.69,232.26L156.10,232.44L156.51,232.63L156.91,232.81L154.11,239.10L153.75,238.93L153.38,238.77L153.01,238.61L152.64,238.45Z" fill="rgb(126, 158, 201)"/>
<path d="M156.29,232.53L156.70,232.71L157.10,232.90L157.51,233.09L157.91,233.28L155.01,239.52L154.65,239.35L154.28,239.18L153.92,239.01L153.55,238.85Z" fill="rgb(155, 158, 192)"/>
<path d="M157.29,232.99L157.70,233.18L158.10,233.37L158.51,233.57L158.91,233.77L155.90,239.96L155.54,239.78L155.18,239.60L154.82,239.43L154.45,239.26Z" fill="rgb(217, 160, 176)"/>
<path d="M158.29,233.47L158.54,233.59L158.79,233.71L159.04,233.83L159.28,233.96L156.23,240.13L156.01,240.02L155.79,239.90L155.57,239.79L155.35,239.69Z" fill="rgb(244, 160, 168)"/>
<path d="M146.93,229.19L148.75,229.71L150.55,230.29L152.34,230.92L154.11,231.60L155.86,232.34L157.58,233.12L159.28,233.96L156.23,240.13L154.71,239.38L153.16,238.68L151.60,238.02L150.01,237.41L148.41,236.84L146.80,236.32L145.17,235.85Z" fill="none" stroke="#666" stroke-width="0.35"/>
<text x="149.21" y="241.97" transform="rotate(380.84 149.21 241.97)" font-size="4.7" fill="#1a1a1a" text-anchor="middle" dominant-baseline="middle" textLength="12" lengthAdjust="spacingAndGlyphs">Chr17</text>
<path d="M151.39,212.33L151.73,211.05" stroke="#888" stroke-width="0.3"/>
<text x="152.30" y="208.89" font-size="2.3" fill="#555" text-anchor="middle" dominant-baseline="middle" transform="rotate(375.0 152.30 208.89)">0</text>
<path d="M155.25,213.48L155.64,212.22" stroke="#888" stroke-width="0.3"/>
<text x="156.32" y="210.10" font-size="2.3" fill="#555" text-anchor="middle" dominant-baseline="middle" transform="rotate(377.8 156.32 210.10)">10</text>
<path d="M159.04,214.82L159.50,213.59" stroke="#888" stroke-width="0.3"/>
<text x="160.28" y="211.50" font-size="2.3" fill="#555" text-anchor="middle" dominant-baseline="middle" transform="rotate(380.6 160.28 211.50)">20</text>
<path d="M162.77,216.35L163.29,215.14" stroke="#888" stroke-width="0.3"/>
<text x="164.16" y="213.09" font-size="2.3" fill="#555" text-anchor="middle" dominant-baseline="middle" transform="rotate(383.4 164.16 213.09)">30</text>
<path d="M166.42,218.06L166.99,216.88" stroke="#888" stroke-width="0.3"/>
<text x="167.97" y="214.88" font-size="2.3" fill="#555" text-anchor="middle" dominant-baseline="middle" transform="rotate(386.2 167.97 214.88)">40</text>
<path d="M172.50,222.38L174.41,223.59L176.28,224.87L178.12,226.19L179.93,227.56L181.69,228.99L183.42,230.46L185.11,231.98L186.75,233.55L188.35,235.16L189.91,236.82L191.42,238.52L188.64,240.99L187.19,239.37L185.71,237.79L184.18,236.25L182.61,234.75L181.00,233.30L179.35,231.89L177.67,230.53L175.95,229.22L174.19,227.96L172.40,226.75L170.57,225.58Z" fill="#f5901e"/>
<path d="M169.17,227.92L170.93,229.05L172.66,230.22L174.35,231.44L176.02,232.70L177.65,234.02L179.24,235.37L180.79,236.77L182.31,238.22L183.78,239.71L185.21,241.23L186.61,242.80L180.37,248.35L179.13,246.96L177.85,245.60L176.54,244.28L175.19,242.99L173.81,241.75L172.39,240.54L170.95,239.37L169.47,238.25L167.96,237.16L166.42,236.12L164.85,235.12Z" fill="#fff" stroke="#333" stroke-width="0.35"/>
<path d="M167.52,230.67L168.22,230.93L168.45,231.94L168.42,233.34L168.79,234.08L169.25,234.68L169.18,236.03L169.54,236.74L170.05,237.21L170.79,237.38L171.40,237.72L171.52,238.72L172.06,239.15L172.65,239.51L173.24,239.89L173.89,240.19L174.18,240.92L174.81,241.25L175.24,241.82L176.28,241.69L176.64,242.34L176.74,243.25L177.90,243.03L177.93,244.01L178.84,244.08L180.11,243.81L180.94,244.01L181.93,244.06L182.72,244.30L183.42,244.65L184.38,244.78" fill="none" stroke="#f01818" stroke-width="1.15"/>
<path d="M163.97,236.59L164.47,236.90L164.96,237.22L165.45,237.54L165.94,237.86L162.20,243.63L161.76,243.34L161.32,243.05L160.88,242.77L160.43,242.49Z" fill="rgb(229, 159, 172)"/>
<path d="M165.37,237.48L165.86,237.81L166.34,238.13L166.83,238.47L167.31,238.80L163.42,244.47L162.99,244.17L162.56,243.87L162.12,243.58L161.68,243.29Z" fill="rgb(203, 158, 178)"/>
<path d="M166.75,238.41L167.23,238.75L167.71,239.09L168.18,239.43L168.65,239.78L164.63,245.34L164.20,245.03L163.78,244.72L163.35,244.42L162.92,244.12Z" fill="rgb(162, 161, 193)"/>
<path d="M168.10,239.37L168.57,239.72L169.04,240.07L169.51,240.43L169.97,240.79L165.81,246.25L165.39,245.92L164.98,245.60L164.56,245.29L164.13,244.98Z" fill="rgb(128, 160, 201)"/>
<path d="M169.43,240.37L169.89,240.73L170.35,241.09L170.81,241.46L171.27,241.83L166.97,247.18L166.56,246.85L166.15,246.52L165.74,246.19L165.32,245.87Z" fill="rgb(102, 159, 209)"/>
<path d="M170.73,241.40L171.19,241.77L171.64,242.14L172.09,242.52L172.53,242.91L168.10,248.15L167.71,247.80L167.30,247.46L166.90,247.12L166.49,246.79Z" fill="rgb(84, 161, 216)"/>
<path d="M172.01,242.46L172.46,242.84L172.90,243.23L173.34,243.62L173.77,244.02L169.21,249.14L168.82,248.78L168.43,248.43L168.04,248.09L167.64,247.74Z" fill="rgb(89, 162, 215)"/>
<path d="M173.26,243.55L173.70,243.95L174.13,244.35L174.56,244.75L174.99,245.16L170.30,250.16L169.92,249.80L169.54,249.43L169.15,249.08L168.76,248.72Z" fill="rgb(109, 159, 207)"/>
<path d="M174.49,244.68L174.91,245.09L175.33,245.50L175.75,245.91L176.17,246.33L171.36,251.21L170.99,250.83L170.61,250.46L170.24,250.10L169.85,249.73Z" fill="rgb(128, 161, 203)"/>
<path d="M175.68,245.84L176.10,246.26L176.51,246.68L176.92,247.10L177.32,247.53L172.39,252.28L172.03,251.90L171.67,251.52L171.30,251.14L170.93,250.77Z" fill="rgb(159, 158, 191)"/>
<path d="M176.85,247.03L177.25,247.45L177.65,247.89L178.05,248.32L178.45,248.76L173.40,253.39L173.05,252.99L172.69,252.60L172.33,252.22L171.97,251.84Z" fill="rgb(215, 160, 177)"/>
<path d="M177.98,248.25L178.26,248.55L178.54,248.87L178.82,249.18L179.09,249.49L173.98,254.04L173.73,253.76L173.49,253.48L173.24,253.20L172.99,252.93Z" fill="rgb(244, 160, 168)"/>
<path d="M163.97,236.59L165.49,237.57L166.99,238.58L168.46,239.64L169.91,240.74L171.32,241.88L172.70,243.05L174.05,244.27L175.36,245.52L176.64,246.81L177.88,248.13L179.09,249.49L173.98,254.04L172.90,252.83L171.78,251.64L170.64,250.49L169.46,249.36L168.25,248.27L167.02,247.22L165.75,246.20L164.46,245.22L163.14,244.27L161.80,243.36L160.43,242.49Z" fill="none" stroke="#666" stroke-width="0.35"/>
<text x="164.74" y="251.24" transform="rotate(400.04 164.74 251.24)" font-size="4.7" fill="#1a1a1a" text-anchor="middle" dominant-baseline="middle" textLength="12" lengthAdjust="spacingAndGlyphs">Chr18</text>
<path d="M172.91,221.68L173.59,220.56" stroke="#888" stroke-width="0.3"/>
<text x="174.74" y="218.65" font-size="2.3" fill="#555" text-anchor="middle" dominant-baseline="middle" transform="rotate(391.3 174.74 218.65)">0</text>
<path d="M176.30,223.89L177.03,222.80" stroke="#888" stroke-width="0.3"/>
<text x="178.26" y="220.95" font-size="2.3" fill="#555" text-anchor="middle" dominant-baseline="middle" transform="rotate(394.1 178.26 220.95)">10</text>
<path d="M179.57,226.26L180.35,225.21" stroke="#888" stroke-width="0.3"/>
<text x="181.67" y="223.42" font-size="2.3" fill="#555" text-anchor="middle" dominant-baseline="middle" transform="rotate(396.9 181.67 223.42)">20</text>
<path d="M182.72,228.79L183.55,227.78" stroke="#888" stroke-width="0.3"/>
<text x="184.96" y="226.06" font-size="2.3" fill="#555" text-anchor="middle" dominant-baseline="middle" transform="rotate(399.7 184.96 226.06)">30</text>
<path d="M185.75,231.48L186.63,230.50" stroke="#888" stroke-width="0.3"/>
<text x="188.12" y="228.86" font-size="2.3" fill="#555" text-anchor="middle" dominant-baseline="middle" transform="rotate(402.5 188.12 228.86)">40</text>
<path d="M188.65,234.31L189.57,233.38" stroke="#888" stroke-width="0.3"/>
<text x="191.14" y="231.81" font-size="2.3" fill="#555" text-anchor="middle" dominant-baseline="middle" transform="rotate(405.3 191.14 231.81)">50</text>
<path d="M191.41,237.28L192.37,236.40" stroke="#888" stroke-width="0.3"/>
<text x="194.01" y="234.90" font-size="2.3" fill="#555" text-anchor="middle" dominant-baseline="middle" transform="rotate(408.1 194.01 234.90)">60</text>
<path d="M195.63,243.81L196.93,245.65L198.19,247.53L199.40,249.44L200.56,251.39L201.66,253.37L202.71,255.38L203.70,257.41L204.64,259.48L205.52,261.56L202.10,263.00L201.26,261.00L200.36,259.03L199.41,257.09L198.41,255.17L197.36,253.28L196.26,251.43L195.11,249.60L193.90,247.80L192.65,246.04Z" fill="#f27620"/>
<path d="M190.49,247.68L191.69,249.38L192.85,251.11L193.96,252.87L195.03,254.67L196.04,256.49L197.01,258.34L197.93,260.22L198.79,262.12L199.60,264.04L191.93,267.26L191.21,265.54L190.44,263.85L189.62,262.18L188.76,260.53L187.86,258.91L186.91,257.32L185.92,255.75L184.89,254.21L183.82,252.69Z" fill="#fff" stroke="#333" stroke-width="0.35"/>
<path d="M188.28,249.34L188.34,250.04L188.23,250.86L187.83,251.88L187.43,252.88L187.47,253.55L186.95,254.61L187.26,255.08L187.71,255.46L187.88,256.04L188.07,256.59L188.02,257.29L188.45,257.68L188.76,258.16L189.19,258.57L189.28,259.17L189.79,259.53L190.29,259.91L189.90,260.77L190.58,261.04L190.97,261.48L190.91,262.15L191.34,262.57L192.19,262.79L191.88,263.58L193.02,263.67L193.50,264.08L194.98,264.05L196.02,264.24L196.35,264.75L196.37,265.40" fill="none" stroke="#f01818" stroke-width="1.15"/>
<path d="M182.45,253.72L182.75,254.14L183.05,254.55L183.34,254.97L183.63,255.39L178.05,259.33L177.79,258.95L177.53,258.58L177.26,258.20L176.99,257.83Z" fill="rgb(241, 160, 168)"/>
<path d="M183.24,254.82L183.53,255.24L183.82,255.67L184.11,256.09L184.39,256.52L178.72,260.34L178.47,259.96L178.22,259.58L177.96,259.20L177.70,258.82Z" fill="rgb(213, 160, 176)"/>
<path d="M184.01,255.94L184.29,256.37L184.57,256.80L184.85,257.23L185.12,257.66L179.38,261.36L179.13,260.97L178.89,260.59L178.64,260.20L178.38,259.82Z" fill="rgb(169, 161, 191)"/>
<path d="M184.75,257.08L185.02,257.51L185.30,257.94L185.56,258.38L185.83,258.82L180.01,262.40L179.78,262.01L179.54,261.62L179.29,261.23L179.05,260.84Z" fill="rgb(123, 159, 202)"/>
<path d="M185.47,258.23L185.74,258.66L186.00,259.10L186.26,259.55L186.51,259.99L180.63,263.45L180.40,263.05L180.17,262.66L179.93,262.26L179.69,261.87Z" fill="rgb(107, 157, 205)"/>
<path d="M186.17,259.39L186.42,259.83L186.68,260.28L186.93,260.73L187.17,261.18L181.22,264.51L181.00,264.11L180.77,263.71L180.55,263.31L180.32,262.91Z" fill="rgb(91, 158, 211)"/>
<path d="M186.84,260.57L187.09,261.02L187.33,261.47L187.57,261.92L187.81,262.38L181.79,265.59L181.58,265.18L181.36,264.77L181.14,264.37L180.92,263.97Z" fill="rgb(89, 156, 210)"/>
<path d="M187.49,261.76L187.73,262.22L187.96,262.67L188.19,263.13L188.42,263.59L182.34,266.67L182.13,266.26L181.93,265.85L181.71,265.44L181.50,265.04Z" fill="rgb(110, 158, 206)"/>
<path d="M188.11,262.97L188.34,263.43L188.57,263.89L188.79,264.35L189.01,264.81L182.86,267.77L182.67,267.35L182.47,266.94L182.27,266.53L182.06,266.12Z" fill="rgb(109, 158, 205)"/>
<path d="M188.71,264.19L188.93,264.65L189.15,265.11L189.36,265.58L189.57,266.05L183.37,268.88L183.18,268.46L182.99,268.04L182.79,267.62L182.60,267.21Z" fill="rgb(156, 157, 191)"/>
<path d="M189.29,265.42L189.50,265.89L189.70,266.35L189.91,266.83L190.11,267.30L183.85,270.00L183.67,269.57L183.49,269.15L183.30,268.73L183.11,268.31Z" fill="rgb(205, 159, 179)"/>
<path d="M189.84,266.66L189.97,266.97L190.10,267.29L190.23,267.60L190.36,267.91L184.08,270.55L183.96,270.27L183.84,269.98L183.73,269.70L183.61,269.42Z" fill="rgb(244, 160, 168)"/>
<path d="M182.45,253.72L183.50,255.20L184.50,256.70L185.47,258.23L186.39,259.78L187.27,261.36L188.11,262.97L188.91,264.60L189.66,266.24L190.36,267.91L184.08,270.55L183.44,269.05L182.77,267.57L182.06,266.12L181.31,264.68L180.52,263.26L179.69,261.87L178.83,260.50L177.93,259.15L176.99,257.83Z" fill="none" stroke="#666" stroke-width="0.35"/>
<text x="177.00" y="266.22" transform="rotate(420.51 177.00 266.22)" font-size="4.7" fill="#1a1a1a" text-anchor="middle" dominant-baseline="middle" textLength="12" lengthAdjust="spacingAndGlyphs">Chr19</text>
<path d="M196.27,243.32L197.31,242.54" stroke="#888" stroke-width="0.3"/>
<text x="199.08" y="241.21" font-size="2.3" fill="#555" text-anchor="middle" dominant-baseline="middle" transform="rotate(413.4 199.08 241.21)">0</text>
<path d="M198.58,246.66L199.66,245.93" stroke="#888" stroke-width="0.3"/>
<text x="201.49" y="244.69" font-size="2.3" fill="#555" text-anchor="middle" dominant-baseline="middle" transform="rotate(416.2 201.49 244.69)">10</text>
<path d="M200.74,250.11L201.85,249.43" stroke="#888" stroke-width="0.3"/>
<text x="203.74" y="248.28" font-size="2.3" fill="#555" text-anchor="middle" dominant-baseline="middle" transform="rotate(419.0 203.74 248.28)">20</text>
<path d="M202.72,253.66L203.87,253.03" stroke="#888" stroke-width="0.3"/>
<text x="205.81" y="251.98" font-size="2.3" fill="#555" text-anchor="middle" dominant-baseline="middle" transform="rotate(421.8 205.81 251.98)">30</text>
<path d="M204.53,257.30L205.71,256.73" stroke="#888" stroke-width="0.3"/>
<text x="207.70" y="255.78" font-size="2.3" fill="#555" text-anchor="middle" dominant-baseline="middle" transform="rotate(424.6 207.70 255.78)">40</text>
<path d="M206.17,261.03L207.37,260.52" stroke="#888" stroke-width="0.3"/>
<text x="209.40" y="259.66" font-size="2.3" fill="#555" text-anchor="middle" dominant-baseline="middle" transform="rotate(427.4 209.40 259.66)">50</text>
<path d="M207.82,267.95L208.51,270.27L209.14,272.60L209.70,274.95L210.19,277.32L210.61,279.70L210.96,282.10L211.25,284.50L211.46,286.91L207.78,287.20L207.57,284.89L207.30,282.60L206.96,280.32L206.56,278.04L206.09,275.78L205.56,273.53L204.96,271.31L204.30,269.09Z" fill="#f05a22"/>
<path d="M201.72,269.93L202.36,272.06L202.94,274.22L203.45,276.38L203.91,278.57L204.30,280.76L204.62,282.97L204.88,285.18L205.08,287.40L196.81,288.04L196.63,286.07L196.40,284.10L196.11,282.13L195.76,280.18L195.36,278.24L194.90,276.31L194.39,274.39L193.82,272.49Z" fill="#fff" stroke="#333" stroke-width="0.35"/>
<path d="M198.55,270.96L198.49,271.57L198.65,272.12L198.31,272.81L197.35,273.67L196.57,274.46L196.80,274.97L196.24,275.68L196.01,276.30L195.97,276.86L196.68,277.24L196.81,277.77L196.75,278.33L196.70,278.90L196.90,279.41L196.67,280.00L197.49,280.39L196.99,281.03L197.36,281.51L197.64,282.01L197.74,282.55L197.52,283.13L197.51,283.67L198.02,284.15L197.99,284.70L199.24,285.09L199.47,285.62L200.77,286.05L200.95,286.59L201.63,287.10L201.75,287.66" fill="none" stroke="#f01818" stroke-width="1.15"/>
<path d="M192.20,273.02L192.35,273.49L192.49,273.97L192.63,274.44L192.77,274.92L186.23,276.82L186.11,276.39L185.98,275.97L185.85,275.54L185.72,275.12Z" fill="rgb(237, 159, 169)"/>
<path d="M192.57,274.25L192.71,274.73L192.85,275.20L192.98,275.68L193.11,276.16L186.53,277.93L186.42,277.51L186.30,277.08L186.18,276.65L186.06,276.22Z" fill="rgb(196, 160, 182)"/>
<path d="M192.93,275.49L193.05,275.97L193.18,276.45L193.30,276.93L193.42,277.41L186.82,279.05L186.71,278.62L186.60,278.19L186.49,277.76L186.37,277.33Z" fill="rgb(155, 158, 192)"/>
<path d="M193.25,276.74L193.37,277.22L193.49,277.70L193.60,278.18L193.71,278.66L187.08,280.18L186.98,279.75L186.88,279.31L186.77,278.88L186.67,278.45Z" fill="rgb(118, 159, 204)"/>
<path d="M193.56,277.99L193.67,278.47L193.77,278.96L193.88,279.44L193.98,279.93L187.31,281.31L187.23,280.87L187.13,280.44L187.04,280.01L186.94,279.57Z" fill="rgb(99, 161, 211)"/>
<path d="M193.84,279.25L193.94,279.73L194.04,280.22L194.13,280.70L194.22,281.19L187.53,282.44L187.45,282.01L187.37,281.57L187.28,281.13L187.19,280.70Z" fill="rgb(90, 158, 211)"/>
<path d="M194.09,280.51L194.18,281.00L194.27,281.48L194.36,281.97L194.44,282.46L187.73,283.58L187.65,283.14L187.58,282.70L187.50,282.27L187.42,281.83Z" fill="rgb(103, 163, 212)"/>
<path d="M194.32,281.78L194.41,282.27L194.48,282.76L194.56,283.25L194.63,283.74L187.90,284.72L187.84,284.28L187.77,283.84L187.70,283.41L187.62,282.97Z" fill="rgb(92, 163, 215)"/>
<path d="M194.53,283.05L194.60,283.54L194.67,284.03L194.74,284.52L194.80,285.01L188.05,285.87L188.00,285.43L187.94,284.99L187.88,284.55L187.81,284.11Z" fill="rgb(137, 161, 201)"/>
<path d="M194.71,284.33L194.78,284.82L194.84,285.31L194.89,285.80L194.94,286.30L188.18,287.01L188.13,286.57L188.08,286.13L188.03,285.69L187.97,285.25Z" fill="rgb(156, 161, 195)"/>
<path d="M194.87,285.61L194.92,286.10L194.97,286.59L195.02,287.09L195.06,287.58L188.29,288.16L188.25,287.72L188.21,287.28L188.16,286.84L188.11,286.40Z" fill="rgb(210, 159, 177)"/>
<path d="M195.00,286.89L195.03,287.21L195.06,287.53L195.09,287.85L195.11,288.17L188.33,288.70L188.31,288.41L188.29,288.12L188.26,287.83L188.23,287.55Z" fill="rgb(227, 160, 173)"/>
<path d="M192.20,273.02L192.75,274.87L193.25,276.74L193.70,278.62L194.09,280.51L194.43,282.41L194.71,284.33L194.94,286.25L195.11,288.17L188.33,288.70L188.18,286.97L187.97,285.25L187.72,283.54L187.42,281.83L187.07,280.14L186.67,278.45L186.22,276.78L185.72,275.12Z" fill="none" stroke="#666" stroke-width="0.35"/>
<text x="183.00" y="282.71" transform="rotate(438.96 183.00 282.71)" font-size="4.7" fill="#1a1a1a" text-anchor="middle" dominant-baseline="middle" textLength="12" lengthAdjust="spacingAndGlyphs">Chr20</text>
<path d="M208.58,267.70L209.82,267.30" stroke="#888" stroke-width="0.3"/>
<text x="211.92" y="266.62" font-size="2.3" fill="#555" text-anchor="middle" dominant-baseline="middle" transform="rotate(432.3 211.92 266.62)">0</text>
<path d="M209.71,271.62L210.97,271.28" stroke="#888" stroke-width="0.3"/>
<text x="213.10" y="270.70" font-size="2.3" fill="#555" text-anchor="middle" dominant-baseline="middle" transform="rotate(435.1 213.10 270.70)">10</text>
<path d="M210.65,275.59L211.93,275.31" stroke="#888" stroke-width="0.3"/>
<text x="214.08" y="274.84" font-size="2.3" fill="#555" text-anchor="middle" dominant-baseline="middle" transform="rotate(437.9 214.08 274.84)">20</text>
<path d="M211.40,279.60L212.69,279.38" stroke="#888" stroke-width="0.3"/>
<text x="214.86" y="279.02" font-size="2.3" fill="#555" text-anchor="middle" dominant-baseline="middle" transform="rotate(440.7 214.86 279.02)">30</text>
<path d="M211.96,283.64L213.25,283.49" stroke="#888" stroke-width="0.3"/>
<text x="215.44" y="283.23" font-size="2.3" fill="#555" text-anchor="middle" dominant-baseline="middle" transform="rotate(443.4 215.44 283.23)">40</text>
<path d="M104.51,250.13Q130.17,288.15 158.39,252.04" fill="none" stroke="#8fd98a" stroke-width="0.95" stroke-opacity="0.85"/>
<path d="M100.21,253.07Q125.94,292.73 92.08,325.50" fill="none" stroke="#1fa882" stroke-width="0.95" stroke-opacity="0.85"/>
<path d="M92.42,260.50Q126.42,288.54 107.99,248.20" fill="none" stroke="#b978d6" stroke-width="0.95" stroke-opacity="0.85"/>
<path d="M100.90,252.55Q129.99,293.21 158.89,334.00" fill="none" stroke="#f3a08c" stroke-width="0.95" stroke-opacity="0.85"/>
<path d="M99.52,253.61Q130.22,293.01 164.14,329.58" fill="none" stroke="#b06ad8" stroke-width="0.95" stroke-opacity="0.85"/>
<path d="M158.82,252.35Q134.49,291.85 176.06,311.61" fill="none" stroke="#f39a3c" stroke-width="0.95" stroke-opacity="0.85"/>
<path d="M164.07,256.76Q130.16,293.34 98.51,331.97" fill="none" stroke="#f28cbc" stroke-width="0.95" stroke-opacity="0.85"/>
<path d="M150.13,247.30Q129.55,292.95 102.32,334.85" fill="none" stroke="#e070c8" stroke-width="0.95" stroke-opacity="0.85"/>
<path d="M161.82,254.71Q133.96,293.07 164.26,329.46" fill="none" stroke="#4f6fd0" stroke-width="0.95" stroke-opacity="0.85"/>
<path d="M175.11,272.52Q135.05,293.81 169.11,323.99" fill="none" stroke="#f59a40" stroke-width="0.95" stroke-opacity="0.85"/>
<path d="M178.54,283.36Q129.97,292.98 80.88,299.41" fill="none" stroke="#b57ad8" stroke-width="0.95" stroke-opacity="0.85"/>
<path d="M179.48,294.69Q130.11,294.10 82.30,306.63" fill="none" stroke="#6fd49a" stroke-width="0.95" stroke-opacity="0.85"/>
<path d="M84.33,312.59Q130.20,294.76 179.07,299.84" fill="none" stroke="#2fb48c" stroke-width="0.95" stroke-opacity="0.85"/>
<path d="M85.14,314.43Q129.16,296.83 160.81,332.52" fill="none" stroke="#1fa882" stroke-width="0.95" stroke-opacity="0.85"/>
<path d="M108.69,338.55Q130.77,298.10 164.14,329.58" fill="none" stroke="#f2403c" stroke-width="0.95" stroke-opacity="0.85"/>
<path d="M111.86,339.95Q130.07,293.23 149.34,246.95" fill="none" stroke="#f7b38a" stroke-width="0.95" stroke-opacity="0.85"/>
<path d="M120.55,342.52Q129.80,299.15 136.03,343.07" fill="none" stroke="#f49ac4" stroke-width="0.95" stroke-opacity="0.85"/>
<path d="M93.80,327.47Q130.71,295.99 178.03,305.35" fill="none" stroke="#f0a0c0" stroke-width="0.95" stroke-opacity="0.85"/>
<path d="M105.25,336.71Q131.09,297.32 172.87,318.32" fill="none" stroke="#e888d0" stroke-width="0.95" stroke-opacity="0.85"/>
<path d="M169.01,262.27Q133.83,293.95 154.75,336.71" fill="none" stroke="#f0a8d0" stroke-width="0.95" stroke-opacity="0.85"/>
<path d="M177.91,225.03L180.29,221.64" stroke="#333" stroke-width="0.4"/>
<text x="180.64" y="221.14" transform="rotate(-54.50 180.64 221.14)" font-size="4" fill="#1a1a1a" dominant-baseline="middle" textLength="17.1" lengthAdjust="spacingAndGlyphs">GmGPAT24</text>
<path d="M188.54,234.20L191.45,231.26" stroke="#333" stroke-width="0.4"/>
<text x="191.87" y="230.83" transform="rotate(-44.80 191.87 230.83)" font-size="4" fill="#1a1a1a" dominant-baseline="middle" textLength="17.1" lengthAdjust="spacingAndGlyphs">GmGPAT25</text>
<path d="M205.71,259.94L209.48,258.29" stroke="#333" stroke-width="0.4"/>
<text x="210.03" y="258.05" transform="rotate(-23.40 210.03 258.05)" font-size="4" fill="#1a1a1a" dominant-baseline="middle" textLength="17.1" lengthAdjust="spacingAndGlyphs">GmGPAT26</text>
<path d="M210.70,275.79L214.71,274.92" stroke="#333" stroke-width="0.4"/>
<text x="215.29" y="274.80" transform="rotate(-12.00 215.29 274.80)" font-size="4" fill="#1a1a1a" dominant-baseline="middle" textLength="17.1" lengthAdjust="spacingAndGlyphs">GmGPAT27</text>
<path d="M212.49,294.22L216.59,294.27" stroke="#333" stroke-width="0.4"/>
<text x="217.19" y="294.28" transform="rotate(0.70 217.19 294.28)" font-size="4" fill="#1a1a1a" dominant-baseline="middle" textLength="15.0" lengthAdjust="spacingAndGlyphs">GmGPAT1</text>
<path d="M210.70,310.61L214.71,311.48" stroke="#333" stroke-width="0.4"/>
<text x="215.29" y="311.60" transform="rotate(12.00 215.29 311.60)" font-size="4" fill="#1a1a1a" dominant-baseline="middle" textLength="15.0" lengthAdjust="spacingAndGlyphs">GmGPAT2</text>
<path d="M206.38,324.84L210.18,326.41" stroke="#333" stroke-width="0.4"/>
<text x="210.74" y="326.64" transform="rotate(22.20 210.74 326.64)" font-size="4" fill="#1a1a1a" dominant-baseline="middle" textLength="15.0" lengthAdjust="spacingAndGlyphs">GmGPAT3</text>
<path d="M201.08,335.70L204.62,337.81" stroke="#333" stroke-width="0.4"/>
<text x="205.13" y="338.12" transform="rotate(30.50 205.13 338.12)" font-size="4" fill="#1a1a1a" dominant-baseline="middle" textLength="15.0" lengthAdjust="spacingAndGlyphs">GmGPAT4</text>
<path d="M199.19,338.81L202.63,341.07" stroke="#333" stroke-width="0.4"/>
<text x="203.13" y="341.40" transform="rotate(33.00 203.13 341.40)" font-size="4" fill="#1a1a1a" dominant-baseline="middle" textLength="15.0" lengthAdjust="spacingAndGlyphs">GmGPAT5</text>
<path d="M193.01,347.25L196.14,349.94" stroke="#333" stroke-width="0.4"/>
<text x="196.60" y="350.33" transform="rotate(40.20 196.60 350.33)" font-size="4" fill="#1a1a1a" dominant-baseline="middle" textLength="15.0" lengthAdjust="spacingAndGlyphs">GmGPAT6</text>
<path d="M189.15,351.58L192.08,354.48" stroke="#333" stroke-width="0.4"/>
<text x="192.51" y="354.90" transform="rotate(44.20 192.51 354.90)" font-size="4" fill="#1a1a1a" dominant-baseline="middle" textLength="15.0" lengthAdjust="spacingAndGlyphs">GmGPAT7</text>
<path d="M184.67,355.92L187.38,359.03" stroke="#333" stroke-width="0.4"/>
<text x="187.78" y="359.49" transform="rotate(48.50 187.78 359.49)" font-size="4" fill="#1a1a1a" dominant-baseline="middle" textLength="15.0" lengthAdjust="spacingAndGlyphs">GmGPAT8</text>
<path d="M181.92,358.28L184.50,361.51" stroke="#333" stroke-width="0.4"/>
<text x="184.88" y="361.98" transform="rotate(51.00 184.88 361.98)" font-size="4" fill="#1a1a1a" dominant-baseline="middle" textLength="15.0" lengthAdjust="spacingAndGlyphs">GmGPAT9</text>
<path d="M136.62,376.67L136.95,380.82" stroke="#333" stroke-width="0.4"/>
<text x="136.99" y="381.42" transform="rotate(85.40 136.99 381.42)" font-size="4" fill="#1a1a1a" dominant-baseline="middle" textLength="17.1" lengthAdjust="spacingAndGlyphs">GmGPAT10</text>
<path d="M78.42,358.55L75.85,361.80" stroke="#333" stroke-width="0.4"/>
<text x="75.48" y="362.27" transform="rotate(308.70 75.48 362.27)" font-size="4" fill="#1a1a1a" dominant-baseline="middle" text-anchor="end" textLength="17.1" lengthAdjust="spacingAndGlyphs">GmGPAT11</text>
<path d="M66.52,346.69L63.37,349.35" stroke="#333" stroke-width="0.4"/>
<text x="62.91" y="349.74" transform="rotate(320.30 62.91 349.74)" font-size="4" fill="#1a1a1a" dominant-baseline="middle" text-anchor="end" textLength="17.1" lengthAdjust="spacingAndGlyphs">GmGPAT12</text>
<path d="M56.69,331.61L53.05,333.51" stroke="#333" stroke-width="0.4"/>
<text x="52.51" y="333.79" transform="rotate(332.70 52.51 333.79)" font-size="4" fill="#1a1a1a" dominant-baseline="middle" text-anchor="end" textLength="17.1" lengthAdjust="spacingAndGlyphs">GmGPAT13</text>
<path d="M54.75,327.53L51.01,329.23" stroke="#333" stroke-width="0.4"/>
<text x="50.46" y="329.48" transform="rotate(335.80 50.46 329.48)" font-size="4" fill="#1a1a1a" dominant-baseline="middle" text-anchor="end" textLength="17.1" lengthAdjust="spacingAndGlyphs">GmGPAT15</text>
<path d="M50.13,314.17L46.16,315.21" stroke="#333" stroke-width="0.4"/>
<text x="45.58" y="315.36" transform="rotate(345.50 45.58 315.36)" font-size="4" fill="#1a1a1a" dominant-baseline="middle" text-anchor="end" textLength="17.1" lengthAdjust="spacingAndGlyphs">GmGPAT16</text>
<path d="M48.08,303.11L44.01,303.61" stroke="#333" stroke-width="0.4"/>
<text x="43.41" y="303.68" transform="rotate(353.20 43.41 303.68)" font-size="4" fill="#1a1a1a" dominant-baseline="middle" text-anchor="end" textLength="17.1" lengthAdjust="spacingAndGlyphs">GmGPAT17</text>
<path d="M67.17,238.93L64.05,236.23" stroke="#333" stroke-width="0.4"/>
<text x="63.59" y="235.84" transform="rotate(400.40 63.59 235.84)" font-size="4" fill="#1a1a1a" dominant-baseline="middle" text-anchor="end" textLength="17.1" lengthAdjust="spacingAndGlyphs">GmGPAT19</text>
<path d="M80.93,225.89L78.49,222.54" stroke="#333" stroke-width="0.4"/>
<text x="78.13" y="222.05" transform="rotate(413.50 78.13 222.05)" font-size="4" fill="#1a1a1a" dominant-baseline="middle" text-anchor="end" textLength="17.1" lengthAdjust="spacingAndGlyphs">GmGPAT21</text>
<path d="M83.87,223.78L81.57,220.33" stroke="#333" stroke-width="0.4"/>
<text x="81.24" y="219.82" transform="rotate(416.00 81.24 219.82)" font-size="4" fill="#1a1a1a" dominant-baseline="middle" text-anchor="end" textLength="17.1" lengthAdjust="spacingAndGlyphs">GmGPAT22</text>
<path d="M93.83,217.94L92.04,214.20" stroke="#333" stroke-width="0.4"/>
<text x="91.77" y="213.65" transform="rotate(424.00 91.77 213.65)" font-size="4" fill="#1a1a1a" dominant-baseline="middle" text-anchor="end" textLength="17.1" lengthAdjust="spacingAndGlyphs">GmGPAT23</text>
<path d="M93.58,368.33L91.77,372.07" stroke="#333" stroke-width="0.4"/>
<text x="91.50" y="372.61" transform="rotate(296.20 91.50 372.61)" font-size="4" fill="#1a1a1a" dominant-baseline="middle" text-anchor="end" textLength="17.1" lengthAdjust="spacingAndGlyphs">GmGPAT20</text>
<path d="M90.51,366.72L88.55,370.37" stroke="#333" stroke-width="0.4"/>
<text x="88.26" y="370.91" transform="rotate(298.60 88.26 370.91)" font-size="4" fill="#1a1a1a" dominant-baseline="middle" text-anchor="end" textLength="17.1" lengthAdjust="spacingAndGlyphs">GmGPAT18</text>
<defs><linearGradient id="cb" x1="0" x2="0" y1="0" y2="1"><stop offset="0" stop-color="#ff0a0a"/><stop offset="0.4" stop-color="#f77272"/><stop offset="0.68" stop-color="#fff"/><stop offset="0.8" stop-color="#a8cce8"/><stop offset="1" stop-color="#1460b0"/></linearGradient></defs>
<rect x="227.8" y="198.3" width="8.5" height="48.5" fill="url(#cb)"/>
<text x="238.3" y="201.30" font-size="2.5" fill="#444">21.00</text>
<text x="238.3" y="207.66" font-size="2.5" fill="#444">18.00</text>
<text x="238.3" y="214.01" font-size="2.5" fill="#444">15.00</text>
<text x="238.3" y="220.37" font-size="2.5" fill="#444">12.00</text>
<text x="238.3" y="226.73" font-size="2.5" fill="#444">9.00</text>
<text x="238.3" y="233.09" font-size="2.5" fill="#444">6.00</text>
<text x="238.3" y="239.44" font-size="2.5" fill="#444">3.00</text>
<text x="238.3" y="245.80" font-size="2.5" fill="#444">0.00</text>
<defs><linearGradient id="ex" x1="0" x2="1" y1="0" y2="0"><stop offset="0" stop-color="#e59be0"/><stop offset="0.5" stop-color="#c48ef0"/><stop offset="1" stop-color="#9a7cf6"/></linearGradient><linearGradient id="utr" x1="0" x2="1" y1="0" y2="0"><stop offset="0" stop-color="#34e0a0"/><stop offset="1" stop-color="#18cfae"/></linearGradient><linearGradient id="intr" x1="0" x2="1" y1="0" y2="0"><stop offset="0" stop-color="#7d9bd0"/><stop offset="0.5" stop-color="#dcdce8"/><stop offset="1" stop-color="#7d9bd0"/></linearGradient></defs>
<g transform="translate(291.7,0)"><path d="M-9.80,257.50H0.00M0.00,218.28H69.80M69.80,214.90V221.66M69.80,214.90H79.50M69.80,221.66H79.50M0.00,233.49H59.80M59.80,228.42V238.56M59.80,228.42H79.50M59.80,238.56H69.80M69.80,235.18V241.94M69.80,235.18H79.50M69.80,241.94H79.50M59.80,248.70V258.84M59.80,248.70H79.50M59.80,258.84H69.80M69.80,255.46V262.22M69.80,255.46H79.50M69.80,262.22H79.50M69.80,268.98V275.74M69.80,268.98H79.50M69.80,275.74H79.50M69.80,289.26V296.02M69.80,289.26H79.50M69.80,296.02H79.50M59.80,282.50V292.64M59.80,282.50H79.50M59.80,292.64H69.80M49.90,272.36V287.57M49.90,272.36H69.80M49.90,287.57H59.80M39.70,253.77V279.97M39.70,253.77H59.80M39.70,279.97H49.90M69.80,302.78V309.54M69.80,316.30V323.06M69.80,302.78H79.50M69.80,309.54H79.50M69.80,316.30H79.50M69.80,323.06H79.50M60.00,306.16V319.68M60.00,306.16H69.80M60.00,319.68H69.80M69.80,329.82V336.58M69.80,329.82H79.50M69.80,336.58H79.50M69.80,343.34V350.10M69.80,343.34H79.50M69.80,350.10H79.50M69.80,356.86V363.62M69.80,356.86H79.50M69.80,363.62H79.50M69.80,370.38V377.14M69.80,370.38H79.50M69.80,377.14H79.50M69.80,383.90V390.66M69.80,383.90H79.50M69.80,390.66H79.50M60.00,373.76V387.28M60.00,373.76H69.80M60.00,387.28H69.80M49.70,360.24V380.52M49.70,360.24H69.80M49.70,380.52H60.00M39.70,346.72V370.38M39.70,346.72H69.80M39.70,370.38H49.70M29.90,333.20V358.55M29.90,333.20H69.80M29.90,358.55H39.70M20.10,312.92V345.88M20.10,312.92H60.00M20.10,345.88H29.90M10.00,266.87V329.40M10.00,266.87H39.70M10.00,329.40H20.10M0.00,218.28V298.13M0.00,298.13H10.00" fill="none" stroke="#a3a3a3" stroke-width="0.8"/></g>
<text x="372.2" y="216.80" font-size="5" font-style="italic" font-weight="bold" fill="#f0284e" textLength="24.2" lengthAdjust="spacingAndGlyphs">GmGPAT16</text>
<text x="372.2" y="223.56" font-size="5" font-style="italic" font-weight="bold" fill="#f0284e" textLength="21.4" lengthAdjust="spacingAndGlyphs">GmGPAT1</text>
<text x="372.2" y="230.32" font-size="5" font-style="italic" font-weight="bold" fill="#22ccb8" textLength="24.2" lengthAdjust="spacingAndGlyphs">GmGPAT15</text>
<text x="372.2" y="237.08" font-size="5" font-style="italic" font-weight="bold" fill="#22ccb8" textLength="24.2" lengthAdjust="spacingAndGlyphs">GmGPAT13</text>
<text x="372.2" y="243.84" font-size="5" font-style="italic" font-weight="bold" fill="#22ccb8" textLength="24.2" lengthAdjust="spacingAndGlyphs">GmGPAT10</text>
<text x="372.2" y="250.60" font-size="5" font-style="italic" font-weight="bold" fill="#7c70f0" textLength="24.2" lengthAdjust="spacingAndGlyphs">GmGPAT23</text>
<text x="372.2" y="257.36" font-size="5" font-style="italic" font-weight="bold" fill="#7c70f0" textLength="24.2" lengthAdjust="spacingAndGlyphs">GmGPAT22</text>
<text x="372.2" y="264.12" font-size="5" font-style="italic" font-weight="bold" fill="#7c70f0" textLength="24.2" lengthAdjust="spacingAndGlyphs">GmGPAT19</text>
<text x="372.2" y="270.88" font-size="5" font-style="italic" font-weight="bold" fill="#7c70f0" textLength="24.2" lengthAdjust="spacingAndGlyphs">GmGPAT17</text>
<text x="372.2" y="277.64" font-size="5" font-style="italic" font-weight="bold" fill="#7c70f0" textLength="21.4" lengthAdjust="spacingAndGlyphs">GmGPAT3</text>
<text x="372.2" y="284.40" font-size="5" font-style="italic" font-weight="bold" fill="#7c70f0" textLength="24.2" lengthAdjust="spacingAndGlyphs">GmGPAT26</text>
<text x="372.2" y="291.16" font-size="5" font-style="italic" font-weight="bold" fill="#7c70f0" textLength="21.4" lengthAdjust="spacingAndGlyphs">GmGPAT9</text>
<text x="372.2" y="297.92" font-size="5" font-style="italic" font-weight="bold" fill="#7c70f0" textLength="21.4" lengthAdjust="spacingAndGlyphs">GmGPAT8</text>
<text x="372.2" y="304.68" font-size="5" font-style="italic" font-weight="bold" fill="#7c70f0" textLength="24.2" lengthAdjust="spacingAndGlyphs">GmGPAT24</text>
<text x="372.2" y="311.44" font-size="5" font-style="italic" font-weight="bold" fill="#7c70f0" textLength="24.2" lengthAdjust="spacingAndGlyphs">GmGPAT14</text>
<text x="372.2" y="318.20" font-size="5" font-style="italic" font-weight="bold" fill="#7c70f0" textLength="21.4" lengthAdjust="spacingAndGlyphs">GmGPAT5</text>
<text x="372.2" y="324.96" font-size="5" font-style="italic" font-weight="bold" fill="#7c70f0" textLength="24.2" lengthAdjust="spacingAndGlyphs">GmGPAT20</text>
<text x="372.2" y="331.72" font-size="5" font-style="italic" font-weight="bold" fill="#7c70f0" textLength="24.2" lengthAdjust="spacingAndGlyphs">GmGPAT21</text>
<text x="372.2" y="338.48" font-size="5" font-style="italic" font-weight="bold" fill="#7c70f0" textLength="21.4" lengthAdjust="spacingAndGlyphs">GmGPAT4</text>
<text x="372.2" y="345.24" font-size="5" font-style="italic" font-weight="bold" fill="#7c70f0" textLength="24.2" lengthAdjust="spacingAndGlyphs">GmGPAT18</text>
<text x="372.2" y="352.00" font-size="5" font-style="italic" font-weight="bold" fill="#7c70f0" textLength="24.2" lengthAdjust="spacingAndGlyphs">GmGPAT27</text>
<text x="372.2" y="358.76" font-size="5" font-style="italic" font-weight="bold" fill="#7c70f0" textLength="21.4" lengthAdjust="spacingAndGlyphs">GmGPAT6</text>
<text x="372.2" y="365.52" font-size="5" font-style="italic" font-weight="bold" fill="#7c70f0" textLength="24.2" lengthAdjust="spacingAndGlyphs">GmGPAT11</text>
<text x="372.2" y="372.28" font-size="5" font-style="italic" font-weight="bold" fill="#7c70f0" textLength="21.4" lengthAdjust="spacingAndGlyphs">GmGPAT2</text>
<text x="372.2" y="379.04" font-size="5" font-style="italic" font-weight="bold" fill="#7c70f0" textLength="21.4" lengthAdjust="spacingAndGlyphs">GmGPAT7</text>
<text x="372.2" y="385.80" font-size="5" font-style="italic" font-weight="bold" fill="#7c70f0" textLength="24.2" lengthAdjust="spacingAndGlyphs">GmGPAT12</text>
<text x="372.2" y="392.56" font-size="5" font-style="italic" font-weight="bold" fill="#7c70f0" textLength="24.2" lengthAdjust="spacingAndGlyphs">GmGPAT25</text>
<rect x="399.5" y="214.35" width="22.80" height="1.1" fill="url(#intr)" opacity="0.9"/>
<rect x="400.50" y="212.40" width="6.70" height="5" rx="1.20" fill="url(#ex)"/>
<rect x="412.00" y="212.40" width="8.50" height="5" rx="1.20" fill="url(#ex)"/>
<rect x="399.50" y="212.40" width="1.3" height="5" rx="0.5" fill="#22d6a6"/>
<rect x="420.50" y="212.40" width="1.80" height="5" rx="0.6" fill="url(#utr)"/>
<rect x="399.5" y="221.11" width="83.70" height="1.1" fill="url(#intr)" opacity="0.9"/>
<rect x="401.00" y="219.16" width="1.50" height="5" rx="0.75" fill="url(#ex)"/>
<rect x="411.50" y="219.16" width="1.50" height="5" rx="0.75" fill="url(#ex)"/>
<rect x="418.20" y="219.16" width="1.50" height="5" rx="0.75" fill="url(#ex)"/>
<rect x="420.60" y="219.16" width="1.50" height="5" rx="0.75" fill="url(#ex)"/>
<rect x="439.00" y="219.16" width="1.50" height="5" rx="0.75" fill="url(#ex)"/>
<rect x="447.20" y="219.16" width="1.50" height="5" rx="0.75" fill="url(#ex)"/>
<rect x="449.50" y="219.16" width="3.50" height="5" rx="1.20" fill="url(#ex)"/>
<rect x="455.60" y="219.16" width="1.50" height="5" rx="0.75" fill="url(#ex)"/>
<rect x="471.50" y="219.16" width="1.50" height="5" rx="0.75" fill="url(#ex)"/>
<rect x="473.60" y="219.16" width="1.50" height="5" rx="0.75" fill="url(#ex)"/>
<rect x="481.00" y="219.16" width="2.20" height="5" rx="0.6" fill="url(#utr)"/>
<rect x="399.5" y="227.87" width="20.00" height="1.1" fill="url(#intr)" opacity="0.9"/>
<rect x="400.00" y="225.92" width="6.50" height="5" rx="1.20" fill="url(#ex)"/>
<rect x="408.20" y="225.92" width="8.80" height="5" rx="1.20" fill="url(#ex)"/>
<rect x="417.20" y="225.92" width="2.30" height="5" rx="0.6" fill="url(#utr)"/>
<rect x="399.5" y="234.63" width="25.10" height="1.1" fill="url(#intr)" opacity="0.9"/>
<rect x="400.00" y="232.68" width="6.50" height="5" rx="1.20" fill="url(#ex)"/>
<rect x="412.60" y="232.68" width="9.70" height="5" rx="1.20" fill="url(#ex)"/>
<rect x="422.30" y="232.68" width="2.30" height="5" rx="0.6" fill="url(#utr)"/>
<rect x="399.5" y="241.39" width="35.50" height="1.1" fill="url(#intr)" opacity="0.9"/>
<rect x="400.00" y="239.44" width="6.00" height="5" rx="1.20" fill="url(#ex)"/>
<rect x="423.20" y="239.44" width="9.40" height="5" rx="1.20" fill="url(#ex)"/>
<rect x="432.60" y="239.44" width="2.40" height="5" rx="0.6" fill="url(#utr)"/>
<rect x="399.5" y="248.15" width="22.80" height="1.1" fill="url(#intr)" opacity="0.9"/>
<rect x="400.00" y="246.20" width="7.00" height="5" rx="1.20" fill="url(#ex)"/>
<rect x="411.90" y="246.20" width="8.60" height="5" rx="1.20" fill="url(#ex)"/>
<rect x="399.50" y="246.20" width="1.3" height="5" rx="0.5" fill="#22d6a6"/>
<rect x="420.50" y="246.20" width="1.80" height="5" rx="0.6" fill="url(#utr)"/>
<rect x="399.5" y="254.91" width="20.00" height="1.1" fill="url(#intr)" opacity="0.9"/>
<rect x="400.00" y="252.96" width="7.00" height="5" rx="1.20" fill="url(#ex)"/>
<rect x="408.60" y="252.96" width="9.10" height="5" rx="1.20" fill="url(#ex)"/>
<rect x="399.50" y="252.96" width="1.3" height="5" rx="0.5" fill="#22d6a6"/>
<rect x="417.70" y="252.96" width="1.80" height="5" rx="0.6" fill="url(#utr)"/>
<rect x="399.5" y="261.67" width="18.50" height="1.1" fill="url(#intr)" opacity="0.9"/>
<rect x="400.20" y="259.72" width="5.80" height="5" rx="1.20" fill="url(#ex)"/>
<rect x="407.70" y="259.72" width="8.60" height="5" rx="1.20" fill="url(#ex)"/>
<rect x="416.30" y="259.72" width="1.70" height="5" rx="0.6" fill="url(#utr)"/>
<rect x="399.5" y="268.43" width="23.50" height="1.1" fill="url(#intr)" opacity="0.9"/>
<rect x="401.00" y="266.48" width="6.00" height="5" rx="1.20" fill="url(#ex)"/>
<rect x="413.20" y="266.48" width="8.20" height="5" rx="1.20" fill="url(#ex)"/>
<rect x="399.50" y="266.48" width="1.3" height="5" rx="0.5" fill="#22d6a6"/>
<rect x="421.40" y="266.48" width="1.60" height="5" rx="0.6" fill="url(#utr)"/>
<rect x="399.5" y="275.19" width="24.50" height="1.1" fill="url(#intr)" opacity="0.9"/>
<rect x="400.00" y="273.24" width="6.80" height="5" rx="1.20" fill="url(#ex)"/>
<rect x="414.00" y="273.24" width="8.80" height="5" rx="1.20" fill="url(#ex)"/>
<rect x="422.80" y="273.24" width="1.60" height="5" rx="0.6" fill="url(#utr)"/>
<rect x="399.5" y="281.95" width="35.00" height="1.1" fill="url(#intr)" opacity="0.9"/>
<rect x="401.00" y="280.00" width="7.00" height="5" rx="1.20" fill="url(#ex)"/>
<rect x="424.00" y="280.00" width="8.60" height="5" rx="1.20" fill="url(#ex)"/>
<rect x="399.50" y="280.00" width="1.3" height="5" rx="0.5" fill="#22d6a6"/>
<rect x="432.60" y="280.00" width="1.90" height="5" rx="0.6" fill="url(#utr)"/>
<rect x="399.5" y="288.71" width="71.00" height="1.1" fill="url(#intr)" opacity="0.9"/>
<rect x="402.50" y="286.76" width="1.50" height="5" rx="0.75" fill="url(#ex)"/>
<rect x="405.00" y="286.76" width="1.50" height="5" rx="0.75" fill="url(#ex)"/>
<rect x="408.50" y="286.76" width="1.50" height="5" rx="0.75" fill="url(#ex)"/>
<rect x="418.50" y="286.76" width="1.50" height="5" rx="0.75" fill="url(#ex)"/>
<rect x="424.00" y="286.76" width="1.50" height="5" rx="0.75" fill="url(#ex)"/>
<rect x="436.50" y="286.76" width="1.50" height="5" rx="0.75" fill="url(#ex)"/>
<rect x="439.00" y="286.76" width="1.50" height="5" rx="0.75" fill="url(#ex)"/>
<rect x="454.50" y="286.76" width="1.50" height="5" rx="0.75" fill="url(#ex)"/>
<rect x="456.70" y="286.76" width="1.50" height="5" rx="0.75" fill="url(#ex)"/>
<rect x="458.90" y="286.76" width="1.50" height="5" rx="0.75" fill="url(#ex)"/>
<rect x="461.10" y="286.76" width="1.50" height="5" rx="0.75" fill="url(#ex)"/>
<rect x="463.30" y="286.76" width="1.50" height="5" rx="0.75" fill="url(#ex)"/>
<rect x="399.50" y="286.76" width="1.3" height="5" rx="0.5" fill="#22d6a6"/>
<rect x="468.50" y="286.76" width="2.00" height="5" rx="0.6" fill="url(#utr)"/>
<rect x="399.5" y="295.47" width="30.20" height="1.1" fill="url(#intr)" opacity="0.9"/>
<rect x="400.00" y="293.52" width="7.50" height="5" rx="1.20" fill="url(#ex)"/>
<rect x="419.20" y="293.52" width="9.10" height="5" rx="1.20" fill="url(#ex)"/>
<rect x="428.30" y="293.52" width="1.60" height="5" rx="0.6" fill="url(#utr)"/>
<rect x="399.5" y="302.23" width="25.50" height="1.1" fill="url(#intr)" opacity="0.9"/>
<rect x="401.00" y="300.28" width="7.60" height="5" rx="1.20" fill="url(#ex)"/>
<rect x="414.00" y="300.28" width="9.50" height="5" rx="1.20" fill="url(#ex)"/>
<rect x="399.50" y="300.28" width="1.3" height="5" rx="0.5" fill="#22d6a6"/>
<rect x="423.50" y="300.28" width="1.60" height="5" rx="0.6" fill="url(#utr)"/>
<rect x="399.5" y="308.99" width="24.50" height="1.1" fill="url(#intr)" opacity="0.9"/>
<rect x="400.00" y="307.04" width="8.00" height="5" rx="1.20" fill="url(#ex)"/>
<rect x="412.30" y="307.04" width="10.00" height="5" rx="1.20" fill="url(#ex)"/>
<rect x="422.30" y="307.04" width="1.70" height="5" rx="0.6" fill="url(#utr)"/>
<rect x="399.5" y="315.75" width="28.00" height="1.1" fill="url(#intr)" opacity="0.9"/>
<rect x="400.50" y="313.80" width="6.50" height="5" rx="1.20" fill="url(#ex)"/>
<rect x="417.40" y="313.80" width="8.60" height="5" rx="1.20" fill="url(#ex)"/>
<rect x="399.50" y="313.80" width="1.3" height="5" rx="0.5" fill="#22d6a6"/>
<rect x="426.00" y="313.80" width="1.60" height="5" rx="0.6" fill="url(#utr)"/>
<rect x="399.5" y="322.51" width="30.50" height="1.1" fill="url(#intr)" opacity="0.9"/>
<rect x="401.00" y="320.56" width="1.50" height="5" rx="0.75" fill="url(#ex)"/>
<rect x="409.00" y="320.56" width="3.60" height="5" rx="1.20" fill="url(#ex)"/>
<rect x="420.00" y="320.56" width="8.60" height="5" rx="1.20" fill="url(#ex)"/>
<rect x="399.50" y="320.56" width="1.3" height="5" rx="0.5" fill="#22d6a6"/>
<rect x="428.60" y="320.56" width="1.60" height="5" rx="0.6" fill="url(#utr)"/>
<rect x="399.5" y="329.27" width="24.50" height="1.1" fill="url(#intr)" opacity="0.9"/>
<rect x="400.50" y="327.32" width="7.00" height="5" rx="1.20" fill="url(#ex)"/>
<rect x="413.70" y="327.32" width="8.60" height="5" rx="1.20" fill="url(#ex)"/>
<rect x="399.50" y="327.32" width="1.3" height="5" rx="0.5" fill="#22d6a6"/>
<rect x="422.30" y="327.32" width="1.70" height="5" rx="0.6" fill="url(#utr)"/>
<rect x="399.5" y="336.03" width="26.50" height="1.1" fill="url(#intr)" opacity="0.9"/>
<rect x="400.50" y="334.08" width="7.50" height="5" rx="1.20" fill="url(#ex)"/>
<rect x="414.00" y="334.08" width="10.00" height="5" rx="1.20" fill="url(#ex)"/>
<rect x="399.50" y="334.08" width="1.3" height="5" rx="0.5" fill="#22d6a6"/>
<rect x="424.00" y="334.08" width="2.00" height="5" rx="0.6" fill="url(#utr)"/>
<rect x="399.5" y="342.79" width="20.50" height="1.1" fill="url(#intr)" opacity="0.9"/>
<rect x="400.00" y="340.84" width="7.00" height="5" rx="1.20" fill="url(#ex)"/>
<rect x="408.30" y="340.84" width="8.90" height="5" rx="1.20" fill="url(#ex)"/>
<rect x="417.20" y="340.84" width="2.80" height="5" rx="0.6" fill="url(#utr)"/>
<rect x="399.5" y="349.55" width="33.10" height="1.1" fill="url(#intr)" opacity="0.9"/>
<rect x="401.00" y="347.60" width="2.00" height="5" rx="1.00" fill="url(#ex)"/>
<rect x="408.60" y="347.60" width="3.70" height="5" rx="1.20" fill="url(#ex)"/>
<rect x="419.90" y="347.60" width="9.60" height="5" rx="1.20" fill="url(#ex)"/>
<rect x="399.50" y="347.60" width="1.3" height="5" rx="0.5" fill="#22d6a6"/>
<rect x="429.50" y="347.60" width="3.10" height="5" rx="0.6" fill="url(#utr)"/>
<rect x="399.5" y="356.31" width="46.20" height="1.1" fill="url(#intr)" opacity="0.9"/>
<rect x="401.00" y="354.36" width="1.50" height="5" rx="0.75" fill="url(#ex)"/>
<rect x="403.50" y="354.36" width="2.50" height="5" rx="1.20" fill="url(#ex)"/>
<rect x="433.20" y="354.36" width="9.10" height="5" rx="1.20" fill="url(#ex)"/>
<rect x="399.50" y="354.36" width="1.3" height="5" rx="0.5" fill="#22d6a6"/>
<rect x="442.30" y="354.36" width="3.40" height="5" rx="0.6" fill="url(#utr)"/>
<rect x="399.5" y="363.07" width="63.70" height="1.1" fill="url(#intr)" opacity="0.9"/>
<rect x="402.00" y="361.12" width="1.50" height="5" rx="0.75" fill="url(#ex)"/>
<rect x="404.50" y="361.12" width="1.50" height="5" rx="0.75" fill="url(#ex)"/>
<rect x="419.50" y="361.12" width="1.50" height="5" rx="0.75" fill="url(#ex)"/>
<rect x="426.50" y="361.12" width="1.50" height="5" rx="0.75" fill="url(#ex)"/>
<rect x="437.00" y="361.12" width="1.50" height="5" rx="0.75" fill="url(#ex)"/>
<rect x="439.00" y="361.12" width="1.50" height="5" rx="0.75" fill="url(#ex)"/>
<rect x="447.00" y="361.12" width="1.50" height="5" rx="0.75" fill="url(#ex)"/>
<rect x="449.40" y="361.12" width="1.50" height="5" rx="0.75" fill="url(#ex)"/>
<rect x="451.80" y="361.12" width="1.50" height="5" rx="0.75" fill="url(#ex)"/>
<rect x="455.50" y="361.12" width="1.50" height="5" rx="0.75" fill="url(#ex)"/>
<rect x="399.50" y="361.12" width="1.3" height="5" rx="0.5" fill="#22d6a6"/>
<rect x="460.50" y="361.12" width="2.70" height="5" rx="0.6" fill="url(#utr)"/>
<rect x="399.5" y="369.83" width="38.50" height="1.1" fill="url(#intr)" opacity="0.9"/>
<rect x="400.00" y="367.88" width="6.20" height="5" rx="1.20" fill="url(#ex)"/>
<rect x="425.90" y="367.88" width="9.10" height="5" rx="1.20" fill="url(#ex)"/>
<rect x="435.00" y="367.88" width="3.00" height="5" rx="0.6" fill="url(#utr)"/>
<rect x="399.5" y="376.59" width="41.30" height="1.1" fill="url(#intr)" opacity="0.9"/>
<rect x="400.20" y="374.64" width="6.00" height="5" rx="1.20" fill="url(#ex)"/>
<rect x="429.50" y="374.64" width="8.20" height="5" rx="1.20" fill="url(#ex)"/>
<rect x="437.70" y="374.64" width="3.10" height="5" rx="0.6" fill="url(#utr)"/>
<rect x="399.5" y="383.35" width="29.50" height="1.1" fill="url(#intr)" opacity="0.9"/>
<rect x="400.50" y="381.40" width="7.50" height="5" rx="1.20" fill="url(#ex)"/>
<rect x="419.20" y="381.40" width="8.00" height="5" rx="1.20" fill="url(#ex)"/>
<rect x="399.50" y="381.40" width="1.3" height="5" rx="0.5" fill="#22d6a6"/>
<rect x="427.20" y="381.40" width="1.80" height="5" rx="0.6" fill="url(#utr)"/>
<rect x="399.5" y="390.11" width="35.00" height="1.1" fill="url(#intr)" opacity="0.9"/>
<rect x="400.20" y="388.16" width="6.80" height="5" rx="1.20" fill="url(#ex)"/>
<rect x="424.00" y="388.16" width="9.20" height="5" rx="1.20" fill="url(#ex)"/>
<rect x="433.20" y="388.16" width="1.60" height="5" rx="0.6" fill="url(#utr)"/>
<path d="M398.7,395.7H505.2M505.2,395.7V392.5" stroke="#666" stroke-width="0.6" fill="none"/>
<path d="M399.20,395.7V397" stroke="#666" stroke-width="0.4"/>
<text x="399.20" y="401.1" font-size="2.8" fill="#444" text-anchor="middle">0</text>
<path d="M408.78,395.7V397" stroke="#666" stroke-width="0.4"/>
<text x="408.78" y="401.1" font-size="2.8" fill="#444" text-anchor="middle">1000</text>
<path d="M418.36,395.7V397" stroke="#666" stroke-width="0.4"/>
<text x="418.36" y="401.1" font-size="2.8" fill="#444" text-anchor="middle">2000</text>
<path d="M427.94,395.7V397" stroke="#666" stroke-width="0.4"/>
<text x="427.94" y="401.1" font-size="2.8" fill="#444" text-anchor="middle">3000</text>
<path d="M437.52,395.7V397" stroke="#666" stroke-width="0.4"/>
<text x="437.52" y="401.1" font-size="2.8" fill="#444" text-anchor="middle">4000</text>
<path d="M447.10,395.7V397" stroke="#666" stroke-width="0.4"/>
<text x="447.10" y="401.1" font-size="2.8" fill="#444" text-anchor="middle">5000</text>
<path d="M456.68,395.7V397" stroke="#666" stroke-width="0.4"/>
<text x="456.68" y="401.1" font-size="2.8" fill="#444" text-anchor="middle">6000</text>
<path d="M466.26,395.7V397" stroke="#666" stroke-width="0.4"/>
<text x="466.26" y="401.1" font-size="2.8" fill="#444" text-anchor="middle">7000</text>
<path d="M475.84,395.7V397" stroke="#666" stroke-width="0.4"/>
<text x="475.84" y="401.1" font-size="2.8" fill="#444" text-anchor="middle">8000</text>
<path d="M485.42,395.7V397" stroke="#666" stroke-width="0.4"/>
<text x="485.42" y="401.1" font-size="2.8" fill="#444" text-anchor="middle">9000</text>
<path d="M495.00,395.7V397" stroke="#666" stroke-width="0.4"/>
<text x="495.00" y="401.1" font-size="2.8" fill="#444" text-anchor="middle">10000</text>
<path d="M504.58,395.7V397" stroke="#666" stroke-width="0.4"/>
<text x="504.58" y="401.1" font-size="2.8" fill="#444" text-anchor="middle">11000</text>
<rect x="503.8" y="213" width="11.2" height="6.7" rx="1.6" fill="url(#utr)"/>
<rect x="503.8" y="224.3" width="11.2" height="6.5" rx="1.6" fill="url(#ex)"/>
<rect x="503" y="238" width="12" height="1" fill="url(#intr)"/>
<text x="517.5" y="217.8" font-size="3.9" fill="#222" stroke="#222" stroke-width="0.06">UTR</text>
<text x="518.5" y="229.2" font-size="3.9" fill="#222" stroke="#222" stroke-width="0.06">Exon</text>
<text x="518.5" y="240.2" font-size="3.9" fill="#222" stroke="#222" stroke-width="0.06">Intron</text>
<text x="5" y="14.7" font-size="12.6" fill="#111">A</text>
<text x="269.9" y="14.7" font-size="12.6" fill="#111">B</text>
<text x="5" y="224" font-size="12.6" fill="#111">C</text>
<text x="269.4" y="223.8" font-size="12.6" fill="#111">D</text>
</svg></body></html>
